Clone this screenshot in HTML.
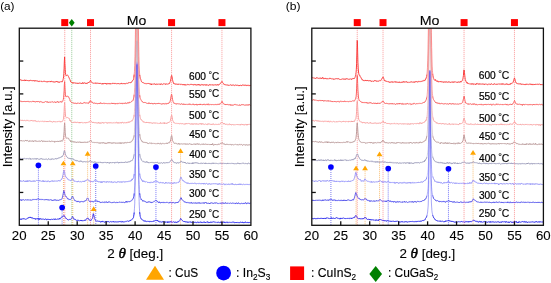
<!DOCTYPE html>
<html><head><meta charset="utf-8"><style>
html,body{margin:0;padding:0;background:#fff;}
svg{display:block;will-change:transform;}
</style></head><body>
<svg width="551" height="283" viewBox="0 0 551 283">
<defs><filter id="bl" x="0" y="0" width="551" height="283" filterUnits="userSpaceOnUse"><feConvolveMatrix order="3" kernelMatrix="0.015 0.06 0.015 0.06 0.7 0.06 0.015 0.06 0.015" edgeMode="duplicate" preserveAlpha="true"/></filter></defs>
<g>
<rect width="551" height="283" fill="#fff"/>
<clipPath id="clipa"><rect x="19.30" y="28.20" width="231.60" height="197.10"/></clipPath>
<g clip-path="url(#clipa)"><g filter="url(#bl)">
<line x1="64.75" y1="28.20" x2="64.75" y2="225.30" stroke="#ff2020" stroke-width="0.90" stroke-dasharray="1 1" stroke-opacity="0.50"/>
<line x1="90.52" y1="28.20" x2="90.52" y2="225.30" stroke="#ff2020" stroke-width="0.90" stroke-dasharray="1 1" stroke-opacity="0.50"/>
<line x1="171.58" y1="28.20" x2="171.58" y2="225.30" stroke="#ff2020" stroke-width="0.90" stroke-dasharray="1 1" stroke-opacity="0.50"/>
<line x1="221.95" y1="28.20" x2="221.95" y2="225.30" stroke="#ff2020" stroke-width="0.90" stroke-dasharray="1 1" stroke-opacity="0.50"/>
<line x1="71.76" y1="28.20" x2="71.76" y2="225.30" stroke="#209020" stroke-width="0.90" stroke-dasharray="1 1" stroke-opacity="0.50"/>
<line x1="38.41" y1="168.30" x2="38.41" y2="225.30" stroke="#2020ff" stroke-width="0.90" stroke-dasharray="1 1" stroke-opacity="0.65"/>
<line x1="62.15" y1="210.60" x2="62.15" y2="225.30" stroke="#2020ff" stroke-width="0.90" stroke-dasharray="1 1" stroke-opacity="0.65"/>
<line x1="95.73" y1="169.00" x2="95.73" y2="225.30" stroke="#2020ff" stroke-width="0.90" stroke-dasharray="1 1" stroke-opacity="0.65"/>
<line x1="155.94" y1="170.10" x2="155.94" y2="225.30" stroke="#2020ff" stroke-width="0.90" stroke-dasharray="1 1" stroke-opacity="0.65"/>
<line x1="63.48" y1="166.00" x2="63.48" y2="225.30" stroke="#ffa020" stroke-width="0.90" stroke-dasharray="1 1" stroke-opacity="0.65"/>
<line x1="72.74" y1="166.00" x2="72.74" y2="225.30" stroke="#ffa020" stroke-width="0.90" stroke-dasharray="1 1" stroke-opacity="0.65"/>
<line x1="87.62" y1="156.30" x2="87.62" y2="225.30" stroke="#ffa020" stroke-width="0.90" stroke-dasharray="1 1" stroke-opacity="0.65"/>
<line x1="93.70" y1="211.70" x2="93.70" y2="225.30" stroke="#ffa020" stroke-width="0.90" stroke-dasharray="1 1" stroke-opacity="0.65"/>
<line x1="180.55" y1="153.60" x2="180.55" y2="225.30" stroke="#ffa020" stroke-width="0.90" stroke-dasharray="1 1" stroke-opacity="0.65"/>
<path d="M19.30 80.17 L19.56 80.29 L19.82 80.16 L20.08 79.68 L20.34 79.92 L20.60 79.76 L20.86 80.10 L21.12 79.81 L21.38 80.29 L21.64 80.33 L21.91 80.79 L22.17 80.55 L22.43 80.53 L22.69 80.23 L22.95 80.07 L23.21 80.61 L23.47 80.42 L23.73 80.48 L23.99 80.45 L24.25 80.58 L24.51 79.94 L24.77 79.75 L25.03 80.34 L25.29 81.00 L25.55 80.06 L25.81 80.12 L26.07 80.41 L26.33 80.30 L26.60 80.34 L26.86 80.34 L27.12 80.71 L27.38 80.59 L27.64 80.60 L27.90 80.24 L28.16 80.65 L28.42 81.07 L28.68 80.91 L28.94 80.61 L29.20 80.28 L29.46 80.66 L29.72 80.78 L29.98 80.64 L30.24 80.04 L30.50 80.29 L30.76 80.28 L31.02 80.35 L31.29 80.69 L31.55 80.46 L31.81 80.61 L32.07 81.10 L32.33 80.68 L32.59 80.76 L32.85 80.99 L33.11 80.72 L33.37 80.41 L33.63 80.82 L33.89 81.12 L34.15 80.50 L34.41 80.72 L34.67 80.75 L34.93 81.26 L35.19 80.63 L35.45 80.82 L35.71 80.55 L35.98 80.62 L36.24 80.92 L36.50 80.92 L36.76 80.99 L37.02 80.86 L37.28 80.61 L37.54 81.23 L37.80 81.58 L38.06 81.28 L38.32 81.11 L38.58 81.54 L38.84 81.45 L39.10 81.37 L39.36 81.53 L39.62 81.10 L39.88 81.00 L40.14 81.24 L40.40 80.98 L40.67 81.24 L40.93 81.38 L41.19 81.53 L41.45 81.57 L41.71 81.07 L41.97 81.28 L42.23 81.48 L42.49 81.74 L42.75 81.81 L43.01 81.49 L43.27 81.42 L43.53 81.14 L43.79 81.25 L44.05 81.20 L44.31 81.05 L44.57 81.28 L44.83 81.72 L45.09 82.00 L45.36 81.75 L45.62 81.57 L45.88 81.64 L46.14 81.79 L46.40 81.77 L46.66 81.73 L46.92 81.56 L47.18 81.49 L47.44 82.16 L47.70 82.04 L47.96 81.49 L48.22 81.78 L48.48 81.45 L48.74 81.63 L49.00 81.49 L49.26 81.66 L49.52 81.50 L49.78 81.53 L50.04 81.75 L50.31 81.85 L50.57 81.24 L50.83 81.88 L51.09 81.17 L51.35 81.13 L51.61 81.39 L51.87 81.75 L52.13 81.70 L52.39 81.57 L52.65 81.96 L52.91 81.82 L53.17 81.75 L53.43 81.97 L53.69 81.63 L53.95 82.31 L54.21 82.28 L54.47 81.92 L54.73 81.84 L55.00 81.85 L55.26 82.01 L55.52 81.98 L55.78 81.64 L56.04 81.48 L56.30 82.01 L56.56 81.50 L56.82 81.50 L57.08 82.04 L57.34 81.50 L57.60 81.88 L57.86 82.13 L58.12 82.58 L58.38 82.41 L58.64 82.06 L58.90 81.61 L59.16 82.13 L59.42 82.25 L59.69 82.36 L59.95 82.39 L60.21 81.98 L60.47 81.75 L60.73 81.47 L60.99 81.78 L61.25 81.95 L61.51 81.57 L61.77 81.63 L62.03 81.77 L62.29 81.84 L62.55 81.03 L62.81 80.57 L63.07 79.65 L63.33 78.38 L63.59 76.88 L63.85 73.84 L64.11 68.24 L64.38 60.50 L64.64 56.98 L64.90 63.68 L65.16 69.27 L65.42 72.70 L65.68 74.39 L65.94 75.63 L66.20 75.71 L66.46 75.24 L66.72 75.49 L66.98 75.38 L67.24 75.17 L67.50 75.18 L67.76 75.34 L68.02 75.62 L68.28 76.20 L68.54 76.63 L68.80 77.28 L69.07 77.85 L69.33 78.45 L69.59 78.94 L69.85 79.58 L70.11 79.82 L70.37 80.91 L70.63 81.81 L70.89 81.76 L71.15 81.74 L71.41 82.25 L71.67 82.35 L71.93 82.80 L72.19 82.33 L72.45 83.10 L72.71 83.32 L72.97 83.15 L73.23 82.44 L73.49 82.71 L73.75 83.31 L74.02 83.12 L74.28 82.80 L74.54 82.98 L74.80 83.01 L75.06 82.69 L75.32 82.91 L75.58 83.26 L75.84 83.36 L76.10 83.42 L76.36 83.26 L76.62 82.94 L76.88 83.02 L77.14 83.59 L77.40 83.40 L77.66 83.39 L77.92 82.90 L78.18 83.35 L78.44 83.24 L78.71 83.58 L78.97 83.15 L79.23 83.10 L79.49 83.05 L79.75 82.94 L80.01 82.99 L80.27 83.13 L80.53 83.14 L80.79 83.24 L81.05 83.71 L81.31 83.48 L81.57 83.41 L81.83 83.05 L82.09 83.64 L82.35 83.11 L82.61 82.59 L82.87 83.04 L83.13 83.24 L83.40 82.96 L83.66 83.49 L83.92 82.83 L84.18 82.67 L84.44 83.01 L84.70 83.03 L84.96 83.07 L85.22 83.31 L85.48 83.17 L85.74 83.55 L86.00 82.87 L86.26 83.22 L86.52 83.73 L86.78 83.36 L87.04 83.40 L87.30 83.53 L87.56 83.21 L87.82 82.98 L88.09 82.24 L88.35 82.45 L88.61 82.92 L88.87 82.65 L89.13 82.16 L89.39 82.13 L89.65 81.77 L89.91 81.39 L90.17 80.76 L90.43 80.61 L90.69 80.40 L90.95 81.41 L91.21 81.76 L91.47 81.92 L91.73 82.45 L91.99 82.61 L92.25 82.84 L92.51 82.77 L92.78 82.89 L93.04 82.94 L93.30 83.00 L93.56 83.27 L93.82 83.07 L94.08 83.05 L94.34 83.28 L94.60 83.01 L94.86 83.21 L95.12 83.36 L95.38 83.43 L95.64 83.36 L95.90 82.63 L96.16 83.21 L96.42 83.44 L96.68 83.22 L96.94 83.58 L97.20 83.43 L97.47 83.18 L97.73 83.24 L97.99 83.40 L98.25 83.28 L98.51 83.27 L98.77 83.60 L99.03 83.94 L99.29 83.46 L99.55 83.29 L99.81 83.87 L100.07 83.52 L100.33 83.43 L100.59 83.43 L100.85 83.55 L101.11 83.61 L101.37 83.71 L101.63 83.96 L101.89 83.90 L102.15 83.95 L102.42 83.30 L102.68 83.66 L102.94 84.27 L103.20 83.64 L103.46 84.00 L103.72 83.52 L103.98 83.46 L104.24 83.41 L104.50 83.09 L104.76 83.41 L105.02 83.32 L105.28 83.86 L105.54 83.42 L105.80 83.12 L106.06 84.05 L106.32 83.76 L106.58 83.77 L106.84 84.34 L107.11 83.77 L107.37 83.32 L107.63 83.51 L107.89 83.63 L108.15 83.59 L108.41 83.80 L108.67 83.40 L108.93 83.93 L109.19 83.73 L109.45 83.66 L109.71 84.16 L109.97 83.37 L110.23 83.46 L110.49 84.04 L110.75 83.94 L111.01 83.95 L111.27 83.72 L111.53 84.00 L111.80 83.99 L112.06 83.62 L112.32 83.42 L112.58 83.42 L112.84 83.62 L113.10 83.53 L113.36 82.94 L113.62 83.26 L113.88 83.60 L114.14 83.88 L114.40 83.77 L114.66 83.31 L114.92 83.44 L115.18 83.78 L115.44 83.35 L115.70 83.52 L115.96 83.43 L116.22 83.68 L116.49 83.74 L116.75 83.50 L117.01 83.82 L117.27 83.74 L117.53 83.54 L117.79 83.79 L118.05 84.03 L118.31 83.63 L118.57 83.48 L118.83 83.88 L119.09 83.58 L119.35 83.80 L119.61 84.12 L119.87 83.81 L120.13 83.79 L120.39 83.65 L120.65 83.78 L120.91 83.38 L121.18 83.18 L121.44 83.48 L121.70 82.99 L121.96 83.79 L122.22 84.11 L122.48 83.83 L122.74 83.53 L123.00 83.47 L123.26 83.63 L123.52 83.52 L123.78 83.90 L124.04 83.51 L124.30 83.75 L124.56 83.55 L124.82 83.19 L125.08 83.70 L125.34 83.82 L125.60 83.63 L125.86 83.48 L126.13 83.48 L126.39 83.41 L126.65 83.20 L126.91 83.45 L127.17 83.50 L127.43 83.40 L127.69 83.23 L127.95 83.07 L128.21 83.02 L128.47 83.10 L128.73 82.65 L128.99 82.53 L129.25 82.85 L129.51 82.65 L129.77 83.01 L130.03 82.76 L130.29 82.62 L130.55 82.82 L130.82 82.78 L131.08 82.38 L131.34 82.09 L131.60 82.26 L131.86 81.56 L132.12 81.12 L132.38 81.02 L132.64 80.46 L132.90 80.13 L133.16 80.04 L133.42 79.65 L133.68 78.47 L133.94 77.04 L134.20 74.54" fill="none" stroke="#ff3c3c" stroke-width="0.98" stroke-linejoin="round" stroke-opacity="1.00"/><path d="M133.94 77.04 L134.20 74.54 L134.46 71.38 L134.72 65.60 L134.98 56.68 L135.24 44.45 L135.51 28.04 L135.77 8.20 L136.03 8.20 L136.29 8.20 L136.55 8.20 L136.81 8.20 L137.07 8.20 L137.33 8.20 L137.59 8.20 L137.85 8.20 L138.11 8.20 L138.37 25.81 L138.63 43.11 L138.89 55.68 L139.15 65.30 L139.41 70.88 L139.67 74.76 L139.93 76.48" fill="none" stroke="#ff3c3c" stroke-width="0.90" stroke-linejoin="round" stroke-opacity="0.60"/><path d="M139.67 74.76 L139.93 76.48 L140.20 78.23 L140.46 78.96 L140.72 79.32 L140.98 80.27 L141.24 80.80 L141.50 81.62 L141.76 81.88 L142.02 81.86 L142.28 82.20 L142.54 82.49 L142.80 82.21 L143.06 82.62 L143.32 82.74 L143.58 83.03 L143.84 83.17 L144.10 83.33 L144.36 83.36 L144.62 83.45 L144.89 83.51 L145.15 83.72 L145.41 83.37 L145.67 83.30 L145.93 83.66 L146.19 83.58 L146.45 83.77 L146.71 83.55 L146.97 83.31 L147.23 83.45 L147.49 83.44 L147.75 83.55 L148.01 83.80 L148.27 83.45 L148.53 83.44 L148.79 83.61 L149.05 83.74 L149.31 84.10 L149.58 83.92 L149.84 83.51 L150.10 84.23 L150.36 84.02 L150.62 84.21 L150.88 84.04 L151.14 83.86 L151.40 84.84 L151.66 83.96 L151.92 84.16 L152.18 84.17 L152.44 83.98 L152.70 84.25 L152.96 84.32 L153.22 84.18 L153.48 84.20 L153.74 84.05 L154.00 83.76 L154.26 83.65 L154.53 84.08 L154.79 84.02 L155.05 84.34 L155.31 84.00 L155.57 84.42 L155.83 83.90 L156.09 84.16 L156.35 83.83 L156.61 83.96 L156.87 84.54 L157.13 84.40 L157.39 84.32 L157.65 84.17 L157.91 84.16 L158.17 83.84 L158.43 84.08 L158.69 84.11 L158.95 84.48 L159.22 84.35 L159.48 84.13 L159.74 84.14 L160.00 84.20 L160.26 84.09 L160.52 84.53 L160.78 84.01 L161.04 84.06 L161.30 83.66 L161.56 83.95 L161.82 84.47 L162.08 84.71 L162.34 84.42 L162.60 84.30 L162.86 84.31 L163.12 84.24 L163.38 84.11 L163.64 83.76 L163.91 83.54 L164.17 83.67 L164.43 83.94 L164.69 84.13 L164.95 83.73 L165.21 83.94 L165.47 84.08 L165.73 84.54 L165.99 84.20 L166.25 83.75 L166.51 84.03 L166.77 84.04 L167.03 84.22 L167.29 84.31 L167.55 84.11 L167.81 83.84 L168.07 83.77 L168.33 83.84 L168.60 83.91 L168.86 84.07 L169.12 83.52 L169.38 83.48 L169.64 83.41 L169.90 82.39 L170.16 81.73 L170.42 81.31 L170.68 80.09 L170.94 78.55 L171.20 76.62 L171.46 75.65 L171.72 75.36 L171.98 76.61 L172.24 78.13 L172.50 79.60 L172.76 80.74 L173.02 81.92 L173.29 82.43 L173.55 83.47 L173.81 82.96 L174.07 83.17 L174.33 83.43 L174.59 83.93 L174.85 84.00 L175.11 84.38 L175.37 84.25 L175.63 83.81 L175.89 83.83 L176.15 84.25 L176.41 84.08 L176.67 84.22 L176.93 83.85 L177.19 84.10 L177.45 84.24 L177.71 84.55 L177.97 84.19 L178.24 83.84 L178.50 84.36 L178.76 84.46 L179.02 84.50 L179.28 84.26 L179.54 84.05 L179.80 84.02 L180.06 84.29 L180.32 84.50 L180.58 84.02 L180.84 84.12 L181.10 84.06 L181.36 84.24 L181.62 84.44 L181.88 84.54 L182.14 84.47 L182.40 84.70 L182.66 84.90 L182.93 84.31 L183.19 84.90 L183.45 84.59 L183.71 84.88 L183.97 84.87 L184.23 85.15 L184.49 84.51 L184.75 84.90 L185.01 84.68 L185.27 84.36 L185.53 85.05 L185.79 85.21 L186.05 85.28 L186.31 84.95 L186.57 84.89 L186.83 84.96 L187.09 84.49 L187.35 84.71 L187.62 84.35 L187.88 84.37 L188.14 84.54 L188.40 84.56 L188.66 84.53 L188.92 84.77 L189.18 85.04 L189.44 84.74 L189.70 84.89 L189.96 84.75 L190.22 84.60 L190.48 84.39 L190.74 84.54 L191.00 84.82 L191.26 84.33 L191.52 84.28 L191.78 84.29 L192.04 84.62 L192.31 84.90 L192.57 84.73 L192.83 84.43 L193.09 85.09 L193.35 84.92 L193.61 84.85 L193.87 84.64 L194.13 84.48 L194.39 84.97 L194.65 84.65 L194.91 84.68 L195.17 85.13 L195.43 84.55 L195.69 84.84 L195.95 84.84 L196.21 84.90 L196.47 85.25 L196.73 84.67 L197.00 84.84 L197.26 84.92 L197.52 85.04 L197.78 84.52 L198.04 84.25 L198.30 84.81 L198.56 85.02 L198.82 84.44 L199.08 85.12 L199.34 84.68 L199.60 85.16 L199.86 84.94 L200.12 85.33 L200.38 85.30 L200.64 85.14 L200.90 84.62 L201.16 84.42 L201.42 84.88 L201.69 84.75 L201.95 85.21 L202.21 85.04 L202.47 84.90 L202.73 84.52 L202.99 85.07 L203.25 85.04 L203.51 85.15 L203.77 85.10 L204.03 84.64 L204.29 84.79 L204.55 85.12 L204.81 84.76 L205.07 85.09 L205.33 85.15 L205.59 84.97 L205.85 84.68 L206.11 85.33 L206.37 84.66 L206.64 84.86 L206.90 84.98 L207.16 84.84 L207.42 84.96 L207.68 85.06 L207.94 85.00 L208.20 85.03 L208.46 85.01 L208.72 85.53 L208.98 85.43 L209.24 84.85 L209.50 84.48 L209.76 84.76 L210.02 85.09 L210.28 84.92 L210.54 84.92 L210.80 84.80 L211.06 84.67 L211.33 85.08 L211.59 84.86 L211.85 84.79 L212.11 84.77 L212.37 84.97 L212.63 84.65 L212.89 85.21 L213.15 85.04 L213.41 85.21 L213.67 84.89 L213.93 84.83 L214.19 85.08 L214.45 84.82 L214.71 84.83 L214.97 85.12 L215.23 84.71 L215.49 84.94 L215.75 84.70 L216.02 85.00 L216.28 84.96 L216.54 85.00 L216.80 85.24 L217.06 84.61 L217.32 84.76 L217.58 84.51 L217.84 84.85 L218.10 84.76 L218.36 85.31 L218.62 85.06 L218.88 84.45 L219.14 84.44 L219.40 84.05 L219.66 84.22 L219.92 83.99 L220.18 83.64 L220.44 83.27 L220.71 83.34 L220.97 82.85 L221.23 82.20 L221.49 82.12 L221.75 81.72 L222.01 81.39 L222.27 82.04 L222.53 82.41 L222.79 82.65 L223.05 82.84 L223.31 83.27 L223.57 83.90 L223.83 84.39 L224.09 84.38 L224.35 84.64 L224.61 84.37 L224.87 84.41 L225.13 84.99 L225.40 84.85 L225.66 84.87 L225.92 85.01 L226.18 84.84 L226.44 84.84 L226.70 85.13 L226.96 85.25 L227.22 85.17 L227.48 84.87 L227.74 84.98 L228.00 85.12 L228.26 85.54 L228.52 85.11 L228.78 84.99 L229.04 85.05 L229.30 85.42 L229.56 85.09 L229.82 85.01 L230.08 84.72 L230.35 84.76 L230.61 84.93 L230.87 85.09 L231.13 85.02 L231.39 85.07 L231.65 85.47 L231.91 84.96 L232.17 85.19 L232.43 85.07 L232.69 85.10 L232.95 85.17 L233.21 85.21 L233.47 85.01 L233.73 84.82 L233.99 85.26 L234.25 85.25 L234.51 85.01 L234.77 85.56 L235.04 85.32 L235.30 85.09 L235.56 84.86 L235.82 85.21 L236.08 85.27 L236.34 85.09 L236.60 85.32 L236.86 85.70 L237.12 85.31 L237.38 85.06 L237.64 85.21 L237.90 85.53 L238.16 85.70 L238.42 85.48 L238.68 85.37 L238.94 85.13 L239.20 85.60 L239.46 85.03 L239.73 85.62 L239.99 85.53 L240.25 85.42 L240.51 84.98 L240.77 85.23 L241.03 85.56 L241.29 85.70 L241.55 85.30 L241.81 85.75 L242.07 85.31 L242.33 84.90 L242.59 84.89 L242.85 85.02 L243.11 85.23 L243.37 85.10 L243.63 85.18 L243.89 85.21 L244.15 85.37 L244.42 84.87 L244.68 85.09 L244.94 85.66 L245.20 85.40 L245.46 85.22 L245.72 84.84 L245.98 85.19 L246.24 85.61 L246.50 85.71 L246.76 85.21 L247.02 84.95 L247.28 85.46 L247.54 85.54 L247.80 85.18 L248.06 85.29 L248.32 85.53 L248.58 85.33 L248.84 85.13 L249.11 85.40 L249.37 85.97 L249.63 85.61 L249.89 85.42 L250.15 85.46 L250.41 84.98 L250.67 85.63" fill="none" stroke="#ff3c3c" stroke-width="0.98" stroke-linejoin="round" stroke-opacity="1.00"/>
<path d="M19.30 101.04 L19.56 101.07 L19.82 101.75 L20.08 101.25 L20.34 100.86 L20.60 101.20 L20.86 101.27 L21.12 101.44 L21.38 101.22 L21.64 101.64 L21.91 101.55 L22.17 102.03 L22.43 101.67 L22.69 101.48 L22.95 101.74 L23.21 101.68 L23.47 101.23 L23.73 101.52 L23.99 101.22 L24.25 101.64 L24.51 101.29 L24.77 101.44 L25.03 101.19 L25.29 101.41 L25.55 101.76 L25.81 101.81 L26.07 101.36 L26.33 101.05 L26.60 101.50 L26.86 101.27 L27.12 101.18 L27.38 101.55 L27.64 101.16 L27.90 101.58 L28.16 101.79 L28.42 101.58 L28.68 101.27 L28.94 101.37 L29.20 101.86 L29.46 101.66 L29.72 101.89 L29.98 101.65 L30.24 101.60 L30.50 101.61 L30.76 101.60 L31.02 101.65 L31.29 101.81 L31.55 101.96 L31.81 101.65 L32.07 101.36 L32.33 101.35 L32.59 101.28 L32.85 100.97 L33.11 101.42 L33.37 101.36 L33.63 102.03 L33.89 101.61 L34.15 101.26 L34.41 101.64 L34.67 101.66 L34.93 101.90 L35.19 101.79 L35.45 102.21 L35.71 101.67 L35.98 101.76 L36.24 101.61 L36.50 101.56 L36.76 101.24 L37.02 101.75 L37.28 101.31 L37.54 101.72 L37.80 101.87 L38.06 101.90 L38.32 101.40 L38.58 101.88 L38.84 101.63 L39.10 101.85 L39.36 101.72 L39.62 102.30 L39.88 101.81 L40.14 101.77 L40.40 101.89 L40.67 101.47 L40.93 101.61 L41.19 101.73 L41.45 101.89 L41.71 101.79 L41.97 102.32 L42.23 102.53 L42.49 102.41 L42.75 102.05 L43.01 102.12 L43.27 102.52 L43.53 102.56 L43.79 102.29 L44.05 101.89 L44.31 102.22 L44.57 102.22 L44.83 102.04 L45.09 101.94 L45.36 101.59 L45.62 101.45 L45.88 101.47 L46.14 101.89 L46.40 101.99 L46.66 101.78 L46.92 101.85 L47.18 102.31 L47.44 101.76 L47.70 101.80 L47.96 101.61 L48.22 102.40 L48.48 102.01 L48.74 102.37 L49.00 102.31 L49.26 101.93 L49.52 102.15 L49.78 102.11 L50.04 102.17 L50.31 102.12 L50.57 102.22 L50.83 102.24 L51.09 101.89 L51.35 102.19 L51.61 101.88 L51.87 101.65 L52.13 101.82 L52.39 101.74 L52.65 101.78 L52.91 101.68 L53.17 102.17 L53.43 102.32 L53.69 101.97 L53.95 102.38 L54.21 102.14 L54.47 101.89 L54.73 101.75 L55.00 102.08 L55.26 102.05 L55.52 102.14 L55.78 102.87 L56.04 102.56 L56.30 102.20 L56.56 101.83 L56.82 101.90 L57.08 101.84 L57.34 101.85 L57.60 101.39 L57.86 101.91 L58.12 101.73 L58.38 102.55 L58.64 102.15 L58.90 102.33 L59.16 102.23 L59.42 101.90 L59.69 102.05 L59.95 101.92 L60.21 101.89 L60.47 101.97 L60.73 101.47 L60.99 102.19 L61.25 102.17 L61.51 101.94 L61.77 102.22 L62.03 101.61 L62.29 100.91 L62.55 101.26 L62.81 100.78 L63.07 100.36 L63.33 99.31 L63.59 97.75 L63.85 94.93 L64.11 90.71 L64.38 84.49 L64.64 81.59 L64.90 87.07 L65.16 91.95 L65.42 94.72 L65.68 96.13 L65.94 96.87 L66.20 96.91 L66.46 96.50 L66.72 96.28 L66.98 95.89 L67.24 96.11 L67.50 96.26 L67.76 96.49 L68.02 96.91 L68.28 96.86 L68.54 96.73 L68.80 97.43 L69.07 98.22 L69.33 98.37 L69.59 99.00 L69.85 99.60 L70.11 100.96 L70.37 101.44 L70.63 101.38 L70.89 101.64 L71.15 102.06 L71.41 102.37 L71.67 102.56 L71.93 102.34 L72.19 102.38 L72.45 103.05 L72.71 102.92 L72.97 103.18 L73.23 103.00 L73.49 103.03 L73.75 103.05 L74.02 102.92 L74.28 103.28 L74.54 103.29 L74.80 103.07 L75.06 103.06 L75.32 103.44 L75.58 102.89 L75.84 103.19 L76.10 103.37 L76.36 103.55 L76.62 103.57 L76.88 102.99 L77.14 103.24 L77.40 103.02 L77.66 103.26 L77.92 103.16 L78.18 103.33 L78.44 102.97 L78.71 103.09 L78.97 103.22 L79.23 103.27 L79.49 103.38 L79.75 103.66 L80.01 103.02 L80.27 103.09 L80.53 102.66 L80.79 103.13 L81.05 103.53 L81.31 103.29 L81.57 103.48 L81.83 103.76 L82.09 103.42 L82.35 103.45 L82.61 103.47 L82.87 103.03 L83.13 102.78 L83.40 102.92 L83.66 102.84 L83.92 103.20 L84.18 102.56 L84.44 102.42 L84.70 102.42 L84.96 102.96 L85.22 103.00 L85.48 103.02 L85.74 102.98 L86.00 102.93 L86.26 102.83 L86.52 103.05 L86.78 102.99 L87.04 103.09 L87.30 103.01 L87.56 103.00 L87.82 102.95 L88.09 103.43 L88.35 103.52 L88.61 103.22 L88.87 102.24 L89.13 102.45 L89.39 102.53 L89.65 102.05 L89.91 101.07 L90.17 100.79 L90.43 101.34 L90.69 100.91 L90.95 100.77 L91.21 101.41 L91.47 102.18 L91.73 102.36 L91.99 102.23 L92.25 102.02 L92.51 102.66 L92.78 102.42 L93.04 103.09 L93.30 103.38 L93.56 103.29 L93.82 103.18 L94.08 103.14 L94.34 103.12 L94.60 102.99 L94.86 102.91 L95.12 102.90 L95.38 103.57 L95.64 103.84 L95.90 103.47 L96.16 103.50 L96.42 103.29 L96.68 103.35 L96.94 103.70 L97.20 103.71 L97.47 103.73 L97.73 103.66 L97.99 103.67 L98.25 103.28 L98.51 103.54 L98.77 102.99 L99.03 103.33 L99.29 103.47 L99.55 103.54 L99.81 102.94 L100.07 103.52 L100.33 103.12 L100.59 102.68 L100.85 103.17 L101.11 103.33 L101.37 102.97 L101.63 103.38 L101.89 103.38 L102.15 103.42 L102.42 103.10 L102.68 103.56 L102.94 103.51 L103.20 103.42 L103.46 103.15 L103.72 103.18 L103.98 103.31 L104.24 102.95 L104.50 103.11 L104.76 103.71 L105.02 103.52 L105.28 103.50 L105.54 103.40 L105.80 103.69 L106.06 103.83 L106.32 103.67 L106.58 103.45 L106.84 103.68 L107.11 103.81 L107.37 103.56 L107.63 103.66 L107.89 103.71 L108.15 103.80 L108.41 103.64 L108.67 103.40 L108.93 103.51 L109.19 103.42 L109.45 103.48 L109.71 103.89 L109.97 103.85 L110.23 103.62 L110.49 103.65 L110.75 103.70 L111.01 103.68 L111.27 103.46 L111.53 103.38 L111.80 102.90 L112.06 103.33 L112.32 103.97 L112.58 103.45 L112.84 103.88 L113.10 103.40 L113.36 103.35 L113.62 103.75 L113.88 103.30 L114.14 103.29 L114.40 103.73 L114.66 103.50 L114.92 103.69 L115.18 104.20 L115.44 103.42 L115.70 103.77 L115.96 104.04 L116.22 103.63 L116.49 103.47 L116.75 103.68 L117.01 103.70 L117.27 103.93 L117.53 103.25 L117.79 103.38 L118.05 103.70 L118.31 103.67 L118.57 103.42 L118.83 103.64 L119.09 103.65 L119.35 103.26 L119.61 102.89 L119.87 103.28 L120.13 103.33 L120.39 103.43 L120.65 103.52 L120.91 103.20 L121.18 103.17 L121.44 103.62 L121.70 103.26 L121.96 103.02 L122.22 102.98 L122.48 103.37 L122.74 103.86 L123.00 103.78 L123.26 103.06 L123.52 103.24 L123.78 103.10 L124.04 103.44 L124.30 103.37 L124.56 103.23 L124.82 103.03 L125.08 103.48 L125.34 102.88 L125.60 102.96 L125.86 102.78 L126.13 103.27 L126.39 103.51 L126.65 103.31 L126.91 103.36 L127.17 103.10 L127.43 102.61 L127.69 102.85 L127.95 103.38 L128.21 102.85 L128.47 103.02 L128.73 102.41 L128.99 102.71 L129.25 102.96 L129.51 102.71 L129.77 102.03 L130.03 102.26 L130.29 101.99 L130.55 102.31 L130.82 102.14 L131.08 101.88 L131.34 101.78 L131.60 101.26 L131.86 101.16 L132.12 101.22 L132.38 100.92 L132.64 100.98 L132.90 100.40 L133.16 100.30 L133.42 98.93 L133.68 98.04 L133.94 96.88 L134.20 94.61" fill="none" stroke="#ff6060" stroke-width="0.98" stroke-linejoin="round" stroke-opacity="1.00"/><path d="M133.94 96.88 L134.20 94.61 L134.46 91.99 L134.72 87.34 L134.98 80.58 L135.24 70.88 L135.51 58.14 L135.77 42.41 L136.03 24.20 L136.29 8.20 L136.55 8.20 L136.81 8.20 L137.07 8.20 L137.33 8.20 L137.59 8.20 L137.85 22.00 L138.11 40.23 L138.37 56.44 L138.63 69.35 L138.89 79.96 L139.15 86.90 L139.41 91.83 L139.67 95.08 L139.93 97.40" fill="none" stroke="#ff6060" stroke-width="0.90" stroke-linejoin="round" stroke-opacity="0.60"/><path d="M139.67 95.08 L139.93 97.40 L140.20 98.26 L140.46 98.87 L140.72 99.37 L140.98 99.94 L141.24 100.58 L141.50 100.83 L141.76 100.98 L142.02 100.97 L142.28 101.34 L142.54 101.98 L142.80 102.16 L143.06 102.22 L143.32 102.60 L143.58 102.67 L143.84 102.18 L144.10 102.67 L144.36 102.46 L144.62 102.82 L144.89 102.56 L145.15 102.61 L145.41 102.33 L145.67 102.58 L145.93 102.97 L146.19 103.04 L146.45 103.31 L146.71 103.15 L146.97 103.34 L147.23 103.38 L147.49 103.38 L147.75 103.50 L148.01 103.20 L148.27 103.64 L148.53 103.63 L148.79 102.78 L149.05 102.61 L149.31 103.23 L149.58 103.46 L149.84 103.21 L150.10 103.98 L150.36 103.49 L150.62 103.67 L150.88 103.86 L151.14 103.43 L151.40 103.12 L151.66 103.32 L151.92 103.23 L152.18 103.63 L152.44 103.19 L152.70 103.70 L152.96 104.20 L153.22 103.74 L153.48 103.53 L153.74 103.71 L154.00 103.65 L154.26 103.39 L154.53 103.19 L154.79 103.97 L155.05 103.50 L155.31 103.64 L155.57 103.80 L155.83 103.92 L156.09 103.87 L156.35 103.50 L156.61 103.74 L156.87 103.85 L157.13 103.41 L157.39 103.78 L157.65 103.24 L157.91 103.60 L158.17 103.37 L158.43 103.34 L158.69 103.79 L158.95 103.37 L159.22 103.72 L159.48 103.97 L159.74 103.50 L160.00 103.67 L160.26 104.07 L160.52 103.72 L160.78 103.79 L161.04 104.00 L161.30 104.02 L161.56 104.22 L161.82 103.76 L162.08 104.32 L162.34 104.14 L162.60 103.83 L162.86 103.45 L163.12 103.91 L163.38 103.83 L163.64 103.65 L163.91 104.00 L164.17 104.11 L164.43 104.13 L164.69 103.59 L164.95 103.47 L165.21 103.33 L165.47 103.63 L165.73 104.07 L165.99 104.14 L166.25 104.17 L166.51 103.45 L166.77 103.61 L167.03 103.42 L167.29 103.50 L167.55 103.60 L167.81 103.62 L168.07 102.96 L168.33 103.52 L168.60 103.15 L168.86 103.22 L169.12 102.47 L169.38 102.62 L169.64 102.41 L169.90 102.44 L170.16 100.99 L170.42 100.27 L170.68 98.81 L170.94 97.03 L171.20 95.80 L171.46 94.27 L171.72 94.44 L171.98 95.93 L172.24 97.72 L172.50 99.31 L172.76 100.21 L173.02 101.55 L173.29 102.26 L173.55 102.48 L173.81 103.27 L174.07 103.22 L174.33 103.05 L174.59 103.45 L174.85 103.70 L175.11 103.31 L175.37 103.70 L175.63 103.95 L175.89 103.77 L176.15 104.03 L176.41 104.21 L176.67 103.62 L176.93 104.03 L177.19 103.81 L177.45 103.66 L177.71 103.97 L177.97 103.85 L178.24 104.02 L178.50 103.89 L178.76 103.69 L179.02 104.01 L179.28 103.96 L179.54 104.03 L179.80 103.90 L180.06 104.12 L180.32 104.10 L180.58 104.41 L180.84 104.09 L181.10 104.24 L181.36 103.97 L181.62 103.58 L181.88 104.17 L182.14 104.15 L182.40 104.23 L182.66 104.49 L182.93 103.98 L183.19 103.94 L183.45 103.90 L183.71 103.99 L183.97 104.85 L184.23 104.44 L184.49 104.39 L184.75 104.13 L185.01 104.25 L185.27 104.21 L185.53 104.66 L185.79 104.28 L186.05 104.55 L186.31 104.27 L186.57 104.26 L186.83 104.12 L187.09 104.42 L187.35 104.29 L187.62 104.54 L187.88 104.42 L188.14 104.22 L188.40 104.04 L188.66 104.41 L188.92 104.02 L189.18 104.39 L189.44 103.78 L189.70 104.32 L189.96 104.43 L190.22 104.38 L190.48 104.54 L190.74 104.06 L191.00 104.18 L191.26 104.48 L191.52 104.72 L191.78 104.52 L192.04 104.51 L192.31 104.45 L192.57 104.65 L192.83 104.25 L193.09 103.77 L193.35 104.53 L193.61 104.61 L193.87 104.16 L194.13 104.46 L194.39 104.86 L194.65 105.12 L194.91 104.62 L195.17 104.86 L195.43 104.32 L195.69 104.62 L195.95 104.80 L196.21 104.34 L196.47 104.11 L196.73 104.92 L197.00 104.93 L197.26 105.22 L197.52 104.64 L197.78 104.38 L198.04 105.00 L198.30 104.62 L198.56 104.08 L198.82 104.37 L199.08 104.66 L199.34 104.69 L199.60 103.96 L199.86 104.45 L200.12 103.96 L200.38 104.96 L200.64 104.31 L200.90 104.28 L201.16 104.50 L201.42 104.41 L201.69 104.82 L201.95 104.47 L202.21 104.64 L202.47 104.70 L202.73 104.71 L202.99 104.30 L203.25 104.96 L203.51 104.47 L203.77 104.29 L204.03 104.41 L204.29 104.59 L204.55 103.88 L204.81 104.27 L205.07 104.79 L205.33 104.71 L205.59 104.69 L205.85 104.86 L206.11 104.78 L206.37 104.28 L206.64 104.16 L206.90 104.48 L207.16 103.90 L207.42 104.39 L207.68 105.06 L207.94 104.65 L208.20 104.86 L208.46 103.85 L208.72 104.16 L208.98 104.40 L209.24 104.58 L209.50 104.40 L209.76 104.82 L210.02 104.63 L210.28 104.50 L210.54 104.57 L210.80 104.77 L211.06 104.42 L211.33 104.56 L211.59 104.49 L211.85 104.88 L212.11 104.73 L212.37 104.31 L212.63 104.52 L212.89 104.35 L213.15 104.68 L213.41 104.60 L213.67 104.74 L213.93 104.73 L214.19 104.44 L214.45 104.61 L214.71 104.64 L214.97 104.67 L215.23 104.67 L215.49 104.56 L215.75 104.15 L216.02 103.98 L216.28 104.42 L216.54 104.90 L216.80 104.89 L217.06 104.49 L217.32 104.60 L217.58 104.53 L217.84 104.12 L218.10 104.19 L218.36 103.89 L218.62 104.28 L218.88 104.84 L219.14 104.41 L219.40 103.89 L219.66 104.10 L219.92 104.27 L220.18 103.69 L220.44 103.78 L220.71 103.48 L220.97 102.97 L221.23 102.53 L221.49 102.55 L221.75 102.58 L222.01 101.24 L222.27 101.83 L222.53 102.59 L222.79 102.51 L223.05 102.97 L223.31 103.57 L223.57 103.98 L223.83 104.12 L224.09 103.83 L224.35 104.17 L224.61 104.49 L224.87 104.70 L225.13 104.21 L225.40 104.84 L225.66 104.52 L225.92 105.06 L226.18 104.40 L226.44 104.11 L226.70 104.48 L226.96 104.85 L227.22 104.56 L227.48 104.70 L227.74 104.23 L228.00 104.22 L228.26 104.44 L228.52 104.65 L228.78 105.10 L229.04 105.01 L229.30 104.84 L229.56 104.84 L229.82 104.52 L230.08 105.08 L230.35 104.75 L230.61 104.65 L230.87 105.50 L231.13 104.87 L231.39 105.05 L231.65 104.95 L231.91 104.71 L232.17 104.68 L232.43 104.93 L232.69 105.36 L232.95 105.28 L233.21 104.84 L233.47 105.21 L233.73 104.92 L233.99 104.70 L234.25 104.62 L234.51 104.99 L234.77 104.40 L235.04 104.47 L235.30 104.79 L235.56 105.02 L235.82 104.48 L236.08 104.72 L236.34 104.75 L236.60 105.06 L236.86 105.16 L237.12 105.25 L237.38 105.11 L237.64 104.92 L237.90 105.05 L238.16 105.22 L238.42 105.34 L238.68 105.22 L238.94 104.93 L239.20 104.92 L239.46 104.70 L239.73 105.50 L239.99 105.18 L240.25 105.27 L240.51 105.26 L240.77 105.28 L241.03 105.09 L241.29 104.86 L241.55 105.15 L241.81 104.36 L242.07 104.71 L242.33 104.68 L242.59 104.71 L242.85 105.04 L243.11 104.75 L243.37 104.83 L243.63 104.67 L243.89 104.89 L244.15 104.84 L244.42 105.13 L244.68 105.38 L244.94 105.09 L245.20 104.77 L245.46 105.27 L245.72 105.16 L245.98 105.24 L246.24 105.22 L246.50 105.22 L246.76 104.62 L247.02 104.93 L247.28 104.86 L247.54 104.94 L247.80 104.91 L248.06 105.39 L248.32 105.06 L248.58 105.08 L248.84 104.51 L249.11 105.03 L249.37 104.60 L249.63 104.96 L249.89 104.94 L250.15 105.33 L250.41 105.29 L250.67 105.42" fill="none" stroke="#ff6060" stroke-width="0.98" stroke-linejoin="round" stroke-opacity="1.00"/>
<path d="M19.30 120.41 L19.56 120.56 L19.82 120.53 L20.08 120.69 L20.34 120.19 L20.60 120.09 L20.86 119.98 L21.12 119.98 L21.38 120.52 L21.64 120.47 L21.91 120.15 L22.17 120.08 L22.43 120.59 L22.69 120.16 L22.95 120.20 L23.21 120.48 L23.47 120.78 L23.73 120.89 L23.99 120.46 L24.25 120.14 L24.51 120.10 L24.77 120.49 L25.03 120.57 L25.29 120.86 L25.55 120.86 L25.81 120.94 L26.07 120.42 L26.33 120.26 L26.60 120.51 L26.86 120.70 L27.12 120.46 L27.38 120.94 L27.64 120.32 L27.90 120.54 L28.16 120.41 L28.42 120.73 L28.68 120.86 L28.94 120.69 L29.20 120.82 L29.46 121.12 L29.72 120.70 L29.98 120.56 L30.24 120.47 L30.50 120.62 L30.76 120.51 L31.02 120.28 L31.29 120.86 L31.55 120.55 L31.81 120.17 L32.07 120.81 L32.33 120.55 L32.59 120.94 L32.85 121.22 L33.11 120.76 L33.37 120.58 L33.63 121.15 L33.89 120.59 L34.15 120.56 L34.41 120.67 L34.67 120.72 L34.93 121.28 L35.19 121.09 L35.45 120.61 L35.71 121.33 L35.98 121.34 L36.24 121.15 L36.50 121.62 L36.76 121.53 L37.02 121.48 L37.28 121.11 L37.54 121.17 L37.80 121.61 L38.06 121.52 L38.32 121.27 L38.58 120.91 L38.84 121.30 L39.10 121.35 L39.36 121.59 L39.62 121.60 L39.88 121.65 L40.14 121.46 L40.40 121.51 L40.67 121.31 L40.93 121.47 L41.19 121.54 L41.45 121.57 L41.71 121.29 L41.97 121.52 L42.23 121.45 L42.49 121.21 L42.75 121.41 L43.01 121.64 L43.27 121.42 L43.53 121.89 L43.79 121.71 L44.05 121.85 L44.31 121.79 L44.57 121.14 L44.83 120.92 L45.09 121.46 L45.36 121.40 L45.62 121.35 L45.88 121.62 L46.14 121.65 L46.40 121.65 L46.66 121.33 L46.92 121.85 L47.18 121.07 L47.44 121.67 L47.70 121.46 L47.96 121.75 L48.22 121.64 L48.48 121.67 L48.74 121.98 L49.00 121.53 L49.26 121.02 L49.52 121.24 L49.78 120.86 L50.04 121.19 L50.31 121.26 L50.57 121.62 L50.83 121.44 L51.09 121.64 L51.35 121.22 L51.61 121.57 L51.87 121.54 L52.13 121.85 L52.39 122.29 L52.65 122.02 L52.91 121.98 L53.17 121.51 L53.43 121.43 L53.69 122.06 L53.95 121.33 L54.21 121.49 L54.47 121.73 L54.73 121.93 L55.00 121.60 L55.26 121.65 L55.52 121.81 L55.78 122.06 L56.04 121.81 L56.30 121.65 L56.56 122.00 L56.82 122.04 L57.08 121.65 L57.34 121.76 L57.60 121.68 L57.86 121.70 L58.12 121.25 L58.38 121.61 L58.64 121.63 L58.90 121.32 L59.16 121.54 L59.42 121.38 L59.69 121.39 L59.95 121.48 L60.21 122.14 L60.47 122.07 L60.73 121.46 L60.99 121.87 L61.25 121.56 L61.51 121.87 L61.77 121.76 L62.03 121.81 L62.29 121.65 L62.55 121.06 L62.81 120.58 L63.07 120.18 L63.33 119.33 L63.59 118.06 L63.85 115.97 L64.11 111.37 L64.38 105.61 L64.64 102.67 L64.90 107.52 L65.16 111.97 L65.42 114.96 L65.68 116.69 L65.94 117.29 L66.20 117.41 L66.46 117.60 L66.72 117.85 L66.98 117.79 L67.24 117.32 L67.50 117.61 L67.76 117.47 L68.02 117.50 L68.28 118.18 L68.54 118.39 L68.80 118.65 L69.07 118.98 L69.33 118.59 L69.59 119.83 L69.85 120.64 L70.11 120.08 L70.37 120.14 L70.63 120.93 L70.89 121.73 L71.15 121.94 L71.41 122.17 L71.67 121.95 L71.93 121.90 L72.19 122.29 L72.45 122.00 L72.71 122.60 L72.97 122.66 L73.23 122.47 L73.49 122.25 L73.75 122.82 L74.02 122.56 L74.28 122.03 L74.54 122.11 L74.80 121.85 L75.06 122.51 L75.32 122.20 L75.58 122.39 L75.84 122.58 L76.10 122.86 L76.36 122.23 L76.62 122.59 L76.88 122.42 L77.14 122.45 L77.40 121.91 L77.66 122.37 L77.92 122.54 L78.18 122.63 L78.44 122.74 L78.71 122.40 L78.97 122.07 L79.23 122.58 L79.49 122.21 L79.75 123.15 L80.01 122.65 L80.27 122.05 L80.53 122.64 L80.79 122.56 L81.05 122.38 L81.31 122.39 L81.57 122.45 L81.83 122.16 L82.09 122.74 L82.35 122.96 L82.61 122.72 L82.87 122.44 L83.13 122.63 L83.40 122.90 L83.66 122.81 L83.92 122.60 L84.18 122.70 L84.44 122.31 L84.70 122.74 L84.96 123.04 L85.22 122.94 L85.48 122.95 L85.74 122.84 L86.00 122.31 L86.26 122.87 L86.52 122.98 L86.78 122.41 L87.04 122.42 L87.30 122.70 L87.56 122.68 L87.82 122.23 L88.09 122.06 L88.35 121.92 L88.61 122.22 L88.87 122.37 L89.13 122.28 L89.39 121.80 L89.65 121.58 L89.91 121.04 L90.17 121.06 L90.43 120.66 L90.69 120.57 L90.95 121.23 L91.21 121.39 L91.47 121.58 L91.73 121.62 L91.99 122.00 L92.25 122.62 L92.51 122.17 L92.78 122.69 L93.04 122.28 L93.30 122.26 L93.56 122.79 L93.82 122.43 L94.08 122.51 L94.34 122.52 L94.60 123.00 L94.86 122.94 L95.12 122.66 L95.38 122.61 L95.64 122.82 L95.90 122.59 L96.16 122.90 L96.42 123.11 L96.68 123.08 L96.94 122.60 L97.20 123.12 L97.47 122.91 L97.73 123.25 L97.99 123.09 L98.25 122.87 L98.51 122.35 L98.77 123.18 L99.03 122.74 L99.29 122.93 L99.55 123.14 L99.81 123.33 L100.07 122.74 L100.33 123.29 L100.59 122.83 L100.85 122.79 L101.11 123.39 L101.37 122.99 L101.63 122.90 L101.89 122.52 L102.15 122.78 L102.42 122.22 L102.68 122.74 L102.94 123.02 L103.20 122.95 L103.46 122.64 L103.72 123.31 L103.98 122.97 L104.24 122.77 L104.50 122.84 L104.76 122.62 L105.02 122.59 L105.28 122.42 L105.54 122.55 L105.80 122.26 L106.06 122.80 L106.32 122.76 L106.58 122.78 L106.84 122.95 L107.11 122.79 L107.37 123.37 L107.63 122.72 L107.89 122.92 L108.15 123.09 L108.41 122.89 L108.67 122.64 L108.93 122.53 L109.19 123.11 L109.45 122.91 L109.71 123.04 L109.97 122.45 L110.23 122.61 L110.49 122.95 L110.75 122.90 L111.01 122.91 L111.27 122.68 L111.53 123.10 L111.80 122.93 L112.06 123.11 L112.32 123.11 L112.58 122.81 L112.84 122.87 L113.10 122.93 L113.36 122.69 L113.62 122.83 L113.88 122.70 L114.14 122.46 L114.40 122.79 L114.66 122.93 L114.92 123.12 L115.18 123.10 L115.44 122.74 L115.70 122.64 L115.96 123.11 L116.22 122.77 L116.49 122.37 L116.75 122.26 L117.01 122.49 L117.27 123.23 L117.53 122.61 L117.79 123.15 L118.05 122.76 L118.31 122.75 L118.57 122.58 L118.83 123.24 L119.09 123.33 L119.35 122.79 L119.61 122.95 L119.87 122.46 L120.13 122.59 L120.39 122.82 L120.65 122.71 L120.91 122.91 L121.18 122.23 L121.44 123.24 L121.70 122.84 L121.96 122.31 L122.22 122.40 L122.48 122.23 L122.74 122.32 L123.00 122.87 L123.26 122.76 L123.52 123.04 L123.78 123.11 L124.04 123.34 L124.30 122.66 L124.56 122.38 L124.82 122.63 L125.08 122.99 L125.34 123.08 L125.60 122.71 L125.86 122.74 L126.13 123.08 L126.39 123.04 L126.65 122.25 L126.91 122.62 L127.17 122.75 L127.43 122.62 L127.69 122.41 L127.95 121.89 L128.21 122.25 L128.47 122.49 L128.73 122.47 L128.99 121.67 L129.25 122.20 L129.51 122.21 L129.77 122.24 L130.03 121.67 L130.29 121.71 L130.55 121.38 L130.82 121.36 L131.08 121.29 L131.34 121.25 L131.60 120.69 L131.86 120.94 L132.12 121.14 L132.38 120.44 L132.64 120.04 L132.90 119.54 L133.16 118.93 L133.42 118.30 L133.68 117.42 L133.94 116.75 L134.20 114.75" fill="none" stroke="#ffa6a6" stroke-width="0.98" stroke-linejoin="round" stroke-opacity="1.00"/><path d="M133.94 116.75 L134.20 114.75 L134.46 111.58 L134.72 107.27 L134.98 101.11 L135.24 91.96 L135.51 80.57 L135.77 66.20 L136.03 49.09 L136.29 32.47 L136.55 18.53 L136.81 10.12 L137.07 10.10 L137.33 17.15 L137.59 31.00 L137.85 47.71 L138.11 64.77 L138.37 79.29 L138.63 91.41 L138.89 100.86 L139.15 106.76 L139.41 111.31 L139.67 114.66 L139.93 116.18" fill="none" stroke="#ffa6a6" stroke-width="0.90" stroke-linejoin="round" stroke-opacity="0.60"/><path d="M139.67 114.66 L139.93 116.18 L140.20 117.60 L140.46 118.64 L140.72 119.19 L140.98 119.79 L141.24 119.97 L141.50 119.89 L141.76 120.07 L142.02 120.28 L142.28 121.05 L142.54 121.20 L142.80 121.25 L143.06 121.12 L143.32 122.31 L143.58 122.09 L143.84 121.64 L144.10 122.11 L144.36 122.12 L144.62 122.40 L144.89 122.77 L145.15 122.88 L145.41 122.58 L145.67 122.46 L145.93 122.38 L146.19 122.10 L146.45 122.10 L146.71 122.96 L146.97 122.60 L147.23 122.34 L147.49 122.40 L147.75 122.00 L148.01 122.66 L148.27 122.53 L148.53 122.71 L148.79 122.58 L149.05 122.11 L149.31 123.15 L149.58 122.91 L149.84 122.61 L150.10 122.53 L150.36 122.71 L150.62 122.77 L150.88 122.58 L151.14 122.58 L151.40 122.93 L151.66 123.31 L151.92 122.76 L152.18 122.94 L152.44 123.26 L152.70 123.44 L152.96 122.91 L153.22 122.72 L153.48 122.74 L153.74 123.08 L154.00 123.41 L154.26 123.18 L154.53 122.85 L154.79 122.80 L155.05 123.18 L155.31 123.00 L155.57 122.99 L155.83 123.15 L156.09 123.07 L156.35 123.19 L156.61 122.87 L156.87 123.09 L157.13 123.36 L157.39 123.23 L157.65 123.37 L157.91 123.47 L158.17 123.29 L158.43 123.57 L158.69 123.53 L158.95 123.54 L159.22 123.30 L159.48 123.31 L159.74 123.61 L160.00 123.23 L160.26 123.51 L160.52 122.51 L160.78 122.64 L161.04 122.91 L161.30 123.34 L161.56 123.22 L161.82 122.94 L162.08 123.39 L162.34 123.13 L162.60 123.04 L162.86 122.99 L163.12 122.97 L163.38 123.02 L163.64 123.28 L163.91 123.41 L164.17 122.48 L164.43 123.69 L164.69 123.11 L164.95 123.21 L165.21 122.83 L165.47 123.28 L165.73 123.11 L165.99 123.41 L166.25 123.11 L166.51 123.48 L166.77 122.93 L167.03 123.14 L167.29 123.36 L167.55 123.08 L167.81 122.48 L168.07 122.26 L168.33 122.69 L168.60 122.27 L168.86 122.63 L169.12 122.39 L169.38 122.17 L169.64 121.87 L169.90 121.59 L170.16 121.29 L170.42 120.62 L170.68 118.91 L170.94 118.05 L171.20 116.20 L171.46 115.57 L171.72 115.18 L171.98 116.21 L172.24 117.81 L172.50 119.50 L172.76 120.56 L173.02 121.06 L173.29 121.51 L173.55 121.83 L173.81 122.74 L174.07 122.77 L174.33 122.76 L174.59 122.93 L174.85 123.09 L175.11 123.07 L175.37 123.29 L175.63 123.52 L175.89 123.40 L176.15 123.36 L176.41 123.24 L176.67 123.55 L176.93 123.46 L177.19 123.59 L177.45 123.36 L177.71 123.70 L177.97 123.38 L178.24 123.67 L178.50 123.37 L178.76 123.43 L179.02 124.09 L179.28 123.90 L179.54 123.73 L179.80 123.88 L180.06 123.98 L180.32 123.77 L180.58 123.51 L180.84 123.19 L181.10 123.29 L181.36 124.02 L181.62 123.82 L181.88 123.79 L182.14 123.79 L182.40 123.49 L182.66 123.68 L182.93 123.43 L183.19 123.88 L183.45 124.15 L183.71 123.91 L183.97 124.19 L184.23 124.40 L184.49 123.79 L184.75 123.82 L185.01 123.54 L185.27 123.68 L185.53 124.17 L185.79 124.11 L186.05 123.46 L186.31 123.93 L186.57 123.89 L186.83 123.37 L187.09 123.91 L187.35 123.80 L187.62 123.53 L187.88 123.63 L188.14 123.48 L188.40 123.46 L188.66 123.79 L188.92 123.48 L189.18 123.51 L189.44 123.58 L189.70 123.93 L189.96 124.07 L190.22 124.22 L190.48 124.24 L190.74 123.87 L191.00 123.79 L191.26 123.51 L191.52 124.17 L191.78 124.19 L192.04 124.29 L192.31 123.76 L192.57 123.87 L192.83 123.79 L193.09 124.54 L193.35 123.86 L193.61 123.82 L193.87 124.00 L194.13 124.02 L194.39 123.80 L194.65 123.97 L194.91 123.82 L195.17 123.57 L195.43 124.11 L195.69 124.13 L195.95 123.91 L196.21 124.33 L196.47 123.64 L196.73 123.70 L197.00 124.22 L197.26 124.16 L197.52 124.05 L197.78 123.89 L198.04 124.27 L198.30 124.19 L198.56 124.10 L198.82 124.15 L199.08 124.34 L199.34 123.80 L199.60 123.74 L199.86 123.51 L200.12 123.88 L200.38 123.74 L200.64 124.04 L200.90 123.48 L201.16 124.41 L201.42 124.01 L201.69 124.25 L201.95 123.49 L202.21 124.27 L202.47 124.03 L202.73 123.74 L202.99 124.20 L203.25 124.26 L203.51 124.15 L203.77 124.01 L204.03 124.16 L204.29 124.41 L204.55 124.43 L204.81 124.28 L205.07 124.30 L205.33 123.91 L205.59 123.93 L205.85 124.03 L206.11 124.13 L206.37 124.37 L206.64 124.48 L206.90 124.38 L207.16 124.29 L207.42 123.88 L207.68 124.62 L207.94 124.37 L208.20 123.71 L208.46 124.08 L208.72 124.05 L208.98 124.09 L209.24 123.79 L209.50 124.17 L209.76 124.16 L210.02 124.27 L210.28 124.36 L210.54 124.06 L210.80 124.29 L211.06 124.18 L211.33 124.66 L211.59 124.93 L211.85 124.21 L212.11 124.37 L212.37 124.36 L212.63 123.86 L212.89 124.28 L213.15 124.30 L213.41 123.77 L213.67 124.34 L213.93 124.52 L214.19 124.71 L214.45 124.52 L214.71 124.44 L214.97 124.11 L215.23 124.14 L215.49 124.29 L215.75 124.43 L216.02 124.14 L216.28 124.17 L216.54 124.47 L216.80 124.73 L217.06 125.03 L217.32 124.76 L217.58 124.24 L217.84 123.96 L218.10 124.28 L218.36 124.25 L218.62 124.13 L218.88 124.17 L219.14 124.45 L219.40 124.00 L219.66 124.20 L219.92 124.14 L220.18 123.96 L220.44 123.99 L220.71 123.31 L220.97 122.65 L221.23 122.35 L221.49 122.49 L221.75 122.57 L222.01 122.49 L222.27 122.34 L222.53 122.96 L222.79 123.08 L223.05 123.39 L223.31 123.46 L223.57 123.61 L223.83 124.20 L224.09 123.26 L224.35 123.68 L224.61 123.76 L224.87 123.98 L225.13 123.96 L225.40 124.41 L225.66 124.42 L225.92 123.92 L226.18 123.98 L226.44 124.34 L226.70 124.24 L226.96 124.24 L227.22 124.12 L227.48 124.35 L227.74 124.80 L228.00 124.59 L228.26 124.68 L228.52 124.64 L228.78 124.10 L229.04 124.06 L229.30 123.95 L229.56 123.82 L229.82 124.76 L230.08 124.65 L230.35 124.53 L230.61 124.12 L230.87 124.50 L231.13 124.50 L231.39 125.08 L231.65 125.03 L231.91 124.79 L232.17 124.54 L232.43 124.04 L232.69 124.53 L232.95 124.51 L233.21 124.52 L233.47 124.67 L233.73 125.09 L233.99 124.86 L234.25 124.85 L234.51 124.75 L234.77 124.50 L235.04 124.44 L235.30 124.48 L235.56 124.74 L235.82 124.95 L236.08 124.78 L236.34 124.42 L236.60 124.59 L236.86 125.03 L237.12 124.76 L237.38 124.64 L237.64 124.50 L237.90 124.33 L238.16 124.92 L238.42 124.71 L238.68 124.61 L238.94 124.59 L239.20 124.57 L239.46 124.66 L239.73 124.82 L239.99 125.00 L240.25 125.19 L240.51 124.30 L240.77 124.73 L241.03 124.44 L241.29 124.23 L241.55 124.68 L241.81 124.65 L242.07 124.72 L242.33 124.68 L242.59 124.05 L242.85 124.78 L243.11 124.47 L243.37 124.68 L243.63 124.52 L243.89 124.68 L244.15 125.21 L244.42 124.66 L244.68 124.66 L244.94 124.43 L245.20 124.27 L245.46 124.66 L245.72 124.59 L245.98 124.56 L246.24 124.95 L246.50 125.18 L246.76 124.19 L247.02 124.72 L247.28 124.84 L247.54 124.22 L247.80 124.85 L248.06 124.61 L248.32 124.48 L248.58 124.48 L248.84 124.54 L249.11 124.82 L249.37 124.52 L249.63 124.21 L249.89 124.37 L250.15 124.50 L250.41 124.62 L250.67 124.65" fill="none" stroke="#ffa6a6" stroke-width="0.98" stroke-linejoin="round" stroke-opacity="1.00"/>
<path d="M19.30 140.98 L19.56 140.75 L19.82 140.64 L20.08 140.28 L20.34 140.61 L20.60 140.80 L20.86 140.65 L21.12 140.63 L21.38 140.31 L21.64 140.99 L21.91 140.92 L22.17 140.72 L22.43 140.92 L22.69 140.92 L22.95 140.85 L23.21 140.76 L23.47 140.81 L23.73 140.93 L23.99 141.07 L24.25 141.13 L24.51 141.03 L24.77 141.14 L25.03 140.89 L25.29 140.45 L25.55 140.34 L25.81 140.94 L26.07 140.45 L26.33 140.54 L26.60 140.78 L26.86 141.11 L27.12 140.41 L27.38 140.45 L27.64 140.56 L27.90 140.61 L28.16 140.83 L28.42 141.11 L28.68 141.15 L28.94 141.75 L29.20 141.61 L29.46 140.79 L29.72 140.51 L29.98 140.76 L30.24 140.83 L30.50 141.22 L30.76 141.23 L31.02 141.28 L31.29 141.08 L31.55 141.15 L31.81 141.16 L32.07 141.01 L32.33 141.18 L32.59 140.71 L32.85 141.20 L33.11 141.25 L33.37 141.88 L33.63 141.29 L33.89 140.72 L34.15 140.80 L34.41 140.94 L34.67 140.84 L34.93 140.69 L35.19 140.87 L35.45 140.66 L35.71 141.28 L35.98 140.76 L36.24 141.17 L36.50 141.41 L36.76 141.33 L37.02 141.57 L37.28 141.38 L37.54 141.46 L37.80 141.02 L38.06 140.80 L38.32 140.92 L38.58 141.14 L38.84 141.44 L39.10 140.94 L39.36 140.95 L39.62 140.92 L39.88 141.33 L40.14 141.10 L40.40 141.48 L40.67 141.21 L40.93 141.03 L41.19 140.99 L41.45 140.72 L41.71 140.39 L41.97 140.85 L42.23 140.94 L42.49 141.73 L42.75 141.52 L43.01 141.59 L43.27 141.41 L43.53 141.27 L43.79 140.90 L44.05 140.83 L44.31 141.53 L44.57 141.24 L44.83 141.16 L45.09 141.46 L45.36 141.29 L45.62 141.24 L45.88 141.83 L46.14 141.57 L46.40 141.29 L46.66 141.21 L46.92 141.10 L47.18 141.36 L47.44 141.49 L47.70 141.23 L47.96 141.24 L48.22 140.89 L48.48 141.13 L48.74 141.46 L49.00 141.13 L49.26 141.25 L49.52 141.13 L49.78 141.16 L50.04 141.38 L50.31 141.11 L50.57 141.58 L50.83 141.77 L51.09 141.80 L51.35 141.26 L51.61 140.84 L51.87 141.06 L52.13 141.32 L52.39 141.35 L52.65 141.32 L52.91 141.37 L53.17 141.29 L53.43 141.53 L53.69 141.05 L53.95 141.38 L54.21 141.52 L54.47 141.28 L54.73 142.33 L55.00 141.75 L55.26 141.57 L55.52 141.13 L55.78 141.38 L56.04 141.45 L56.30 141.71 L56.56 141.36 L56.82 141.68 L57.08 141.13 L57.34 141.32 L57.60 140.90 L57.86 141.24 L58.12 141.54 L58.38 141.03 L58.64 141.45 L58.90 141.52 L59.16 140.99 L59.42 140.99 L59.69 141.10 L59.95 141.40 L60.21 141.71 L60.47 141.25 L60.73 141.03 L60.99 141.09 L61.25 140.47 L61.51 141.09 L61.77 141.07 L62.03 140.95 L62.29 141.25 L62.55 140.76 L62.81 140.24 L63.07 140.11 L63.33 138.96 L63.59 137.55 L63.85 135.11 L64.11 131.25 L64.38 125.63 L64.64 123.21 L64.90 127.50 L65.16 132.70 L65.42 135.17 L65.68 136.61 L65.94 137.72 L66.20 137.83 L66.46 138.11 L66.72 138.31 L66.98 138.27 L67.24 137.88 L67.50 138.15 L67.76 137.98 L68.02 137.89 L68.28 138.00 L68.54 138.52 L68.80 138.64 L69.07 139.43 L69.33 139.78 L69.59 140.06 L69.85 140.51 L70.11 140.80 L70.37 140.63 L70.63 141.58 L70.89 140.97 L71.15 141.32 L71.41 140.99 L71.67 141.37 L71.93 141.49 L72.19 141.33 L72.45 141.80 L72.71 141.86 L72.97 141.87 L73.23 141.61 L73.49 142.18 L73.75 141.94 L74.02 142.12 L74.28 141.61 L74.54 142.22 L74.80 141.95 L75.06 142.22 L75.32 141.95 L75.58 141.97 L75.84 142.12 L76.10 142.04 L76.36 142.58 L76.62 142.15 L76.88 142.01 L77.14 142.32 L77.40 142.19 L77.66 141.87 L77.92 141.95 L78.18 142.25 L78.44 142.17 L78.71 142.42 L78.97 141.91 L79.23 142.15 L79.49 141.95 L79.75 142.00 L80.01 141.95 L80.27 141.89 L80.53 142.70 L80.79 142.38 L81.05 142.45 L81.31 142.37 L81.57 142.76 L81.83 142.24 L82.09 141.90 L82.35 142.29 L82.61 142.01 L82.87 142.55 L83.13 142.10 L83.40 142.14 L83.66 142.40 L83.92 142.02 L84.18 142.12 L84.44 142.31 L84.70 141.91 L84.96 142.15 L85.22 141.88 L85.48 142.12 L85.74 142.65 L86.00 142.75 L86.26 142.37 L86.52 142.25 L86.78 142.07 L87.04 142.40 L87.30 142.46 L87.56 141.93 L87.82 141.86 L88.09 141.72 L88.35 142.00 L88.61 142.05 L88.87 141.95 L89.13 141.92 L89.39 141.75 L89.65 141.33 L89.91 141.08 L90.17 140.48 L90.43 140.52 L90.69 140.72 L90.95 140.25 L91.21 141.37 L91.47 141.49 L91.73 141.91 L91.99 141.97 L92.25 142.47 L92.51 142.29 L92.78 142.39 L93.04 142.23 L93.30 142.35 L93.56 142.53 L93.82 142.24 L94.08 142.38 L94.34 142.34 L94.60 142.51 L94.86 142.81 L95.12 142.70 L95.38 142.97 L95.64 142.56 L95.90 142.53 L96.16 142.58 L96.42 142.41 L96.68 142.70 L96.94 142.51 L97.20 142.45 L97.47 142.70 L97.73 142.52 L97.99 142.67 L98.25 142.70 L98.51 143.02 L98.77 143.22 L99.03 143.04 L99.29 142.69 L99.55 142.98 L99.81 143.49 L100.07 142.93 L100.33 142.80 L100.59 143.16 L100.85 142.92 L101.11 142.78 L101.37 143.13 L101.63 142.72 L101.89 143.08 L102.15 142.73 L102.42 142.98 L102.68 142.91 L102.94 142.69 L103.20 143.07 L103.46 142.60 L103.72 142.98 L103.98 142.91 L104.24 143.21 L104.50 142.73 L104.76 143.14 L105.02 143.55 L105.28 143.00 L105.54 143.00 L105.80 143.25 L106.06 144.03 L106.32 143.39 L106.58 142.95 L106.84 143.06 L107.11 142.99 L107.37 142.89 L107.63 142.64 L107.89 143.30 L108.15 142.70 L108.41 142.87 L108.67 142.49 L108.93 142.28 L109.19 142.95 L109.45 142.63 L109.71 143.10 L109.97 143.06 L110.23 142.78 L110.49 143.14 L110.75 142.70 L111.01 143.13 L111.27 143.36 L111.53 142.79 L111.80 143.00 L112.06 143.43 L112.32 143.23 L112.58 142.76 L112.84 143.22 L113.10 143.10 L113.36 143.12 L113.62 142.71 L113.88 143.02 L114.14 143.10 L114.40 142.74 L114.66 143.07 L114.92 142.95 L115.18 143.20 L115.44 143.28 L115.70 142.87 L115.96 142.62 L116.22 143.24 L116.49 143.24 L116.75 142.91 L117.01 143.26 L117.27 143.23 L117.53 143.18 L117.79 142.92 L118.05 142.82 L118.31 143.27 L118.57 143.05 L118.83 142.93 L119.09 143.13 L119.35 142.74 L119.61 142.88 L119.87 142.94 L120.13 143.67 L120.39 142.75 L120.65 142.90 L120.91 142.76 L121.18 142.47 L121.44 143.35 L121.70 143.49 L121.96 142.99 L122.22 142.87 L122.48 142.85 L122.74 142.86 L123.00 142.80 L123.26 142.94 L123.52 143.19 L123.78 143.07 L124.04 143.17 L124.30 142.59 L124.56 143.19 L124.82 142.76 L125.08 142.54 L125.34 142.48 L125.60 142.82 L125.86 142.74 L126.13 142.41 L126.39 142.58 L126.65 143.18 L126.91 142.86 L127.17 142.59 L127.43 142.37 L127.69 142.58 L127.95 142.24 L128.21 142.35 L128.47 142.07 L128.73 142.47 L128.99 142.11 L129.25 142.57 L129.51 142.51 L129.77 142.25 L130.03 142.40 L130.29 142.41 L130.55 141.79 L130.82 142.13 L131.08 141.89 L131.34 141.77 L131.60 141.26 L131.86 141.00 L132.12 141.05 L132.38 140.48 L132.64 140.13 L132.90 139.95 L133.16 139.01 L133.42 138.17 L133.68 137.92 L133.94 136.84 L134.20 135.24" fill="none" stroke="#bf9e9e" stroke-width="0.98" stroke-linejoin="round" stroke-opacity="1.00"/><path d="M133.94 136.84 L134.20 135.24 L134.46 132.13 L134.72 127.17 L134.98 120.79 L135.24 111.35 L135.51 98.78 L135.77 83.13 L136.03 65.50 L136.29 47.87 L136.55 32.56 L136.81 23.87 L137.07 23.03 L137.33 31.09 L137.59 45.84 L137.85 63.07 L138.11 80.54 L138.37 96.57 L138.63 109.97 L138.89 120.04 L139.15 126.93 L139.41 131.75 L139.67 134.00 L139.93 136.26" fill="none" stroke="#bf9e9e" stroke-width="0.90" stroke-linejoin="round" stroke-opacity="0.50"/><path d="M139.67 134.00 L139.93 136.26 L140.20 137.89 L140.46 138.61 L140.72 139.42 L140.98 139.62 L141.24 140.14 L141.50 140.86 L141.76 140.71 L142.02 141.63 L142.28 141.51 L142.54 141.50 L142.80 142.19 L143.06 141.90 L143.32 142.20 L143.58 142.41 L143.84 142.11 L144.10 142.17 L144.36 142.29 L144.62 142.35 L144.89 142.28 L145.15 142.73 L145.41 142.73 L145.67 142.43 L145.93 142.56 L146.19 142.98 L146.45 142.60 L146.71 142.70 L146.97 143.23 L147.23 143.29 L147.49 143.09 L147.75 143.16 L148.01 143.18 L148.27 143.73 L148.53 143.57 L148.79 143.39 L149.05 143.01 L149.31 143.00 L149.58 143.13 L149.84 142.99 L150.10 143.16 L150.36 143.22 L150.62 143.17 L150.88 143.13 L151.14 142.92 L151.40 142.90 L151.66 143.70 L151.92 143.82 L152.18 143.60 L152.44 143.57 L152.70 143.46 L152.96 143.17 L153.22 143.36 L153.48 142.96 L153.74 143.25 L154.00 143.08 L154.26 143.25 L154.53 143.64 L154.79 143.43 L155.05 143.38 L155.31 143.58 L155.57 143.58 L155.83 143.89 L156.09 143.71 L156.35 143.84 L156.61 143.52 L156.87 143.34 L157.13 143.67 L157.39 143.83 L157.65 143.29 L157.91 143.09 L158.17 143.24 L158.43 143.73 L158.69 143.39 L158.95 143.61 L159.22 144.07 L159.48 143.83 L159.74 143.66 L160.00 143.66 L160.26 143.81 L160.52 143.19 L160.78 143.22 L161.04 143.43 L161.30 144.05 L161.56 144.23 L161.82 143.74 L162.08 143.74 L162.34 143.31 L162.60 143.34 L162.86 143.54 L163.12 143.42 L163.38 143.64 L163.64 143.52 L163.91 143.63 L164.17 143.84 L164.43 143.58 L164.69 143.67 L164.95 143.66 L165.21 143.48 L165.47 143.55 L165.73 143.42 L165.99 143.29 L166.25 143.28 L166.51 143.23 L166.77 142.98 L167.03 143.64 L167.29 142.91 L167.55 143.37 L167.81 143.13 L168.07 142.82 L168.33 143.02 L168.60 142.72 L168.86 142.72 L169.12 143.11 L169.38 142.91 L169.64 142.49 L169.90 142.20 L170.16 141.07 L170.42 141.07 L170.68 139.85 L170.94 138.16 L171.20 136.68 L171.46 135.77 L171.72 135.48 L171.98 136.83 L172.24 139.06 L172.50 140.41 L172.76 141.20 L173.02 141.63 L173.29 141.69 L173.55 142.13 L173.81 142.68 L174.07 143.01 L174.33 143.55 L174.59 143.30 L174.85 143.34 L175.11 143.26 L175.37 143.03 L175.63 143.46 L175.89 143.26 L176.15 143.37 L176.41 143.25 L176.67 143.61 L176.93 143.48 L177.19 143.75 L177.45 144.24 L177.71 143.91 L177.97 143.87 L178.24 143.63 L178.50 143.35 L178.76 144.18 L179.02 143.38 L179.28 144.27 L179.54 144.27 L179.80 143.96 L180.06 144.04 L180.32 143.92 L180.58 144.02 L180.84 144.09 L181.10 143.97 L181.36 143.85 L181.62 143.88 L181.88 143.92 L182.14 143.92 L182.40 143.98 L182.66 144.12 L182.93 144.02 L183.19 143.99 L183.45 143.89 L183.71 143.95 L183.97 143.99 L184.23 144.00 L184.49 144.08 L184.75 143.90 L185.01 143.60 L185.27 144.13 L185.53 144.21 L185.79 144.28 L186.05 144.29 L186.31 143.80 L186.57 144.18 L186.83 144.33 L187.09 144.31 L187.35 143.86 L187.62 143.98 L187.88 144.22 L188.14 144.34 L188.40 144.01 L188.66 144.13 L188.92 144.30 L189.18 143.74 L189.44 143.70 L189.70 143.79 L189.96 143.72 L190.22 143.88 L190.48 144.20 L190.74 144.04 L191.00 143.88 L191.26 143.93 L191.52 144.48 L191.78 144.69 L192.04 144.06 L192.31 144.44 L192.57 144.55 L192.83 144.18 L193.09 144.15 L193.35 144.28 L193.61 143.90 L193.87 144.00 L194.13 144.14 L194.39 143.89 L194.65 144.00 L194.91 144.40 L195.17 143.75 L195.43 144.45 L195.69 144.70 L195.95 144.32 L196.21 144.27 L196.47 144.24 L196.73 143.75 L197.00 144.12 L197.26 144.05 L197.52 144.13 L197.78 143.60 L198.04 144.28 L198.30 144.18 L198.56 144.29 L198.82 144.15 L199.08 144.48 L199.34 144.10 L199.60 143.97 L199.86 143.80 L200.12 144.11 L200.38 144.41 L200.64 144.69 L200.90 144.56 L201.16 144.42 L201.42 144.33 L201.69 144.12 L201.95 143.99 L202.21 144.34 L202.47 144.30 L202.73 144.13 L202.99 144.22 L203.25 144.49 L203.51 143.75 L203.77 144.27 L204.03 144.27 L204.29 144.27 L204.55 143.98 L204.81 144.45 L205.07 144.53 L205.33 144.33 L205.59 143.92 L205.85 144.11 L206.11 144.30 L206.37 144.16 L206.64 144.45 L206.90 144.00 L207.16 144.77 L207.42 144.21 L207.68 144.07 L207.94 144.51 L208.20 144.41 L208.46 144.40 L208.72 144.23 L208.98 144.55 L209.24 144.45 L209.50 144.62 L209.76 144.72 L210.02 144.27 L210.28 144.78 L210.54 144.56 L210.80 144.20 L211.06 144.79 L211.33 144.25 L211.59 144.97 L211.85 144.32 L212.11 144.87 L212.37 144.17 L212.63 143.57 L212.89 144.35 L213.15 144.34 L213.41 144.77 L213.67 145.36 L213.93 144.79 L214.19 144.49 L214.45 144.36 L214.71 144.76 L214.97 144.44 L215.23 144.18 L215.49 144.52 L215.75 145.01 L216.02 144.46 L216.28 144.56 L216.54 144.59 L216.80 144.48 L217.06 144.48 L217.32 144.63 L217.58 144.72 L217.84 144.20 L218.10 143.94 L218.36 144.41 L218.62 143.98 L218.88 144.22 L219.14 144.20 L219.40 144.45 L219.66 144.16 L219.92 144.08 L220.18 143.60 L220.44 143.74 L220.71 143.22 L220.97 143.45 L221.23 143.40 L221.49 143.43 L221.75 142.95 L222.01 142.66 L222.27 142.51 L222.53 142.81 L222.79 143.42 L223.05 143.81 L223.31 144.05 L223.57 143.93 L223.83 143.82 L224.09 143.60 L224.35 144.27 L224.61 144.25 L224.87 144.18 L225.13 144.41 L225.40 144.97 L225.66 144.51 L225.92 144.37 L226.18 144.21 L226.44 144.46 L226.70 144.10 L226.96 144.08 L227.22 144.47 L227.48 144.32 L227.74 144.50 L228.00 144.67 L228.26 144.56 L228.52 144.96 L228.78 144.54 L229.04 144.32 L229.30 144.52 L229.56 144.47 L229.82 144.66 L230.08 144.78 L230.35 144.59 L230.61 144.26 L230.87 144.17 L231.13 144.88 L231.39 144.62 L231.65 145.23 L231.91 144.97 L232.17 144.67 L232.43 144.51 L232.69 144.30 L232.95 144.57 L233.21 144.86 L233.47 144.93 L233.73 144.95 L233.99 144.81 L234.25 144.50 L234.51 144.71 L234.77 144.47 L235.04 144.55 L235.30 144.46 L235.56 144.36 L235.82 144.38 L236.08 144.42 L236.34 144.66 L236.60 144.85 L236.86 144.86 L237.12 144.51 L237.38 144.53 L237.64 145.06 L237.90 145.01 L238.16 144.97 L238.42 144.90 L238.68 145.01 L238.94 144.67 L239.20 144.43 L239.46 144.88 L239.73 144.58 L239.99 144.74 L240.25 145.14 L240.51 144.80 L240.77 144.51 L241.03 144.70 L241.29 144.34 L241.55 144.42 L241.81 144.53 L242.07 144.83 L242.33 145.24 L242.59 145.26 L242.85 145.40 L243.11 144.94 L243.37 144.52 L243.63 144.50 L243.89 144.65 L244.15 144.67 L244.42 144.66 L244.68 144.98 L244.94 144.96 L245.20 145.14 L245.46 145.29 L245.72 144.74 L245.98 144.61 L246.24 144.97 L246.50 145.12 L246.76 144.69 L247.02 144.67 L247.28 145.10 L247.54 145.13 L247.80 145.29 L248.06 144.75 L248.32 144.95 L248.58 144.89 L248.84 144.68 L249.11 144.62 L249.37 144.76 L249.63 144.62 L249.89 144.92 L250.15 145.26 L250.41 144.87 L250.67 144.85" fill="none" stroke="#bf9e9e" stroke-width="0.98" stroke-linejoin="round" stroke-opacity="1.00"/>
<path d="M19.30 158.94 L19.56 158.46 L19.82 158.44 L20.08 158.27 L20.34 158.21 L20.60 158.76 L20.86 158.59 L21.12 158.48 L21.38 158.78 L21.64 159.08 L21.91 158.97 L22.17 158.93 L22.43 158.48 L22.69 158.86 L22.95 158.88 L23.21 158.41 L23.47 158.35 L23.73 158.67 L23.99 158.36 L24.25 158.28 L24.51 158.27 L24.77 158.68 L25.03 158.46 L25.29 158.55 L25.55 158.77 L25.81 159.00 L26.07 159.06 L26.33 159.00 L26.60 158.94 L26.86 158.31 L27.12 158.59 L27.38 158.95 L27.64 159.01 L27.90 158.71 L28.16 158.91 L28.42 158.79 L28.68 158.81 L28.94 158.72 L29.20 158.53 L29.46 158.30 L29.72 158.30 L29.98 158.55 L30.24 159.48 L30.50 158.57 L30.76 158.89 L31.02 159.14 L31.29 159.18 L31.55 159.02 L31.81 159.01 L32.07 159.03 L32.33 158.85 L32.59 158.80 L32.85 158.89 L33.11 158.93 L33.37 158.99 L33.63 158.76 L33.89 159.21 L34.15 159.18 L34.41 158.94 L34.67 158.59 L34.93 158.54 L35.19 158.75 L35.45 158.86 L35.71 158.73 L35.98 159.13 L36.24 158.70 L36.50 159.26 L36.76 158.66 L37.02 159.08 L37.28 158.78 L37.54 158.54 L37.80 158.83 L38.06 158.93 L38.32 158.99 L38.58 159.19 L38.84 159.02 L39.10 158.77 L39.36 159.01 L39.62 159.35 L39.88 159.36 L40.14 158.77 L40.40 158.75 L40.67 158.83 L40.93 158.88 L41.19 158.44 L41.45 158.66 L41.71 158.66 L41.97 158.61 L42.23 159.38 L42.49 159.24 L42.75 159.21 L43.01 159.33 L43.27 159.13 L43.53 159.30 L43.79 159.37 L44.05 159.33 L44.31 159.26 L44.57 159.41 L44.83 159.30 L45.09 159.13 L45.36 159.22 L45.62 159.30 L45.88 159.06 L46.14 159.17 L46.40 159.02 L46.66 159.13 L46.92 159.30 L47.18 159.54 L47.44 159.82 L47.70 159.65 L47.96 159.12 L48.22 159.11 L48.48 158.60 L48.74 158.85 L49.00 158.86 L49.26 159.13 L49.52 159.26 L49.78 159.49 L50.04 159.36 L50.31 158.91 L50.57 159.03 L50.83 159.70 L51.09 159.51 L51.35 159.47 L51.61 159.36 L51.87 158.65 L52.13 158.96 L52.39 159.10 L52.65 158.86 L52.91 158.93 L53.17 159.27 L53.43 159.17 L53.69 159.13 L53.95 159.00 L54.21 159.06 L54.47 159.13 L54.73 159.05 L55.00 158.72 L55.26 158.66 L55.52 158.40 L55.78 158.93 L56.04 158.80 L56.30 159.05 L56.56 159.05 L56.82 158.45 L57.08 158.49 L57.34 158.62 L57.60 157.97 L57.86 158.27 L58.12 158.24 L58.38 158.02 L58.64 158.19 L58.90 157.71 L59.16 157.84 L59.42 158.07 L59.69 157.61 L59.95 157.79 L60.21 157.31 L60.47 157.19 L60.73 157.34 L60.99 157.13 L61.25 157.05 L61.51 156.98 L61.77 156.92 L62.03 156.11 L62.29 156.41 L62.55 155.82 L62.81 155.56 L63.07 155.03 L63.33 154.96 L63.59 154.10 L63.85 152.48 L64.11 151.34 L64.38 150.55 L64.64 150.90 L64.90 152.15 L65.16 153.48 L65.42 154.29 L65.68 155.00 L65.94 155.52 L66.20 155.86 L66.46 156.60 L66.72 156.71 L66.98 156.96 L67.24 157.27 L67.50 157.22 L67.76 157.87 L68.02 157.81 L68.28 158.22 L68.54 158.11 L68.80 158.47 L69.07 158.47 L69.33 158.36 L69.59 158.43 L69.85 158.28 L70.11 158.89 L70.37 158.64 L70.63 158.47 L70.89 159.16 L71.15 158.98 L71.41 159.14 L71.67 159.02 L71.93 158.56 L72.19 158.74 L72.45 159.11 L72.71 158.91 L72.97 158.62 L73.23 159.41 L73.49 159.49 L73.75 159.75 L74.02 159.71 L74.28 160.05 L74.54 159.90 L74.80 159.78 L75.06 160.42 L75.32 160.52 L75.58 160.91 L75.84 160.41 L76.10 160.64 L76.36 160.44 L76.62 161.15 L76.88 160.77 L77.14 160.97 L77.40 160.63 L77.66 160.77 L77.92 160.82 L78.18 161.01 L78.44 161.06 L78.71 161.39 L78.97 161.32 L79.23 161.55 L79.49 161.20 L79.75 161.34 L80.01 160.88 L80.27 161.38 L80.53 161.29 L80.79 160.76 L81.05 161.23 L81.31 161.19 L81.57 161.74 L81.83 161.45 L82.09 161.58 L82.35 161.64 L82.61 161.84 L82.87 162.21 L83.13 161.90 L83.40 161.60 L83.66 161.80 L83.92 161.72 L84.18 161.68 L84.44 161.72 L84.70 161.44 L84.96 161.87 L85.22 161.92 L85.48 161.88 L85.74 161.80 L86.00 161.75 L86.26 161.93 L86.52 161.69 L86.78 161.67 L87.04 161.90 L87.30 161.63 L87.56 161.87 L87.82 161.77 L88.09 161.77 L88.35 161.81 L88.61 161.89 L88.87 161.77 L89.13 161.35 L89.39 161.27 L89.65 161.30 L89.91 161.05 L90.17 160.47 L90.43 160.45 L90.69 160.84 L90.95 161.32 L91.21 161.67 L91.47 162.24 L91.73 161.68 L91.99 161.55 L92.25 161.69 L92.51 161.88 L92.78 162.03 L93.04 162.44 L93.30 162.19 L93.56 162.45 L93.82 162.37 L94.08 162.14 L94.34 161.74 L94.60 162.15 L94.86 162.19 L95.12 161.75 L95.38 162.40 L95.64 162.14 L95.90 162.30 L96.16 162.62 L96.42 162.57 L96.68 162.34 L96.94 162.31 L97.20 162.52 L97.47 162.51 L97.73 162.35 L97.99 162.60 L98.25 162.77 L98.51 162.50 L98.77 162.19 L99.03 162.38 L99.29 162.04 L99.55 162.27 L99.81 162.49 L100.07 162.37 L100.33 162.14 L100.59 162.80 L100.85 162.52 L101.11 162.70 L101.37 162.67 L101.63 162.46 L101.89 162.94 L102.15 162.63 L102.42 162.79 L102.68 162.75 L102.94 162.86 L103.20 162.30 L103.46 162.55 L103.72 162.70 L103.98 162.58 L104.24 161.99 L104.50 162.26 L104.76 162.46 L105.02 162.72 L105.28 162.45 L105.54 162.25 L105.80 162.70 L106.06 162.77 L106.32 162.67 L106.58 162.96 L106.84 162.90 L107.11 162.87 L107.37 162.22 L107.63 162.90 L107.89 162.61 L108.15 162.63 L108.41 162.92 L108.67 162.75 L108.93 162.84 L109.19 162.88 L109.45 163.37 L109.71 163.02 L109.97 162.12 L110.23 162.42 L110.49 162.56 L110.75 162.67 L111.01 162.56 L111.27 162.87 L111.53 162.85 L111.80 162.87 L112.06 162.59 L112.32 162.21 L112.58 162.76 L112.84 162.68 L113.10 162.58 L113.36 162.56 L113.62 163.01 L113.88 162.34 L114.14 162.79 L114.40 162.77 L114.66 163.25 L114.92 162.35 L115.18 162.67 L115.44 162.64 L115.70 162.34 L115.96 162.35 L116.22 162.32 L116.49 162.46 L116.75 162.65 L117.01 162.61 L117.27 162.05 L117.53 162.22 L117.79 162.32 L118.05 162.51 L118.31 163.00 L118.57 163.20 L118.83 162.53 L119.09 162.07 L119.35 162.88 L119.61 162.65 L119.87 162.95 L120.13 162.37 L120.39 162.56 L120.65 162.35 L120.91 162.35 L121.18 162.14 L121.44 162.43 L121.70 163.02 L121.96 162.53 L122.22 162.42 L122.48 162.01 L122.74 162.64 L123.00 162.66 L123.26 162.62 L123.52 162.44 L123.78 162.50 L124.04 162.87 L124.30 162.15 L124.56 162.23 L124.82 162.58 L125.08 162.20 L125.34 161.90 L125.60 161.90 L125.86 161.82 L126.13 162.04 L126.39 162.49 L126.65 162.19 L126.91 161.85 L127.17 161.94 L127.43 162.28 L127.69 162.42 L127.95 161.89 L128.21 161.82 L128.47 161.92 L128.73 161.88 L128.99 161.97 L129.25 161.88 L129.51 161.90 L129.77 161.80 L130.03 162.00 L130.29 161.16 L130.55 161.11 L130.82 160.97 L131.08 160.95 L131.34 160.63 L131.60 161.09 L131.86 160.82 L132.12 160.43 L132.38 159.94 L132.64 159.74 L132.90 159.20 L133.16 158.89 L133.42 157.83 L133.68 156.88 L133.94 155.61 L134.20 154.34" fill="none" stroke="#9e9ebe" stroke-width="0.98" stroke-linejoin="round" stroke-opacity="1.00"/><path d="M133.94 155.61 L134.20 154.34 L134.46 151.42 L134.72 146.76 L134.98 140.19 L135.24 130.68 L135.51 117.42 L135.77 101.78 L136.03 83.81 L136.29 65.35 L136.55 50.05 L136.81 41.44 L137.07 40.68 L137.33 48.67 L137.59 63.39 L137.85 81.34 L138.11 99.88 L138.37 115.75 L138.63 129.31 L138.89 138.78 L139.15 146.08 L139.41 151.13 L139.67 153.90 L139.93 155.83" fill="none" stroke="#9e9ebe" stroke-width="0.90" stroke-linejoin="round" stroke-opacity="0.45"/><path d="M139.67 153.90 L139.93 155.83 L140.20 157.34 L140.46 157.89 L140.72 158.21 L140.98 158.83 L141.24 159.47 L141.50 160.19 L141.76 160.28 L142.02 160.50 L142.28 160.77 L142.54 161.15 L142.80 161.57 L143.06 161.36 L143.32 161.55 L143.58 161.23 L143.84 161.44 L144.10 161.90 L144.36 162.21 L144.62 161.90 L144.89 161.75 L145.15 161.79 L145.41 162.16 L145.67 162.05 L145.93 162.44 L146.19 162.02 L146.45 162.10 L146.71 161.45 L146.97 161.76 L147.23 162.22 L147.49 162.02 L147.75 162.51 L148.01 162.74 L148.27 162.21 L148.53 162.48 L148.79 162.99 L149.05 163.05 L149.31 162.79 L149.58 162.76 L149.84 162.86 L150.10 162.56 L150.36 162.56 L150.62 162.55 L150.88 162.26 L151.14 162.60 L151.40 162.37 L151.66 162.84 L151.92 162.39 L152.18 162.26 L152.44 162.48 L152.70 162.66 L152.96 163.07 L153.22 162.83 L153.48 162.93 L153.74 162.36 L154.00 162.30 L154.26 162.49 L154.53 162.74 L154.79 162.68 L155.05 162.64 L155.31 162.51 L155.57 162.39 L155.83 162.76 L156.09 163.03 L156.35 162.54 L156.61 162.89 L156.87 162.64 L157.13 162.19 L157.39 162.18 L157.65 162.31 L157.91 162.75 L158.17 163.03 L158.43 163.37 L158.69 162.95 L158.95 162.83 L159.22 162.93 L159.48 162.90 L159.74 163.16 L160.00 163.33 L160.26 163.08 L160.52 163.16 L160.78 162.86 L161.04 162.77 L161.30 163.04 L161.56 162.66 L161.82 163.05 L162.08 162.93 L162.34 163.00 L162.60 163.48 L162.86 163.32 L163.12 162.96 L163.38 162.81 L163.64 162.51 L163.91 163.01 L164.17 162.66 L164.43 163.09 L164.69 163.20 L164.95 162.98 L165.21 162.77 L165.47 162.89 L165.73 162.79 L165.99 162.56 L166.25 162.54 L166.51 162.70 L166.77 162.53 L167.03 162.47 L167.29 163.07 L167.55 162.62 L167.81 162.80 L168.07 162.77 L168.33 162.53 L168.60 162.66 L168.86 162.59 L169.12 162.58 L169.38 162.40 L169.64 162.06 L169.90 161.97 L170.16 161.38 L170.42 161.19 L170.68 160.54 L170.94 160.30 L171.20 160.13 L171.46 160.04 L171.72 159.50 L171.98 159.75 L172.24 160.15 L172.50 160.84 L172.76 161.18 L173.02 161.40 L173.29 161.93 L173.55 161.74 L173.81 162.42 L174.07 162.58 L174.33 162.76 L174.59 162.48 L174.85 162.55 L175.11 162.91 L175.37 162.66 L175.63 162.97 L175.89 162.88 L176.15 162.81 L176.41 163.11 L176.67 163.54 L176.93 163.08 L177.19 162.58 L177.45 162.97 L177.71 162.61 L177.97 162.85 L178.24 162.64 L178.50 163.26 L178.76 163.07 L179.02 163.02 L179.28 162.64 L179.54 162.69 L179.80 162.86 L180.06 162.60 L180.32 161.79 L180.58 161.90 L180.84 161.48 L181.10 160.88 L181.36 161.15 L181.62 161.75 L181.88 162.09 L182.14 161.82 L182.40 162.12 L182.66 162.48 L182.93 162.58 L183.19 162.35 L183.45 162.09 L183.71 162.15 L183.97 162.60 L184.23 162.33 L184.49 162.76 L184.75 162.09 L185.01 162.41 L185.27 162.80 L185.53 162.58 L185.79 163.14 L186.05 163.25 L186.31 163.60 L186.57 163.23 L186.83 163.29 L187.09 163.14 L187.35 162.91 L187.62 163.07 L187.88 162.95 L188.14 163.06 L188.40 163.41 L188.66 163.16 L188.92 162.84 L189.18 163.65 L189.44 163.14 L189.70 163.51 L189.96 163.63 L190.22 163.53 L190.48 163.28 L190.74 162.93 L191.00 163.28 L191.26 163.41 L191.52 163.24 L191.78 163.05 L192.04 163.65 L192.31 163.18 L192.57 163.77 L192.83 162.56 L193.09 163.22 L193.35 163.12 L193.61 163.41 L193.87 163.31 L194.13 162.77 L194.39 163.03 L194.65 162.97 L194.91 162.73 L195.17 163.00 L195.43 163.12 L195.69 162.52 L195.95 163.05 L196.21 162.79 L196.47 163.00 L196.73 162.79 L197.00 163.24 L197.26 163.00 L197.52 162.99 L197.78 162.89 L198.04 163.39 L198.30 163.39 L198.56 163.22 L198.82 163.47 L199.08 163.81 L199.34 163.49 L199.60 163.19 L199.86 163.52 L200.12 163.45 L200.38 163.59 L200.64 163.37 L200.90 162.92 L201.16 163.18 L201.42 162.86 L201.69 163.48 L201.95 163.27 L202.21 163.34 L202.47 163.38 L202.73 163.63 L202.99 163.27 L203.25 162.98 L203.51 162.89 L203.77 163.16 L204.03 163.01 L204.29 163.23 L204.55 163.59 L204.81 163.20 L205.07 163.53 L205.33 162.82 L205.59 163.60 L205.85 163.76 L206.11 163.29 L206.37 163.57 L206.64 163.16 L206.90 163.10 L207.16 163.41 L207.42 163.16 L207.68 163.54 L207.94 163.47 L208.20 163.40 L208.46 163.49 L208.72 163.35 L208.98 163.45 L209.24 163.73 L209.50 163.02 L209.76 163.27 L210.02 163.35 L210.28 163.34 L210.54 163.03 L210.80 163.58 L211.06 163.45 L211.33 163.65 L211.59 163.54 L211.85 162.99 L212.11 163.10 L212.37 163.28 L212.63 163.41 L212.89 163.49 L213.15 162.77 L213.41 163.54 L213.67 163.49 L213.93 163.78 L214.19 163.47 L214.45 163.12 L214.71 163.32 L214.97 163.20 L215.23 163.41 L215.49 163.35 L215.75 163.30 L216.02 163.40 L216.28 163.38 L216.54 163.45 L216.80 163.18 L217.06 163.25 L217.32 163.64 L217.58 163.42 L217.84 163.82 L218.10 163.83 L218.36 163.83 L218.62 163.59 L218.88 163.35 L219.14 163.54 L219.40 163.31 L219.66 163.35 L219.92 163.04 L220.18 163.30 L220.44 163.08 L220.71 162.96 L220.97 163.70 L221.23 163.63 L221.49 163.23 L221.75 163.51 L222.01 163.66 L222.27 163.55 L222.53 163.27 L222.79 163.78 L223.05 163.13 L223.31 162.97 L223.57 163.24 L223.83 163.53 L224.09 163.36 L224.35 163.42 L224.61 163.61 L224.87 163.64 L225.13 163.95 L225.40 163.53 L225.66 163.45 L225.92 163.46 L226.18 163.50 L226.44 163.53 L226.70 163.65 L226.96 163.41 L227.22 163.39 L227.48 163.95 L227.74 163.24 L228.00 163.34 L228.26 163.48 L228.52 163.47 L228.78 163.46 L229.04 163.66 L229.30 163.16 L229.56 163.46 L229.82 163.24 L230.08 163.25 L230.35 163.55 L230.61 163.48 L230.87 163.67 L231.13 163.49 L231.39 163.53 L231.65 163.24 L231.91 163.28 L232.17 163.33 L232.43 163.42 L232.69 163.20 L232.95 163.53 L233.21 162.99 L233.47 163.29 L233.73 163.82 L233.99 163.85 L234.25 163.56 L234.51 163.78 L234.77 163.70 L235.04 163.49 L235.30 163.66 L235.56 163.64 L235.82 163.52 L236.08 163.52 L236.34 163.75 L236.60 163.57 L236.86 163.67 L237.12 163.47 L237.38 163.78 L237.64 163.34 L237.90 162.80 L238.16 163.20 L238.42 163.44 L238.68 163.73 L238.94 163.30 L239.20 163.90 L239.46 163.50 L239.73 163.86 L239.99 163.69 L240.25 163.29 L240.51 163.67 L240.77 163.60 L241.03 163.55 L241.29 163.21 L241.55 163.40 L241.81 163.63 L242.07 163.43 L242.33 163.19 L242.59 163.23 L242.85 163.06 L243.11 163.47 L243.37 163.34 L243.63 163.17 L243.89 163.31 L244.15 163.54 L244.42 163.81 L244.68 163.70 L244.94 163.30 L245.20 163.50 L245.46 163.51 L245.72 163.26 L245.98 163.29 L246.24 163.69 L246.50 163.79 L246.76 163.46 L247.02 163.72 L247.28 163.87 L247.54 163.94 L247.80 163.40 L248.06 163.06 L248.32 163.09 L248.58 163.00 L248.84 163.11 L249.11 163.67 L249.37 163.74 L249.63 163.57 L249.89 163.76 L250.15 163.31 L250.41 163.60 L250.67 163.73" fill="none" stroke="#9e9ebe" stroke-width="0.98" stroke-linejoin="round" stroke-opacity="1.00"/>
<path d="M19.30 181.16 L19.56 180.87 L19.82 181.12 L20.08 180.41 L20.34 180.65 L20.60 181.31 L20.86 181.02 L21.12 181.15 L21.38 180.80 L21.64 181.30 L21.91 181.33 L22.17 181.42 L22.43 181.05 L22.69 181.16 L22.95 180.84 L23.21 181.08 L23.47 180.53 L23.73 181.02 L23.99 181.20 L24.25 181.00 L24.51 181.39 L24.77 181.13 L25.03 181.54 L25.29 181.08 L25.55 180.87 L25.81 180.97 L26.07 181.92 L26.33 180.91 L26.60 180.93 L26.86 180.94 L27.12 181.23 L27.38 180.73 L27.64 181.50 L27.90 180.72 L28.16 181.40 L28.42 181.12 L28.68 180.85 L28.94 181.22 L29.20 180.70 L29.46 180.97 L29.72 180.72 L29.98 180.64 L30.24 180.62 L30.50 180.93 L30.76 181.51 L31.02 181.13 L31.29 181.49 L31.55 181.06 L31.81 181.29 L32.07 181.36 L32.33 181.14 L32.59 181.32 L32.85 181.27 L33.11 181.26 L33.37 180.71 L33.63 181.05 L33.89 181.56 L34.15 180.74 L34.41 180.96 L34.67 181.04 L34.93 181.11 L35.19 181.18 L35.45 181.26 L35.71 180.95 L35.98 180.96 L36.24 180.71 L36.50 180.45 L36.76 180.52 L37.02 180.70 L37.28 180.66 L37.54 180.50 L37.80 180.34 L38.06 180.61 L38.32 180.43 L38.58 180.47 L38.84 181.12 L39.10 180.73 L39.36 180.84 L39.62 181.05 L39.88 180.43 L40.14 180.69 L40.40 180.96 L40.67 181.21 L40.93 180.97 L41.19 181.09 L41.45 181.22 L41.71 181.33 L41.97 181.10 L42.23 181.35 L42.49 181.42 L42.75 181.00 L43.01 180.31 L43.27 181.04 L43.53 181.52 L43.79 181.25 L44.05 181.75 L44.31 180.99 L44.57 181.19 L44.83 181.39 L45.09 181.01 L45.36 181.13 L45.62 181.21 L45.88 181.43 L46.14 181.64 L46.40 181.38 L46.66 180.94 L46.92 181.56 L47.18 181.46 L47.44 181.60 L47.70 180.93 L47.96 181.14 L48.22 180.82 L48.48 180.96 L48.74 181.35 L49.00 181.40 L49.26 181.63 L49.52 181.10 L49.78 181.59 L50.04 181.35 L50.31 181.46 L50.57 181.47 L50.83 181.40 L51.09 181.35 L51.35 180.78 L51.61 181.14 L51.87 181.15 L52.13 181.05 L52.39 180.85 L52.65 180.73 L52.91 181.55 L53.17 181.20 L53.43 180.98 L53.69 181.26 L53.95 180.95 L54.21 180.81 L54.47 181.11 L54.73 181.08 L55.00 181.14 L55.26 181.23 L55.52 180.96 L55.78 180.92 L56.04 181.10 L56.30 181.01 L56.56 181.02 L56.82 181.23 L57.08 181.14 L57.34 181.36 L57.60 180.85 L57.86 180.93 L58.12 180.85 L58.38 180.51 L58.64 180.92 L58.90 180.87 L59.16 180.55 L59.42 180.93 L59.69 180.89 L59.95 181.22 L60.21 180.56 L60.47 180.27 L60.73 180.11 L60.99 179.81 L61.25 179.62 L61.51 179.06 L61.77 179.22 L62.03 178.66 L62.29 178.06 L62.55 177.20 L62.81 175.68 L63.07 174.71 L63.33 172.99 L63.59 171.45 L63.85 170.12 L64.11 170.25 L64.38 171.35 L64.64 172.38 L64.90 174.54 L65.16 175.36 L65.42 176.36 L65.68 176.93 L65.94 177.25 L66.20 177.16 L66.46 177.18 L66.72 177.90 L66.98 178.06 L67.24 178.38 L67.50 178.83 L67.76 178.61 L68.02 179.50 L68.28 179.52 L68.54 179.89 L68.80 180.12 L69.07 180.05 L69.33 179.87 L69.59 180.23 L69.85 180.23 L70.11 180.57 L70.37 180.50 L70.63 180.40 L70.89 180.78 L71.15 180.56 L71.41 180.11 L71.67 179.56 L71.93 179.15 L72.19 179.16 L72.45 179.02 L72.71 179.35 L72.97 179.18 L73.23 179.88 L73.49 179.88 L73.75 180.54 L74.02 181.35 L74.28 181.15 L74.54 181.26 L74.80 181.10 L75.06 180.98 L75.32 181.18 L75.58 181.46 L75.84 181.25 L76.10 181.35 L76.36 181.52 L76.62 181.50 L76.88 181.69 L77.14 182.13 L77.40 181.60 L77.66 181.51 L77.92 181.84 L78.18 181.14 L78.44 181.17 L78.71 181.40 L78.97 181.50 L79.23 181.88 L79.49 181.98 L79.75 181.70 L80.01 181.57 L80.27 181.42 L80.53 181.49 L80.79 181.78 L81.05 182.15 L81.31 181.88 L81.57 182.01 L81.83 181.81 L82.09 181.35 L82.35 181.28 L82.61 181.48 L82.87 181.33 L83.13 181.71 L83.40 181.24 L83.66 181.24 L83.92 181.01 L84.18 181.69 L84.44 181.21 L84.70 181.35 L84.96 180.79 L85.22 181.15 L85.48 180.78 L85.74 180.66 L86.00 180.89 L86.26 180.49 L86.52 180.38 L86.78 180.03 L87.04 179.51 L87.30 179.48 L87.56 179.25 L87.82 179.52 L88.09 179.81 L88.35 179.85 L88.61 180.20 L88.87 180.67 L89.13 181.20 L89.39 180.73 L89.65 181.16 L89.91 181.47 L90.17 181.34 L90.43 181.54 L90.69 181.64 L90.95 181.20 L91.21 181.73 L91.47 181.35 L91.73 181.24 L91.99 181.82 L92.25 181.88 L92.51 181.83 L92.78 181.48 L93.04 181.46 L93.30 181.36 L93.56 181.67 L93.82 181.49 L94.08 181.36 L94.34 180.63 L94.60 180.34 L94.86 179.82 L95.12 179.80 L95.38 180.00 L95.64 180.13 L95.90 180.38 L96.16 180.71 L96.42 181.08 L96.68 180.68 L96.94 181.37 L97.20 181.28 L97.47 181.39 L97.73 181.14 L97.99 181.61 L98.25 181.90 L98.51 181.65 L98.77 182.16 L99.03 181.94 L99.29 181.64 L99.55 181.88 L99.81 181.98 L100.07 182.03 L100.33 181.91 L100.59 182.43 L100.85 181.87 L101.11 181.37 L101.37 181.94 L101.63 182.27 L101.89 182.94 L102.15 181.89 L102.42 181.75 L102.68 181.86 L102.94 181.94 L103.20 181.58 L103.46 181.74 L103.72 181.75 L103.98 181.46 L104.24 181.86 L104.50 181.91 L104.76 181.90 L105.02 181.85 L105.28 182.12 L105.54 181.76 L105.80 182.18 L106.06 182.06 L106.32 182.31 L106.58 181.64 L106.84 182.17 L107.11 181.91 L107.37 181.83 L107.63 181.60 L107.89 181.45 L108.15 181.87 L108.41 182.08 L108.67 182.21 L108.93 181.77 L109.19 181.67 L109.45 182.02 L109.71 182.02 L109.97 182.26 L110.23 182.11 L110.49 181.80 L110.75 182.28 L111.01 182.30 L111.27 182.12 L111.53 181.64 L111.80 182.28 L112.06 182.29 L112.32 181.91 L112.58 181.97 L112.84 182.51 L113.10 182.28 L113.36 182.37 L113.62 182.35 L113.88 182.18 L114.14 181.82 L114.40 182.10 L114.66 182.13 L114.92 181.74 L115.18 182.02 L115.44 182.32 L115.70 182.16 L115.96 182.25 L116.22 182.48 L116.49 182.76 L116.75 182.44 L117.01 181.71 L117.27 181.94 L117.53 181.84 L117.79 182.00 L118.05 181.74 L118.31 182.06 L118.57 181.75 L118.83 181.90 L119.09 181.92 L119.35 182.30 L119.61 181.84 L119.87 181.82 L120.13 181.91 L120.39 181.88 L120.65 181.78 L120.91 182.06 L121.18 182.49 L121.44 182.04 L121.70 181.60 L121.96 182.17 L122.22 182.07 L122.48 181.95 L122.74 181.94 L123.00 181.73 L123.26 181.52 L123.52 181.80 L123.78 181.96 L124.04 181.91 L124.30 181.69 L124.56 182.04 L124.82 182.37 L125.08 181.79 L125.34 182.04 L125.60 181.70 L125.86 181.65 L126.13 181.69 L126.39 181.59 L126.65 181.77 L126.91 182.05 L127.17 181.91 L127.43 181.55 L127.69 181.70 L127.95 181.83 L128.21 181.57 L128.47 181.66 L128.73 181.20 L128.99 181.42 L129.25 181.48 L129.51 181.34 L129.77 181.23 L130.03 181.30 L130.29 180.73 L130.55 181.20 L130.82 181.06 L131.08 181.02 L131.34 180.17 L131.60 180.46 L131.86 179.20 L132.12 179.25 L132.38 179.79 L132.64 178.89 L132.90 178.79 L133.16 178.25 L133.42 178.27 L133.68 177.51 L133.94 175.89 L134.20 173.95" fill="none" stroke="#9494ff" stroke-width="0.98" stroke-linejoin="round" stroke-opacity="1.00"/><path d="M133.94 175.89 L134.20 173.95 L134.46 170.66 L134.72 166.08 L134.98 159.67 L135.24 150.30 L135.51 137.10 L135.77 121.60 L136.03 103.67 L136.29 85.99 L136.55 70.79 L136.81 61.73 L137.07 61.87 L137.33 69.10 L137.59 84.36 L137.85 101.92 L138.11 119.67 L138.37 135.49 L138.63 148.58 L138.89 158.59 L139.15 165.91 L139.41 170.39 L139.67 173.45 L139.93 175.39" fill="none" stroke="#9494ff" stroke-width="0.90" stroke-linejoin="round" stroke-opacity="0.45"/><path d="M139.67 173.45 L139.93 175.39 L140.20 176.95 L140.46 177.67 L140.72 178.56 L140.98 178.94 L141.24 179.02 L141.50 179.82 L141.76 179.67 L142.02 180.42 L142.28 180.89 L142.54 181.50 L142.80 180.53 L143.06 180.83 L143.32 181.19 L143.58 181.48 L143.84 180.78 L144.10 181.25 L144.36 181.72 L144.62 181.64 L144.89 181.48 L145.15 181.81 L145.41 181.93 L145.67 181.94 L145.93 181.92 L146.19 181.81 L146.45 182.06 L146.71 181.79 L146.97 182.06 L147.23 182.29 L147.49 182.43 L147.75 182.49 L148.01 182.24 L148.27 182.56 L148.53 181.97 L148.79 182.26 L149.05 182.61 L149.31 182.59 L149.58 182.46 L149.84 182.59 L150.10 183.10 L150.36 182.30 L150.62 182.02 L150.88 182.14 L151.14 181.88 L151.40 182.11 L151.66 182.45 L151.92 182.29 L152.18 182.60 L152.44 182.36 L152.70 182.09 L152.96 182.40 L153.22 182.07 L153.48 182.06 L153.74 181.68 L154.00 182.25 L154.26 181.51 L154.53 181.38 L154.79 181.18 L155.05 181.01 L155.31 181.17 L155.57 181.08 L155.83 180.94 L156.09 181.08 L156.35 181.02 L156.61 181.07 L156.87 181.50 L157.13 181.30 L157.39 181.91 L157.65 181.92 L157.91 181.93 L158.17 182.25 L158.43 182.29 L158.69 182.24 L158.95 182.48 L159.22 182.66 L159.48 183.14 L159.74 182.58 L160.00 182.33 L160.26 182.27 L160.52 182.40 L160.78 182.95 L161.04 182.99 L161.30 182.69 L161.56 182.83 L161.82 182.90 L162.08 182.60 L162.34 182.84 L162.60 182.66 L162.86 183.05 L163.12 183.21 L163.38 182.77 L163.64 182.65 L163.91 183.04 L164.17 183.20 L164.43 183.42 L164.69 183.35 L164.95 183.08 L165.21 182.99 L165.47 182.53 L165.73 183.22 L165.99 183.05 L166.25 182.52 L166.51 182.98 L166.77 183.20 L167.03 183.16 L167.29 183.13 L167.55 182.95 L167.81 183.18 L168.07 182.81 L168.33 182.77 L168.60 182.97 L168.86 182.85 L169.12 182.94 L169.38 183.03 L169.64 183.05 L169.90 183.22 L170.16 183.33 L170.42 182.74 L170.68 183.29 L170.94 183.15 L171.20 183.24 L171.46 183.07 L171.72 182.70 L171.98 183.20 L172.24 183.24 L172.50 183.08 L172.76 183.65 L173.02 183.03 L173.29 182.69 L173.55 182.83 L173.81 183.43 L174.07 183.21 L174.33 182.71 L174.59 182.54 L174.85 183.11 L175.11 182.95 L175.37 183.07 L175.63 182.85 L175.89 183.11 L176.15 182.89 L176.41 182.82 L176.67 182.90 L176.93 182.74 L177.19 182.56 L177.45 182.66 L177.71 183.02 L177.97 182.71 L178.24 182.53 L178.50 182.56 L178.76 182.08 L179.02 182.19 L179.28 181.30 L179.54 181.60 L179.80 180.56 L180.06 179.42 L180.32 178.60 L180.58 177.64 L180.84 176.93 L181.10 177.27 L181.36 177.64 L181.62 178.61 L181.88 179.27 L182.14 179.50 L182.40 180.36 L182.66 180.26 L182.93 180.71 L183.19 180.63 L183.45 180.61 L183.71 181.15 L183.97 181.57 L184.23 181.46 L184.49 182.02 L184.75 182.23 L185.01 182.38 L185.27 182.53 L185.53 182.29 L185.79 182.38 L186.05 182.58 L186.31 183.11 L186.57 183.03 L186.83 183.14 L187.09 182.70 L187.35 183.33 L187.62 183.15 L187.88 183.35 L188.14 183.65 L188.40 183.08 L188.66 182.97 L188.92 183.01 L189.18 183.23 L189.44 183.69 L189.70 183.47 L189.96 183.31 L190.22 183.22 L190.48 183.51 L190.74 183.48 L191.00 183.79 L191.26 183.67 L191.52 183.57 L191.78 183.23 L192.04 183.41 L192.31 183.28 L192.57 183.36 L192.83 183.17 L193.09 183.83 L193.35 183.50 L193.61 183.54 L193.87 183.92 L194.13 183.55 L194.39 183.34 L194.65 183.09 L194.91 183.33 L195.17 183.10 L195.43 183.45 L195.69 183.55 L195.95 184.06 L196.21 183.83 L196.47 183.82 L196.73 183.73 L197.00 183.76 L197.26 183.51 L197.52 183.48 L197.78 183.46 L198.04 183.85 L198.30 183.75 L198.56 183.61 L198.82 183.52 L199.08 183.76 L199.34 183.37 L199.60 183.35 L199.86 183.44 L200.12 183.84 L200.38 183.86 L200.64 183.74 L200.90 183.43 L201.16 183.38 L201.42 183.86 L201.69 183.81 L201.95 183.76 L202.21 183.37 L202.47 183.70 L202.73 183.59 L202.99 183.64 L203.25 183.13 L203.51 183.63 L203.77 184.14 L204.03 184.25 L204.29 183.29 L204.55 183.33 L204.81 183.75 L205.07 183.97 L205.33 183.85 L205.59 184.09 L205.85 183.94 L206.11 183.61 L206.37 183.22 L206.64 183.32 L206.90 183.46 L207.16 183.46 L207.42 183.89 L207.68 184.37 L207.94 184.15 L208.20 183.86 L208.46 183.68 L208.72 184.33 L208.98 183.85 L209.24 184.02 L209.50 183.47 L209.76 183.45 L210.02 183.99 L210.28 184.09 L210.54 184.28 L210.80 184.23 L211.06 184.16 L211.33 184.25 L211.59 183.71 L211.85 183.99 L212.11 183.92 L212.37 183.89 L212.63 183.97 L212.89 183.72 L213.15 183.70 L213.41 183.69 L213.67 183.81 L213.93 184.06 L214.19 183.85 L214.45 183.90 L214.71 183.78 L214.97 183.49 L215.23 183.78 L215.49 183.75 L215.75 183.71 L216.02 183.51 L216.28 183.84 L216.54 183.78 L216.80 183.70 L217.06 183.80 L217.32 184.43 L217.58 183.89 L217.84 183.98 L218.10 184.19 L218.36 183.93 L218.62 184.43 L218.88 183.80 L219.14 183.31 L219.40 183.88 L219.66 184.11 L219.92 184.14 L220.18 184.37 L220.44 183.82 L220.71 183.98 L220.97 184.24 L221.23 183.88 L221.49 183.93 L221.75 184.21 L222.01 184.17 L222.27 184.30 L222.53 184.29 L222.79 184.26 L223.05 184.02 L223.31 184.10 L223.57 183.68 L223.83 184.19 L224.09 184.10 L224.35 184.07 L224.61 184.69 L224.87 184.83 L225.13 184.71 L225.40 184.72 L225.66 184.09 L225.92 184.27 L226.18 184.53 L226.44 184.31 L226.70 184.18 L226.96 184.25 L227.22 184.36 L227.48 184.33 L227.74 184.09 L228.00 184.65 L228.26 184.38 L228.52 184.21 L228.78 183.79 L229.04 184.22 L229.30 184.69 L229.56 184.36 L229.82 184.43 L230.08 184.18 L230.35 184.11 L230.61 184.27 L230.87 184.20 L231.13 184.33 L231.39 183.97 L231.65 184.12 L231.91 183.49 L232.17 184.40 L232.43 183.70 L232.69 183.88 L232.95 184.38 L233.21 184.12 L233.47 184.14 L233.73 184.50 L233.99 184.62 L234.25 184.89 L234.51 184.91 L234.77 184.34 L235.04 184.07 L235.30 184.16 L235.56 184.02 L235.82 184.53 L236.08 184.15 L236.34 184.47 L236.60 184.62 L236.86 184.72 L237.12 184.60 L237.38 184.47 L237.64 184.55 L237.90 184.74 L238.16 184.13 L238.42 184.17 L238.68 184.27 L238.94 184.98 L239.20 184.45 L239.46 184.48 L239.73 184.10 L239.99 183.65 L240.25 183.93 L240.51 184.61 L240.77 184.07 L241.03 184.35 L241.29 184.44 L241.55 184.12 L241.81 184.26 L242.07 184.40 L242.33 184.78 L242.59 184.76 L242.85 184.65 L243.11 184.20 L243.37 183.97 L243.63 184.30 L243.89 184.41 L244.15 184.63 L244.42 184.48 L244.68 184.63 L244.94 184.67 L245.20 184.32 L245.46 184.57 L245.72 184.21 L245.98 184.16 L246.24 184.33 L246.50 184.47 L246.76 184.32 L247.02 184.54 L247.28 184.33 L247.54 184.79 L247.80 184.04 L248.06 184.31 L248.32 184.54 L248.58 184.46 L248.84 184.46 L249.11 184.53 L249.37 184.33 L249.63 184.68 L249.89 184.50 L250.15 184.53 L250.41 184.24 L250.67 184.61" fill="none" stroke="#9494ff" stroke-width="0.98" stroke-linejoin="round" stroke-opacity="1.00"/>
<path d="M19.30 199.85 L19.56 199.40 L19.82 200.42 L20.08 200.17 L20.34 200.07 L20.60 199.92 L20.86 200.11 L21.12 199.56 L21.38 200.10 L21.64 200.64 L21.91 199.97 L22.17 200.16 L22.43 199.78 L22.69 199.56 L22.95 199.82 L23.21 199.68 L23.47 199.71 L23.73 199.87 L23.99 199.86 L24.25 200.19 L24.51 200.21 L24.77 200.11 L25.03 200.03 L25.29 199.79 L25.55 199.80 L25.81 199.89 L26.07 199.88 L26.33 199.76 L26.60 200.02 L26.86 200.31 L27.12 199.69 L27.38 199.93 L27.64 199.65 L27.90 199.60 L28.16 199.65 L28.42 199.86 L28.68 199.96 L28.94 200.01 L29.20 199.90 L29.46 200.08 L29.72 200.05 L29.98 199.78 L30.24 199.95 L30.50 200.01 L30.76 200.20 L31.02 200.28 L31.29 200.37 L31.55 199.84 L31.81 200.12 L32.07 199.79 L32.33 199.54 L32.59 199.78 L32.85 199.66 L33.11 199.57 L33.37 199.44 L33.63 199.62 L33.89 199.44 L34.15 199.18 L34.41 199.48 L34.67 199.51 L34.93 199.28 L35.19 199.32 L35.45 199.46 L35.71 199.55 L35.98 199.85 L36.24 199.83 L36.50 199.55 L36.76 199.19 L37.02 199.28 L37.28 198.96 L37.54 199.20 L37.80 198.93 L38.06 199.15 L38.32 198.60 L38.58 198.98 L38.84 199.15 L39.10 199.04 L39.36 199.65 L39.62 199.39 L39.88 199.34 L40.14 199.41 L40.40 199.26 L40.67 199.59 L40.93 199.41 L41.19 199.71 L41.45 199.76 L41.71 199.37 L41.97 199.60 L42.23 199.48 L42.49 199.54 L42.75 199.59 L43.01 199.70 L43.27 199.97 L43.53 199.74 L43.79 199.67 L44.05 199.85 L44.31 199.74 L44.57 199.72 L44.83 199.95 L45.09 200.14 L45.36 199.48 L45.62 199.62 L45.88 199.88 L46.14 199.64 L46.40 199.80 L46.66 199.35 L46.92 199.85 L47.18 199.57 L47.44 199.78 L47.70 199.78 L47.96 199.98 L48.22 200.24 L48.48 199.67 L48.74 199.73 L49.00 199.80 L49.26 199.94 L49.52 199.88 L49.78 200.09 L50.04 199.91 L50.31 199.80 L50.57 199.95 L50.83 199.67 L51.09 199.63 L51.35 200.14 L51.61 200.24 L51.87 199.95 L52.13 200.50 L52.39 200.37 L52.65 200.02 L52.91 200.59 L53.17 199.97 L53.43 200.09 L53.69 200.17 L53.95 200.02 L54.21 200.22 L54.47 199.99 L54.73 200.19 L55.00 199.50 L55.26 200.07 L55.52 199.91 L55.78 200.38 L56.04 200.15 L56.30 200.07 L56.56 200.36 L56.82 200.52 L57.08 200.44 L57.34 199.91 L57.60 200.18 L57.86 200.35 L58.12 199.99 L58.38 200.41 L58.64 200.23 L58.90 200.40 L59.16 200.31 L59.42 199.81 L59.69 199.82 L59.95 199.79 L60.21 199.70 L60.47 199.59 L60.73 199.73 L60.99 199.55 L61.25 199.45 L61.51 199.19 L61.77 199.27 L62.03 198.82 L62.29 197.82 L62.55 196.98 L62.81 195.86 L63.07 194.29 L63.33 193.16 L63.59 191.45 L63.85 190.42 L64.11 191.39 L64.38 192.02 L64.64 193.47 L64.90 194.56 L65.16 195.47 L65.42 195.77 L65.68 196.43 L65.94 196.97 L66.20 196.70 L66.46 196.79 L66.72 197.35 L66.98 197.94 L67.24 198.19 L67.50 198.81 L67.76 199.12 L68.02 198.50 L68.28 198.93 L68.54 199.22 L68.80 199.43 L69.07 199.21 L69.33 199.72 L69.59 199.40 L69.85 199.76 L70.11 199.76 L70.37 199.64 L70.63 199.33 L70.89 198.97 L71.15 199.12 L71.41 198.73 L71.67 198.10 L71.93 197.32 L72.19 196.70 L72.45 196.16 L72.71 196.54 L72.97 197.01 L73.23 197.70 L73.49 198.39 L73.75 198.59 L74.02 199.08 L74.28 199.77 L74.54 200.40 L74.80 200.35 L75.06 200.74 L75.32 201.09 L75.58 200.67 L75.84 200.97 L76.10 200.92 L76.36 201.38 L76.62 201.69 L76.88 201.54 L77.14 201.76 L77.40 201.25 L77.66 201.78 L77.92 200.96 L78.18 201.06 L78.44 201.39 L78.71 201.48 L78.97 201.34 L79.23 201.38 L79.49 201.84 L79.75 202.36 L80.01 201.98 L80.27 201.99 L80.53 201.59 L80.79 201.43 L81.05 201.39 L81.31 201.43 L81.57 201.58 L81.83 201.50 L82.09 201.70 L82.35 201.31 L82.61 201.72 L82.87 201.68 L83.13 201.50 L83.40 201.76 L83.66 201.84 L83.92 201.88 L84.18 201.42 L84.44 200.86 L84.70 201.09 L84.96 201.16 L85.22 201.10 L85.48 200.62 L85.74 200.66 L86.00 200.78 L86.26 200.56 L86.52 199.52 L86.78 198.87 L87.04 198.53 L87.30 198.22 L87.56 197.96 L87.82 198.23 L88.09 198.35 L88.35 199.34 L88.61 199.59 L88.87 200.81 L89.13 200.93 L89.39 201.34 L89.65 201.16 L89.91 201.77 L90.17 201.49 L90.43 201.75 L90.69 201.57 L90.95 201.95 L91.21 201.37 L91.47 201.26 L91.73 201.39 L91.99 201.66 L92.25 201.44 L92.51 202.06 L92.78 201.61 L93.04 201.63 L93.30 201.89 L93.56 201.81 L93.82 201.78 L94.08 201.17 L94.34 201.26 L94.60 201.06 L94.86 200.74 L95.12 200.77 L95.38 200.63 L95.64 201.09 L95.90 200.82 L96.16 200.57 L96.42 201.04 L96.68 201.16 L96.94 201.48 L97.20 201.28 L97.47 200.85 L97.73 201.80 L97.99 201.92 L98.25 201.50 L98.51 201.59 L98.77 201.53 L99.03 202.02 L99.29 201.65 L99.55 201.71 L99.81 202.24 L100.07 201.97 L100.33 202.14 L100.59 202.61 L100.85 202.57 L101.11 201.99 L101.37 202.25 L101.63 202.36 L101.89 202.50 L102.15 202.59 L102.42 202.06 L102.68 201.97 L102.94 201.85 L103.20 202.13 L103.46 202.20 L103.72 202.50 L103.98 202.53 L104.24 202.66 L104.50 201.83 L104.76 202.08 L105.02 201.79 L105.28 202.16 L105.54 202.33 L105.80 202.32 L106.06 202.09 L106.32 201.90 L106.58 201.73 L106.84 202.54 L107.11 202.55 L107.37 202.22 L107.63 202.56 L107.89 201.96 L108.15 202.43 L108.41 202.12 L108.67 201.72 L108.93 202.01 L109.19 201.76 L109.45 202.22 L109.71 201.98 L109.97 201.89 L110.23 202.12 L110.49 202.30 L110.75 202.35 L111.01 202.23 L111.27 202.54 L111.53 202.75 L111.80 202.60 L112.06 202.30 L112.32 202.59 L112.58 202.82 L112.84 202.19 L113.10 201.99 L113.36 202.32 L113.62 202.38 L113.88 202.34 L114.14 202.24 L114.40 202.26 L114.66 202.24 L114.92 202.16 L115.18 202.33 L115.44 202.74 L115.70 202.69 L115.96 202.76 L116.22 202.73 L116.49 202.45 L116.75 202.16 L117.01 202.33 L117.27 202.07 L117.53 202.66 L117.79 202.43 L118.05 202.50 L118.31 202.10 L118.57 202.32 L118.83 202.00 L119.09 202.32 L119.35 202.10 L119.61 202.12 L119.87 201.88 L120.13 202.10 L120.39 202.28 L120.65 202.06 L120.91 202.33 L121.18 202.43 L121.44 202.37 L121.70 201.99 L121.96 201.93 L122.22 202.37 L122.48 202.42 L122.74 202.34 L123.00 202.49 L123.26 202.13 L123.52 202.07 L123.78 202.00 L124.04 202.68 L124.30 202.64 L124.56 202.63 L124.82 202.44 L125.08 202.42 L125.34 202.39 L125.60 201.95 L125.86 202.00 L126.13 201.21 L126.39 202.16 L126.65 201.64 L126.91 201.58 L127.17 202.36 L127.43 201.98 L127.69 201.49 L127.95 201.71 L128.21 201.53 L128.47 201.69 L128.73 201.61 L128.99 201.98 L129.25 202.04 L129.51 201.56 L129.77 201.71 L130.03 201.34 L130.29 201.09 L130.55 201.33 L130.82 201.05 L131.08 200.84 L131.34 200.91 L131.60 200.64 L131.86 200.53 L132.12 199.87 L132.38 199.31 L132.64 199.22 L132.90 199.27 L133.16 198.70 L133.42 197.91 L133.68 196.89 L133.94 195.86 L134.20 193.40" fill="none" stroke="#5050f2" stroke-width="0.98" stroke-linejoin="round" stroke-opacity="1.00"/><path d="M133.94 195.86 L134.20 193.40 L134.46 190.08 L134.72 185.00 L134.98 176.94 L135.24 165.73 L135.51 151.23 L135.77 132.72 L136.03 112.09 L136.29 92.22 L136.55 74.85 L136.81 64.31 L137.07 63.56 L137.33 72.68 L137.59 89.58 L137.85 109.22 L138.11 130.53 L138.37 149.53 L138.63 164.86 L138.89 176.19 L139.15 184.42 L139.41 189.45 L139.67 193.18 L139.93 195.12" fill="none" stroke="#5050f2" stroke-width="0.90" stroke-linejoin="round" stroke-opacity="0.45"/><path d="M139.67 193.18 L139.93 195.12 L140.20 197.19 L140.46 197.77 L140.72 198.32 L140.98 198.75 L141.24 200.02 L141.50 199.52 L141.76 199.83 L142.02 200.17 L142.28 200.16 L142.54 200.80 L142.80 201.30 L143.06 200.66 L143.32 200.72 L143.58 201.06 L143.84 201.00 L144.10 200.85 L144.36 201.11 L144.62 201.12 L144.89 201.12 L145.15 201.82 L145.41 201.71 L145.67 201.98 L145.93 202.14 L146.19 202.23 L146.45 202.52 L146.71 202.25 L146.97 201.83 L147.23 202.37 L147.49 202.05 L147.75 202.03 L148.01 202.39 L148.27 202.04 L148.53 201.70 L148.79 201.67 L149.05 202.26 L149.31 202.06 L149.58 201.77 L149.84 202.07 L150.10 202.23 L150.36 202.31 L150.62 201.92 L150.88 202.58 L151.14 202.78 L151.40 202.05 L151.66 202.51 L151.92 202.17 L152.18 202.32 L152.44 202.41 L152.70 201.97 L152.96 201.81 L153.22 201.59 L153.48 201.82 L153.74 201.71 L154.00 201.59 L154.26 201.48 L154.53 201.41 L154.79 201.24 L155.05 200.72 L155.31 200.65 L155.57 200.31 L155.83 200.26 L156.09 200.38 L156.35 200.56 L156.61 200.51 L156.87 201.00 L157.13 201.67 L157.39 201.47 L157.65 201.54 L157.91 201.65 L158.17 202.51 L158.43 202.54 L158.69 202.76 L158.95 201.95 L159.22 201.87 L159.48 202.46 L159.74 201.98 L160.00 202.08 L160.26 202.84 L160.52 202.80 L160.78 203.02 L161.04 202.87 L161.30 202.35 L161.56 202.32 L161.82 202.89 L162.08 202.51 L162.34 202.79 L162.60 202.57 L162.86 202.20 L163.12 201.92 L163.38 202.46 L163.64 202.86 L163.91 203.01 L164.17 202.53 L164.43 202.43 L164.69 202.72 L164.95 202.76 L165.21 202.67 L165.47 202.70 L165.73 203.02 L165.99 202.56 L166.25 202.46 L166.51 202.44 L166.77 202.45 L167.03 202.68 L167.29 202.54 L167.55 202.40 L167.81 202.45 L168.07 202.48 L168.33 202.71 L168.60 202.88 L168.86 202.69 L169.12 202.62 L169.38 202.82 L169.64 202.95 L169.90 201.97 L170.16 202.35 L170.42 202.45 L170.68 202.31 L170.94 202.47 L171.20 202.36 L171.46 202.81 L171.72 203.25 L171.98 202.99 L172.24 202.70 L172.50 202.59 L172.76 203.07 L173.02 202.15 L173.29 202.56 L173.55 202.25 L173.81 202.50 L174.07 202.76 L174.33 202.84 L174.59 203.03 L174.85 203.00 L175.11 203.04 L175.37 203.13 L175.63 202.49 L175.89 202.46 L176.15 202.12 L176.41 202.40 L176.67 202.66 L176.93 202.66 L177.19 202.06 L177.45 202.76 L177.71 202.26 L177.97 201.97 L178.24 202.25 L178.50 202.20 L178.76 201.45 L179.02 201.48 L179.28 201.26 L179.54 200.85 L179.80 200.44 L180.06 199.68 L180.32 198.91 L180.58 198.75 L180.84 197.64 L181.10 197.77 L181.36 197.90 L181.62 199.25 L181.88 199.25 L182.14 199.74 L182.40 200.14 L182.66 200.38 L182.93 200.40 L183.19 200.53 L183.45 200.77 L183.71 201.28 L183.97 201.45 L184.23 201.46 L184.49 202.22 L184.75 201.84 L185.01 202.02 L185.27 202.05 L185.53 201.97 L185.79 202.30 L186.05 202.22 L186.31 202.63 L186.57 202.26 L186.83 202.78 L187.09 202.59 L187.35 202.43 L187.62 202.57 L187.88 202.92 L188.14 202.71 L188.40 202.78 L188.66 202.61 L188.92 202.86 L189.18 202.85 L189.44 203.21 L189.70 202.76 L189.96 203.05 L190.22 202.66 L190.48 203.17 L190.74 203.11 L191.00 202.76 L191.26 202.60 L191.52 202.48 L191.78 203.25 L192.04 202.79 L192.31 203.21 L192.57 203.33 L192.83 203.07 L193.09 203.00 L193.35 202.77 L193.61 202.87 L193.87 203.27 L194.13 203.15 L194.39 203.17 L194.65 202.87 L194.91 202.83 L195.17 202.68 L195.43 202.72 L195.69 203.31 L195.95 203.21 L196.21 202.84 L196.47 203.21 L196.73 203.32 L197.00 203.26 L197.26 202.82 L197.52 203.29 L197.78 202.80 L198.04 203.02 L198.30 203.23 L198.56 203.00 L198.82 202.86 L199.08 202.39 L199.34 203.10 L199.60 203.08 L199.86 203.11 L200.12 203.52 L200.38 203.05 L200.64 202.96 L200.90 203.14 L201.16 202.95 L201.42 203.26 L201.69 203.01 L201.95 202.98 L202.21 202.98 L202.47 203.07 L202.73 202.83 L202.99 202.89 L203.25 202.74 L203.51 202.90 L203.77 202.93 L204.03 203.49 L204.29 202.63 L204.55 203.06 L204.81 203.18 L205.07 203.06 L205.33 202.67 L205.59 202.39 L205.85 202.91 L206.11 202.47 L206.37 202.62 L206.64 203.31 L206.90 203.24 L207.16 203.53 L207.42 203.05 L207.68 203.27 L207.94 203.14 L208.20 203.29 L208.46 203.17 L208.72 203.34 L208.98 203.57 L209.24 203.11 L209.50 203.84 L209.76 203.34 L210.02 203.03 L210.28 203.42 L210.54 203.33 L210.80 202.79 L211.06 202.44 L211.33 202.76 L211.59 202.96 L211.85 203.09 L212.11 202.92 L212.37 202.89 L212.63 203.10 L212.89 203.44 L213.15 203.04 L213.41 203.38 L213.67 203.05 L213.93 203.02 L214.19 202.88 L214.45 202.89 L214.71 203.01 L214.97 202.91 L215.23 203.28 L215.49 202.73 L215.75 203.10 L216.02 203.16 L216.28 202.91 L216.54 202.68 L216.80 203.16 L217.06 203.16 L217.32 203.42 L217.58 203.40 L217.84 203.04 L218.10 203.28 L218.36 203.49 L218.62 203.43 L218.88 203.50 L219.14 203.23 L219.40 203.22 L219.66 203.08 L219.92 203.39 L220.18 203.13 L220.44 203.00 L220.71 203.44 L220.97 203.41 L221.23 203.58 L221.49 203.03 L221.75 202.85 L222.01 202.85 L222.27 203.14 L222.53 203.31 L222.79 202.58 L223.05 203.16 L223.31 203.57 L223.57 203.15 L223.83 202.94 L224.09 202.89 L224.35 203.23 L224.61 203.54 L224.87 203.10 L225.13 203.00 L225.40 202.60 L225.66 203.26 L225.92 202.90 L226.18 203.12 L226.44 203.38 L226.70 202.96 L226.96 203.28 L227.22 203.15 L227.48 203.31 L227.74 203.25 L228.00 203.34 L228.26 203.39 L228.52 203.16 L228.78 202.91 L229.04 203.23 L229.30 203.44 L229.56 203.40 L229.82 203.42 L230.08 203.32 L230.35 203.14 L230.61 203.03 L230.87 203.16 L231.13 203.17 L231.39 203.19 L231.65 203.50 L231.91 203.09 L232.17 202.85 L232.43 203.07 L232.69 203.24 L232.95 203.18 L233.21 203.26 L233.47 203.32 L233.73 203.15 L233.99 203.37 L234.25 203.47 L234.51 203.17 L234.77 203.07 L235.04 202.90 L235.30 203.14 L235.56 203.95 L235.82 203.48 L236.08 203.31 L236.34 203.19 L236.60 202.78 L236.86 203.00 L237.12 203.48 L237.38 203.81 L237.64 203.22 L237.90 203.56 L238.16 203.42 L238.42 202.77 L238.68 202.95 L238.94 202.99 L239.20 203.53 L239.46 203.64 L239.73 203.68 L239.99 203.93 L240.25 203.75 L240.51 203.72 L240.77 203.54 L241.03 203.36 L241.29 203.66 L241.55 203.17 L241.81 203.06 L242.07 203.28 L242.33 203.46 L242.59 203.31 L242.85 203.78 L243.11 203.76 L243.37 203.42 L243.63 203.51 L243.89 202.93 L244.15 203.67 L244.42 203.60 L244.68 203.36 L244.94 202.97 L245.20 202.91 L245.46 202.56 L245.72 203.27 L245.98 203.61 L246.24 203.81 L246.50 203.12 L246.76 203.56 L247.02 203.21 L247.28 202.72 L247.54 203.29 L247.80 203.56 L248.06 203.28 L248.32 203.21 L248.58 203.10 L248.84 203.24 L249.11 203.49 L249.37 203.75 L249.63 202.95 L249.89 203.28 L250.15 203.26 L250.41 203.14 L250.67 202.82" fill="none" stroke="#5050f2" stroke-width="0.98" stroke-linejoin="round" stroke-opacity="1.00"/>
<path d="M19.30 218.99 L19.56 219.33 L19.82 219.47 L20.08 219.06 L20.34 218.79 L20.60 218.95 L20.86 219.59 L21.12 219.89 L21.38 219.26 L21.64 218.87 L21.91 218.61 L22.17 218.65 L22.43 219.06 L22.69 218.89 L22.95 218.89 L23.21 219.11 L23.47 218.53 L23.73 218.53 L23.99 218.84 L24.25 218.80 L24.51 218.86 L24.77 219.02 L25.03 219.16 L25.29 219.29 L25.55 219.19 L25.81 219.22 L26.07 219.07 L26.33 219.24 L26.60 219.04 L26.86 218.64 L27.12 218.39 L27.38 218.27 L27.64 218.27 L27.90 218.46 L28.16 218.32 L28.42 217.62 L28.68 217.77 L28.94 217.25 L29.20 217.53 L29.46 217.35 L29.72 217.47 L29.98 217.73 L30.24 217.05 L30.50 217.01 L30.76 217.77 L31.02 217.44 L31.29 218.07 L31.55 217.89 L31.81 217.79 L32.07 217.61 L32.33 217.60 L32.59 218.16 L32.85 218.62 L33.11 218.40 L33.37 218.50 L33.63 218.97 L33.89 218.67 L34.15 218.60 L34.41 218.55 L34.67 218.80 L34.93 218.85 L35.19 218.50 L35.45 219.40 L35.71 218.81 L35.98 219.15 L36.24 219.02 L36.50 218.95 L36.76 218.62 L37.02 218.70 L37.28 218.75 L37.54 218.51 L37.80 219.17 L38.06 218.78 L38.32 218.45 L38.58 219.33 L38.84 218.80 L39.10 219.32 L39.36 218.66 L39.62 219.38 L39.88 218.76 L40.14 218.71 L40.40 219.07 L40.67 218.62 L40.93 219.06 L41.19 219.43 L41.45 219.11 L41.71 218.97 L41.97 219.08 L42.23 219.13 L42.49 219.16 L42.75 219.10 L43.01 219.09 L43.27 218.91 L43.53 219.16 L43.79 219.26 L44.05 219.10 L44.31 219.57 L44.57 219.55 L44.83 219.52 L45.09 219.09 L45.36 218.88 L45.62 219.00 L45.88 218.92 L46.14 219.20 L46.40 219.73 L46.66 219.75 L46.92 219.68 L47.18 218.93 L47.44 219.31 L47.70 219.51 L47.96 219.65 L48.22 219.47 L48.48 219.59 L48.74 219.46 L49.00 219.66 L49.26 219.94 L49.52 219.65 L49.78 219.19 L50.04 219.60 L50.31 219.10 L50.57 219.40 L50.83 219.73 L51.09 219.51 L51.35 219.17 L51.61 219.10 L51.87 218.99 L52.13 219.44 L52.39 219.34 L52.65 219.58 L52.91 219.69 L53.17 219.31 L53.43 219.07 L53.69 219.10 L53.95 219.25 L54.21 219.01 L54.47 219.44 L54.73 219.62 L55.00 218.74 L55.26 218.87 L55.52 218.92 L55.78 219.36 L56.04 219.01 L56.30 219.23 L56.56 218.97 L56.82 219.24 L57.08 219.07 L57.34 218.97 L57.60 219.18 L57.86 218.86 L58.12 219.25 L58.38 219.15 L58.64 219.00 L58.90 218.78 L59.16 218.74 L59.42 218.95 L59.69 218.37 L59.95 219.17 L60.21 218.52 L60.47 218.21 L60.73 217.93 L60.99 217.78 L61.25 217.30 L61.51 217.21 L61.77 217.12 L62.03 217.04 L62.29 216.55 L62.55 216.66 L62.81 216.67 L63.07 216.48 L63.33 216.26 L63.59 215.88 L63.85 215.30 L64.11 215.33 L64.38 215.88 L64.64 216.19 L64.90 217.08 L65.16 217.33 L65.42 217.75 L65.68 217.69 L65.94 218.58 L66.20 218.65 L66.46 218.55 L66.72 218.72 L66.98 219.17 L67.24 219.35 L67.50 219.50 L67.76 219.46 L68.02 219.47 L68.28 220.02 L68.54 220.17 L68.80 219.75 L69.07 219.53 L69.33 219.40 L69.59 219.52 L69.85 219.21 L70.11 219.57 L70.37 219.34 L70.63 219.44 L70.89 219.20 L71.15 219.10 L71.41 218.69 L71.67 218.34 L71.93 217.54 L72.19 217.31 L72.45 216.55 L72.71 216.92 L72.97 216.84 L73.23 217.86 L73.49 218.49 L73.75 219.11 L74.02 219.45 L74.28 218.84 L74.54 219.27 L74.80 219.37 L75.06 219.55 L75.32 219.47 L75.58 219.56 L75.84 220.12 L76.10 220.16 L76.36 220.18 L76.62 220.44 L76.88 220.85 L77.14 220.66 L77.40 220.45 L77.66 220.43 L77.92 219.86 L78.18 219.97 L78.44 220.44 L78.71 220.61 L78.97 220.38 L79.23 220.61 L79.49 220.65 L79.75 220.50 L80.01 220.28 L80.27 220.36 L80.53 220.43 L80.79 220.82 L81.05 220.04 L81.31 220.52 L81.57 220.46 L81.83 221.06 L82.09 220.59 L82.35 220.61 L82.61 220.84 L82.87 220.78 L83.13 220.83 L83.40 220.63 L83.66 220.44 L83.92 220.22 L84.18 220.00 L84.44 220.44 L84.70 220.43 L84.96 220.43 L85.22 219.79 L85.48 219.86 L85.74 220.42 L86.00 219.89 L86.26 219.52 L86.52 219.17 L86.78 218.61 L87.04 218.02 L87.30 218.22 L87.56 218.27 L87.82 217.99 L88.09 217.96 L88.35 218.80 L88.61 218.98 L88.87 219.68 L89.13 219.78 L89.39 220.22 L89.65 219.76 L89.91 220.13 L90.17 220.56 L90.43 220.27 L90.69 220.22 L90.95 220.54 L91.21 219.68 L91.47 219.71 L91.73 219.30 L91.99 219.02 L92.25 218.80 L92.51 217.56 L92.78 216.67 L93.04 214.91 L93.30 213.62 L93.56 213.99 L93.82 215.23 L94.08 216.10 L94.34 217.67 L94.60 218.48 L94.86 219.26 L95.12 220.03 L95.38 220.37 L95.64 220.49 L95.90 220.51 L96.16 220.81 L96.42 220.91 L96.68 221.29 L96.94 221.05 L97.20 220.88 L97.47 221.12 L97.73 221.15 L97.99 221.39 L98.25 221.38 L98.51 221.39 L98.77 221.19 L99.03 221.33 L99.29 221.18 L99.55 221.47 L99.81 221.19 L100.07 221.60 L100.33 222.09 L100.59 222.28 L100.85 221.78 L101.11 221.32 L101.37 221.63 L101.63 221.56 L101.89 222.11 L102.15 221.54 L102.42 221.85 L102.68 221.22 L102.94 221.24 L103.20 221.32 L103.46 221.70 L103.72 221.86 L103.98 221.73 L104.24 221.98 L104.50 221.92 L104.76 222.41 L105.02 222.14 L105.28 221.43 L105.54 221.74 L105.80 222.09 L106.06 222.04 L106.32 221.93 L106.58 221.87 L106.84 221.96 L107.11 221.27 L107.37 221.78 L107.63 221.73 L107.89 221.53 L108.15 221.79 L108.41 221.36 L108.67 221.78 L108.93 221.79 L109.19 222.01 L109.45 222.23 L109.71 221.86 L109.97 221.71 L110.23 221.55 L110.49 221.68 L110.75 221.74 L111.01 221.95 L111.27 222.00 L111.53 221.83 L111.80 221.89 L112.06 221.97 L112.32 221.79 L112.58 222.07 L112.84 221.60 L113.10 221.88 L113.36 222.07 L113.62 221.41 L113.88 221.16 L114.14 221.52 L114.40 221.90 L114.66 222.05 L114.92 222.35 L115.18 222.07 L115.44 222.00 L115.70 221.69 L115.96 221.43 L116.22 221.84 L116.49 222.13 L116.75 222.19 L117.01 221.95 L117.27 222.21 L117.53 222.02 L117.79 221.61 L118.05 221.94 L118.31 222.08 L118.57 221.75 L118.83 221.81 L119.09 221.91 L119.35 221.49 L119.61 221.61 L119.87 221.79 L120.13 221.52 L120.39 221.45 L120.65 221.89 L120.91 221.78 L121.18 221.55 L121.44 221.57 L121.70 222.19 L121.96 221.95 L122.22 221.94 L122.48 221.48 L122.74 221.75 L123.00 221.59 L123.26 222.11 L123.52 221.96 L123.78 222.01 L124.04 221.93 L124.30 221.70 L124.56 222.09 L124.82 221.85 L125.08 221.66 L125.34 221.45 L125.60 221.61 L125.86 221.60 L126.13 221.38 L126.39 221.42 L126.65 221.48 L126.91 221.23 L127.17 221.01 L127.43 220.92 L127.69 221.18 L127.95 221.28 L128.21 221.43 L128.47 221.38 L128.73 221.36 L128.99 220.87 L129.25 220.76 L129.51 221.11 L129.77 220.78 L130.03 220.57 L130.29 220.88 L130.55 220.16 L130.82 220.15 L131.08 220.11 L131.34 220.13 L131.60 219.75 L131.86 219.31 L132.12 219.13 L132.38 219.06 L132.64 218.93 L132.90 218.37 L133.16 217.98 L133.42 217.69 L133.68 216.24 L133.94 214.67 L134.20 212.49" fill="none" stroke="#2828f2" stroke-width="0.98" stroke-linejoin="round" stroke-opacity="1.00"/><path d="M133.94 214.67 L134.20 212.49 L134.46 208.58 L134.72 203.40 L134.98 194.57 L135.24 181.05 L135.51 164.32 L135.77 143.33 L136.03 119.41 L136.29 95.52 L136.55 76.48 L136.81 65.21 L137.07 64.58 L137.33 74.62 L137.59 93.63 L137.85 116.77 L138.11 140.39 L138.37 161.49 L138.63 179.48 L138.89 192.20 L139.15 201.79 L139.41 208.07 L139.67 212.16 L139.93 214.38" fill="none" stroke="#2828f2" stroke-width="0.90" stroke-linejoin="round" stroke-opacity="0.45"/><path d="M139.67 212.16 L139.93 214.38 L140.20 216.33 L140.46 217.43 L140.72 217.69 L140.98 218.58 L141.24 219.18 L141.50 218.95 L141.76 219.29 L142.02 219.44 L142.28 219.95 L142.54 220.05 L142.80 220.22 L143.06 220.49 L143.32 220.35 L143.58 220.81 L143.84 221.23 L144.10 220.98 L144.36 220.93 L144.62 221.24 L144.89 220.65 L145.15 221.27 L145.41 221.04 L145.67 221.24 L145.93 221.00 L146.19 221.48 L146.45 221.63 L146.71 221.39 L146.97 221.55 L147.23 221.33 L147.49 221.40 L147.75 221.24 L148.01 221.04 L148.27 221.17 L148.53 221.53 L148.79 221.60 L149.05 221.78 L149.31 221.99 L149.58 221.45 L149.84 221.08 L150.10 221.06 L150.36 221.35 L150.62 221.64 L150.88 221.60 L151.14 221.31 L151.40 221.58 L151.66 221.56 L151.92 221.36 L152.18 221.68 L152.44 221.39 L152.70 221.55 L152.96 221.54 L153.22 221.38 L153.48 221.43 L153.74 221.22 L154.00 220.64 L154.26 221.26 L154.53 220.98 L154.79 220.98 L155.05 220.55 L155.31 220.33 L155.57 220.37 L155.83 220.10 L156.09 220.01 L156.35 220.36 L156.61 220.40 L156.87 220.77 L157.13 221.02 L157.39 220.66 L157.65 220.11 L157.91 221.04 L158.17 221.05 L158.43 221.47 L158.69 221.50 L158.95 221.59 L159.22 221.39 L159.48 221.98 L159.74 222.04 L160.00 221.80 L160.26 221.57 L160.52 222.09 L160.78 221.93 L161.04 221.87 L161.30 221.96 L161.56 222.06 L161.82 222.27 L162.08 221.83 L162.34 221.97 L162.60 221.61 L162.86 221.88 L163.12 221.72 L163.38 222.19 L163.64 221.64 L163.91 221.90 L164.17 222.01 L164.43 221.83 L164.69 221.97 L164.95 222.28 L165.21 222.60 L165.47 221.79 L165.73 221.78 L165.99 222.06 L166.25 221.95 L166.51 222.22 L166.77 222.07 L167.03 221.67 L167.29 221.76 L167.55 221.80 L167.81 222.95 L168.07 222.31 L168.33 222.18 L168.60 221.73 L168.86 221.76 L169.12 222.24 L169.38 221.75 L169.64 221.85 L169.90 222.39 L170.16 222.17 L170.42 221.87 L170.68 221.59 L170.94 222.11 L171.20 221.51 L171.46 221.90 L171.72 222.17 L171.98 222.26 L172.24 221.91 L172.50 222.32 L172.76 222.11 L173.02 221.99 L173.29 221.93 L173.55 221.77 L173.81 221.68 L174.07 222.05 L174.33 222.06 L174.59 222.10 L174.85 222.70 L175.11 222.11 L175.37 222.08 L175.63 222.08 L175.89 221.94 L176.15 221.88 L176.41 222.58 L176.67 222.41 L176.93 222.06 L177.19 222.43 L177.45 221.79 L177.71 221.63 L177.97 221.73 L178.24 221.96 L178.50 221.39 L178.76 221.43 L179.02 221.51 L179.28 221.16 L179.54 220.69 L179.80 220.49 L180.06 219.83 L180.32 219.41 L180.58 218.34 L180.84 218.65 L181.10 218.85 L181.36 219.42 L181.62 219.85 L181.88 220.01 L182.14 220.11 L182.40 220.52 L182.66 220.61 L182.93 220.95 L183.19 221.34 L183.45 221.02 L183.71 221.43 L183.97 221.72 L184.23 221.61 L184.49 221.30 L184.75 221.76 L185.01 221.76 L185.27 221.45 L185.53 222.11 L185.79 222.14 L186.05 221.81 L186.31 222.02 L186.57 222.09 L186.83 221.75 L187.09 221.64 L187.35 222.26 L187.62 222.31 L187.88 221.95 L188.14 222.53 L188.40 222.33 L188.66 221.95 L188.92 222.14 L189.18 222.20 L189.44 222.17 L189.70 222.00 L189.96 221.73 L190.22 221.64 L190.48 222.10 L190.74 222.38 L191.00 221.96 L191.26 222.41 L191.52 222.43 L191.78 222.09 L192.04 222.33 L192.31 222.12 L192.57 222.21 L192.83 222.51 L193.09 222.06 L193.35 221.89 L193.61 222.22 L193.87 222.35 L194.13 222.09 L194.39 222.46 L194.65 222.38 L194.91 221.92 L195.17 222.27 L195.43 222.20 L195.69 222.38 L195.95 222.17 L196.21 222.60 L196.47 222.83 L196.73 222.49 L197.00 222.15 L197.26 222.17 L197.52 221.85 L197.78 222.31 L198.04 221.91 L198.30 222.29 L198.56 222.66 L198.82 222.53 L199.08 222.60 L199.34 222.27 L199.60 222.38 L199.86 221.92 L200.12 221.75 L200.38 221.89 L200.64 222.03 L200.90 222.51 L201.16 221.91 L201.42 222.17 L201.69 222.72 L201.95 222.31 L202.21 222.48 L202.47 222.42 L202.73 222.30 L202.99 222.05 L203.25 222.32 L203.51 222.24 L203.77 222.30 L204.03 221.76 L204.29 222.16 L204.55 222.06 L204.81 222.04 L205.07 222.78 L205.33 222.12 L205.59 222.50 L205.85 222.61 L206.11 222.29 L206.37 222.08 L206.64 222.01 L206.90 222.34 L207.16 222.18 L207.42 221.94 L207.68 221.62 L207.94 222.68 L208.20 222.53 L208.46 222.61 L208.72 222.51 L208.98 222.00 L209.24 222.52 L209.50 222.50 L209.76 222.26 L210.02 221.99 L210.28 222.51 L210.54 221.94 L210.80 222.01 L211.06 221.92 L211.33 222.33 L211.59 222.41 L211.85 221.91 L212.11 221.86 L212.37 222.27 L212.63 222.07 L212.89 222.16 L213.15 222.07 L213.41 221.90 L213.67 221.71 L213.93 221.64 L214.19 221.67 L214.45 222.10 L214.71 222.32 L214.97 222.34 L215.23 222.47 L215.49 222.15 L215.75 222.05 L216.02 222.20 L216.28 222.47 L216.54 222.26 L216.80 222.02 L217.06 222.27 L217.32 222.39 L217.58 222.35 L217.84 222.44 L218.10 222.22 L218.36 221.87 L218.62 222.45 L218.88 222.60 L219.14 222.66 L219.40 222.62 L219.66 222.46 L219.92 222.29 L220.18 222.04 L220.44 221.85 L220.71 222.73 L220.97 222.40 L221.23 222.87 L221.49 222.32 L221.75 222.52 L222.01 222.42 L222.27 222.65 L222.53 222.56 L222.79 222.28 L223.05 222.24 L223.31 222.20 L223.57 221.81 L223.83 222.38 L224.09 221.83 L224.35 222.78 L224.61 222.41 L224.87 222.35 L225.13 222.75 L225.40 222.76 L225.66 222.29 L225.92 221.98 L226.18 222.19 L226.44 222.22 L226.70 222.01 L226.96 222.40 L227.22 221.83 L227.48 222.46 L227.74 222.53 L228.00 222.33 L228.26 222.19 L228.52 222.51 L228.78 222.63 L229.04 222.54 L229.30 222.42 L229.56 222.34 L229.82 222.28 L230.08 222.18 L230.35 222.38 L230.61 222.49 L230.87 222.45 L231.13 222.59 L231.39 222.54 L231.65 222.28 L231.91 222.21 L232.17 222.41 L232.43 222.07 L232.69 222.28 L232.95 221.81 L233.21 222.12 L233.47 221.93 L233.73 222.40 L233.99 222.49 L234.25 222.35 L234.51 222.91 L234.77 222.81 L235.04 222.85 L235.30 222.59 L235.56 222.97 L235.82 222.39 L236.08 222.12 L236.34 222.36 L236.60 223.02 L236.86 222.62 L237.12 222.33 L237.38 222.48 L237.64 222.53 L237.90 222.31 L238.16 222.47 L238.42 222.66 L238.68 222.52 L238.94 221.99 L239.20 222.30 L239.46 222.52 L239.73 222.84 L239.99 222.75 L240.25 222.50 L240.51 222.06 L240.77 222.04 L241.03 222.24 L241.29 221.98 L241.55 222.41 L241.81 222.26 L242.07 222.65 L242.33 221.94 L242.59 221.95 L242.85 222.67 L243.11 222.76 L243.37 222.48 L243.63 223.06 L243.89 222.61 L244.15 222.61 L244.42 222.51 L244.68 223.04 L244.94 222.78 L245.20 222.43 L245.46 221.79 L245.72 222.27 L245.98 222.51 L246.24 222.77 L246.50 222.58 L246.76 222.74 L247.02 222.96 L247.28 222.56 L247.54 222.60 L247.80 222.19 L248.06 222.19 L248.32 222.75 L248.58 222.97 L248.84 222.40 L249.11 222.03 L249.37 222.39 L249.63 222.49 L249.89 222.50 L250.15 222.46 L250.41 222.43 L250.67 222.51" fill="none" stroke="#2828f2" stroke-width="0.98" stroke-linejoin="round" stroke-opacity="1.00"/>
</g></g>
<rect x="19.30" y="28.20" width="231.60" height="197.10" fill="none" stroke="#111" stroke-width="1.3"/>
<line x1="19.30" y1="61.05" x2="23.30" y2="61.05" stroke="#111" stroke-width="1.3"/>
<line x1="19.30" y1="93.90" x2="23.30" y2="93.90" stroke="#111" stroke-width="1.3"/>
<line x1="19.30" y1="126.75" x2="23.30" y2="126.75" stroke="#111" stroke-width="1.3"/>
<line x1="19.30" y1="159.60" x2="23.30" y2="159.60" stroke="#111" stroke-width="1.3"/>
<line x1="19.30" y1="192.45" x2="23.30" y2="192.45" stroke="#111" stroke-width="1.3"/>
<line x1="48.25" y1="225.30" x2="48.25" y2="221.30" stroke="#111" stroke-width="1.3"/>
<line x1="77.20" y1="225.30" x2="77.20" y2="221.30" stroke="#111" stroke-width="1.3"/>
<line x1="106.15" y1="225.30" x2="106.15" y2="221.30" stroke="#111" stroke-width="1.3"/>
<line x1="135.10" y1="225.30" x2="135.10" y2="221.30" stroke="#111" stroke-width="1.3"/>
<line x1="164.05" y1="225.30" x2="164.05" y2="221.30" stroke="#111" stroke-width="1.3"/>
<line x1="193.00" y1="225.30" x2="193.00" y2="221.30" stroke="#111" stroke-width="1.3"/>
<line x1="221.95" y1="225.30" x2="221.95" y2="221.30" stroke="#111" stroke-width="1.3"/>
<text x="11.888" y="240.100" font-family="Liberation Sans, sans-serif" font-size="12.857" fill="#000" stroke="#000" stroke-width="0.10" textLength="14.722" lengthAdjust="spacingAndGlyphs">20</text>
<text x="40.838" y="240.100" font-family="Liberation Sans, sans-serif" font-size="12.857" fill="#000" stroke="#000" stroke-width="0.10" textLength="14.722" lengthAdjust="spacingAndGlyphs">25</text>
<text x="69.926" y="240.100" font-family="Liberation Sans, sans-serif" font-size="12.857" fill="#000" stroke="#000" stroke-width="0.10" textLength="14.579" lengthAdjust="spacingAndGlyphs">30</text>
<text x="98.876" y="240.100" font-family="Liberation Sans, sans-serif" font-size="12.857" fill="#000" stroke="#000" stroke-width="0.10" textLength="14.579" lengthAdjust="spacingAndGlyphs">35</text>
<text x="128.093" y="240.100" font-family="Liberation Sans, sans-serif" font-size="12.857" fill="#000" stroke="#000" stroke-width="0.10" textLength="14.302" lengthAdjust="spacingAndGlyphs">40</text>
<text x="157.043" y="240.100" font-family="Liberation Sans, sans-serif" font-size="13.043" fill="#000" stroke="#000" stroke-width="0.10" textLength="14.302" lengthAdjust="spacingAndGlyphs">45</text>
<text x="185.726" y="240.100" font-family="Liberation Sans, sans-serif" font-size="12.857" fill="#000" stroke="#000" stroke-width="0.10" textLength="14.579" lengthAdjust="spacingAndGlyphs">50</text>
<text x="214.676" y="240.100" font-family="Liberation Sans, sans-serif" font-size="13.043" fill="#000" stroke="#000" stroke-width="0.10" textLength="14.579" lengthAdjust="spacingAndGlyphs">55</text>
<text x="243.488" y="240.100" font-family="Liberation Sans, sans-serif" font-size="12.857" fill="#000" stroke="#000" stroke-width="0.10" textLength="14.722" lengthAdjust="spacingAndGlyphs">60</text>
<rect x="61.25" y="19.10" width="7.00" height="7.00" fill="#ff0000"/>
<rect x="87.02" y="19.10" width="7.00" height="7.00" fill="#ff0000"/>
<rect x="168.08" y="19.10" width="7.00" height="7.00" fill="#ff0000"/>
<rect x="218.45" y="19.10" width="7.00" height="7.00" fill="#ff0000"/>
<path d="M71.76 19.00L74.66 22.70L71.76 26.40L68.86 22.70Z" fill="#008000"/>
<text x="126.772" y="25.200" font-family="Liberation Sans, sans-serif" font-size="12.754" fill="#000" stroke="#000" stroke-width="0.10" textLength="19.580" lengthAdjust="spacingAndGlyphs">Mo</text>
<circle cx="38.41" cy="165.30" r="2.85" fill="#0000ff"/>
<circle cx="62.15" cy="207.60" r="2.85" fill="#0000ff"/>
<circle cx="95.73" cy="166.00" r="2.85" fill="#0000ff"/>
<circle cx="155.94" cy="167.10" r="2.85" fill="#0000ff"/>
<path d="M63.48 160.65L66.38 165.35L60.58 165.35Z" fill="#ffa500"/>
<path d="M72.74 160.65L75.64 165.35L69.84 165.35Z" fill="#ffa500"/>
<path d="M87.62 150.95L90.52 155.65L84.72 155.65Z" fill="#ffa500"/>
<path d="M93.70 206.35L96.60 211.05L90.80 211.05Z" fill="#ffa500"/>
<path d="M180.55 148.25L183.45 152.95L177.65 152.95Z" fill="#ffa500"/>
<text x="188.991" y="79.800" font-family="Liberation Sans, sans-serif" font-size="10.571" fill="#000" stroke="#000" stroke-width="0.22" textLength="17.003" lengthAdjust="spacingAndGlyphs">600</text>
<text x="208.600" y="79.800" font-family="Liberation Sans, sans-serif" font-size="10.571" fill="#000" stroke="#000" stroke-width="0.15" textLength="10.742" lengthAdjust="spacingAndGlyphs"><tspan font-size="88%" dy="-0.14em" stroke-width="0.12">°</tspan><tspan dy="0.123em">C</tspan></text>
<text x="189.095" y="97.500" font-family="Liberation Sans, sans-serif" font-size="10.571" fill="#000" stroke="#000" stroke-width="0.22" textLength="16.896" lengthAdjust="spacingAndGlyphs">550</text>
<text x="208.600" y="97.500" font-family="Liberation Sans, sans-serif" font-size="10.571" fill="#000" stroke="#000" stroke-width="0.15" textLength="10.742" lengthAdjust="spacingAndGlyphs"><tspan font-size="88%" dy="-0.14em" stroke-width="0.12">°</tspan><tspan dy="0.123em">C</tspan></text>
<text x="189.095" y="118.700" font-family="Liberation Sans, sans-serif" font-size="10.571" fill="#000" stroke="#000" stroke-width="0.22" textLength="16.896" lengthAdjust="spacingAndGlyphs">500</text>
<text x="208.600" y="118.700" font-family="Liberation Sans, sans-serif" font-size="10.571" fill="#000" stroke="#000" stroke-width="0.15" textLength="10.742" lengthAdjust="spacingAndGlyphs"><tspan font-size="88%" dy="-0.14em" stroke-width="0.12">°</tspan><tspan dy="0.123em">C</tspan></text>
<text x="189.300" y="137.800" font-family="Liberation Sans, sans-serif" font-size="10.571" fill="#000" stroke="#000" stroke-width="0.22" textLength="16.686" lengthAdjust="spacingAndGlyphs">450</text>
<text x="208.600" y="137.800" font-family="Liberation Sans, sans-serif" font-size="10.571" fill="#000" stroke="#000" stroke-width="0.15" textLength="10.742" lengthAdjust="spacingAndGlyphs"><tspan font-size="88%" dy="-0.14em" stroke-width="0.12">°</tspan><tspan dy="0.123em">C</tspan></text>
<text x="189.300" y="158.300" font-family="Liberation Sans, sans-serif" font-size="10.571" fill="#000" stroke="#000" stroke-width="0.22" textLength="16.686" lengthAdjust="spacingAndGlyphs">400</text>
<text x="208.600" y="158.300" font-family="Liberation Sans, sans-serif" font-size="10.571" fill="#000" stroke="#000" stroke-width="0.15" textLength="10.742" lengthAdjust="spacingAndGlyphs"><tspan font-size="88%" dy="-0.14em" stroke-width="0.12">°</tspan><tspan dy="0.123em">C</tspan></text>
<text x="189.095" y="177.800" font-family="Liberation Sans, sans-serif" font-size="10.571" fill="#000" stroke="#000" stroke-width="0.22" textLength="16.896" lengthAdjust="spacingAndGlyphs">350</text>
<text x="208.600" y="177.800" font-family="Liberation Sans, sans-serif" font-size="10.571" fill="#000" stroke="#000" stroke-width="0.15" textLength="10.742" lengthAdjust="spacingAndGlyphs"><tspan font-size="88%" dy="-0.14em" stroke-width="0.12">°</tspan><tspan dy="0.123em">C</tspan></text>
<text x="189.095" y="196.900" font-family="Liberation Sans, sans-serif" font-size="10.571" fill="#000" stroke="#000" stroke-width="0.22" textLength="16.896" lengthAdjust="spacingAndGlyphs">300</text>
<text x="208.600" y="196.900" font-family="Liberation Sans, sans-serif" font-size="10.571" fill="#000" stroke="#000" stroke-width="0.15" textLength="10.742" lengthAdjust="spacingAndGlyphs"><tspan font-size="88%" dy="-0.14em" stroke-width="0.12">°</tspan><tspan dy="0.123em">C</tspan></text>
<text x="188.991" y="217.600" font-family="Liberation Sans, sans-serif" font-size="10.571" fill="#000" stroke="#000" stroke-width="0.22" textLength="17.003" lengthAdjust="spacingAndGlyphs">250</text>
<text x="208.600" y="217.600" font-family="Liberation Sans, sans-serif" font-size="10.571" fill="#000" stroke="#000" stroke-width="0.15" textLength="10.742" lengthAdjust="spacingAndGlyphs"><tspan font-size="88%" dy="-0.14em" stroke-width="0.12">°</tspan><tspan dy="0.123em">C</tspan></text>
<text x="107.227" y="258.400" font-family="Liberation Sans, sans-serif" font-size="12.740" fill="#000" stroke="#000" stroke-width="0.10" textLength="56.071" lengthAdjust="spacingAndGlyphs">2 <tspan font-family="Liberation Serif, serif" font-style="italic" font-size="112%" stroke-width="0.45">θ</tspan> [deg.]</text>
<text transform="rotate(-90)" x="-167.269" y="11.600" font-family="Liberation Sans, sans-serif" font-size="13.014" fill="#000" stroke="#000" stroke-width="0.10" textLength="80.851" lengthAdjust="spacingAndGlyphs">Intensity [a.u.]</text>
<text x="0.144" y="9.800" font-family="Liberation Sans, sans-serif" font-size="11.370" fill="#000" stroke="#000" stroke-width="0.00" textLength="14.388" lengthAdjust="spacingAndGlyphs">(a)</text>
<clipPath id="clipb"><rect x="311.80" y="28.20" width="231.60" height="197.10"/></clipPath>
<g clip-path="url(#clipb)"><g filter="url(#bl)">
<line x1="357.25" y1="28.20" x2="357.25" y2="225.30" stroke="#ff2020" stroke-width="0.90" stroke-dasharray="1 1" stroke-opacity="0.50"/>
<line x1="383.02" y1="28.20" x2="383.02" y2="225.30" stroke="#ff2020" stroke-width="0.90" stroke-dasharray="1 1" stroke-opacity="0.50"/>
<line x1="464.08" y1="28.20" x2="464.08" y2="225.30" stroke="#ff2020" stroke-width="0.90" stroke-dasharray="1 1" stroke-opacity="0.50"/>
<line x1="514.45" y1="28.20" x2="514.45" y2="225.30" stroke="#ff2020" stroke-width="0.90" stroke-dasharray="1 1" stroke-opacity="0.50"/>
<line x1="330.91" y1="170.00" x2="330.91" y2="225.30" stroke="#2020ff" stroke-width="0.90" stroke-dasharray="1 1" stroke-opacity="0.65"/>
<line x1="388.23" y1="171.60" x2="388.23" y2="225.30" stroke="#2020ff" stroke-width="0.90" stroke-dasharray="1 1" stroke-opacity="0.65"/>
<line x1="448.44" y1="171.80" x2="448.44" y2="225.30" stroke="#2020ff" stroke-width="0.90" stroke-dasharray="1 1" stroke-opacity="0.65"/>
<line x1="356.09" y1="170.80" x2="356.09" y2="225.30" stroke="#ffa020" stroke-width="0.90" stroke-dasharray="1 1" stroke-opacity="0.65"/>
<line x1="365.07" y1="170.80" x2="365.07" y2="225.30" stroke="#ffa020" stroke-width="0.90" stroke-dasharray="1 1" stroke-opacity="0.65"/>
<line x1="379.54" y1="156.80" x2="379.54" y2="225.30" stroke="#ffa020" stroke-width="0.90" stroke-dasharray="1 1" stroke-opacity="0.65"/>
<line x1="473.05" y1="155.30" x2="473.05" y2="225.30" stroke="#ffa020" stroke-width="0.90" stroke-dasharray="1 1" stroke-opacity="0.65"/>
<path d="M311.80 77.96 L312.06 77.90 L312.32 77.81 L312.58 77.68 L312.84 77.93 L313.10 77.72 L313.36 78.10 L313.62 77.97 L313.88 77.94 L314.14 77.96 L314.41 77.88 L314.67 78.20 L314.93 78.20 L315.19 78.50 L315.45 78.00 L315.71 78.37 L315.97 78.03 L316.23 78.11 L316.49 77.68 L316.75 78.08 L317.01 77.68 L317.27 77.97 L317.53 78.14 L317.79 78.19 L318.05 78.33 L318.31 78.39 L318.57 78.36 L318.83 78.00 L319.10 78.15 L319.36 78.04 L319.62 78.18 L319.88 78.56 L320.14 78.40 L320.40 77.81 L320.66 78.29 L320.92 78.50 L321.18 78.35 L321.44 78.71 L321.70 78.05 L321.96 78.01 L322.22 78.36 L322.48 77.57 L322.74 77.26 L323.00 78.18 L323.26 78.15 L323.52 78.81 L323.79 78.82 L324.05 78.76 L324.31 78.76 L324.57 78.30 L324.83 78.06 L325.09 78.68 L325.35 78.67 L325.61 78.13 L325.87 78.18 L326.13 78.64 L326.39 78.85 L326.65 78.60 L326.91 78.39 L327.17 78.84 L327.43 78.90 L327.69 78.68 L327.95 78.77 L328.21 78.79 L328.48 79.07 L328.74 78.68 L329.00 78.47 L329.26 78.37 L329.52 78.60 L329.78 78.66 L330.04 77.93 L330.30 78.23 L330.56 78.52 L330.82 78.46 L331.08 78.81 L331.34 78.70 L331.60 79.01 L331.86 78.91 L332.12 78.70 L332.38 78.77 L332.64 78.96 L332.90 78.73 L333.17 78.71 L333.43 78.82 L333.69 79.45 L333.95 79.07 L334.21 79.26 L334.47 78.90 L334.73 79.01 L334.99 78.96 L335.25 78.93 L335.51 78.93 L335.77 78.98 L336.03 78.65 L336.29 79.02 L336.55 78.98 L336.81 78.62 L337.07 78.91 L337.33 78.78 L337.59 78.86 L337.86 78.95 L338.12 78.83 L338.38 78.51 L338.64 78.96 L338.90 79.00 L339.16 79.00 L339.42 79.37 L339.68 79.06 L339.94 79.13 L340.20 79.38 L340.46 79.49 L340.72 79.42 L340.98 79.24 L341.24 79.10 L341.50 79.09 L341.76 79.39 L342.02 79.25 L342.28 78.94 L342.54 79.03 L342.81 78.76 L343.07 78.57 L343.33 78.99 L343.59 79.04 L343.85 79.44 L344.11 79.07 L344.37 79.18 L344.63 78.89 L344.89 78.76 L345.15 79.57 L345.41 79.36 L345.67 79.18 L345.93 78.81 L346.19 79.10 L346.45 78.65 L346.71 79.02 L346.97 79.07 L347.23 78.79 L347.50 79.00 L347.76 78.97 L348.02 78.89 L348.28 79.17 L348.54 79.28 L348.80 79.17 L349.06 79.08 L349.32 79.39 L349.58 79.04 L349.84 78.96 L350.10 79.09 L350.36 78.77 L350.62 79.03 L350.88 79.24 L351.14 79.13 L351.40 79.57 L351.66 78.82 L351.92 78.79 L352.19 78.58 L352.45 78.80 L352.71 78.75 L352.97 78.69 L353.23 78.32 L353.49 78.71 L353.75 78.81 L354.01 78.16 L354.27 78.47 L354.53 78.00 L354.79 77.68 L355.05 77.48 L355.31 76.56 L355.57 75.91 L355.83 74.37 L356.09 72.34 L356.35 69.20 L356.61 63.22 L356.88 52.97 L357.14 40.46 L357.40 41.00 L357.66 52.82 L357.92 62.34 L358.18 68.10 L358.44 71.02 L358.70 73.22 L358.96 74.33 L359.22 75.19 L359.48 75.29 L359.74 75.16 L360.00 75.92 L360.26 76.70 L360.52 77.09 L360.78 77.42 L361.04 77.53 L361.30 78.20 L361.57 79.19 L361.83 79.51 L362.09 79.39 L362.35 79.38 L362.61 80.00 L362.87 80.28 L363.13 79.98 L363.39 80.64 L363.65 80.58 L363.91 80.59 L364.17 80.81 L364.43 80.70 L364.69 80.43 L364.95 80.02 L365.21 80.06 L365.47 80.87 L365.73 80.51 L365.99 80.60 L366.25 80.64 L366.52 80.57 L366.78 80.78 L367.04 80.09 L367.30 80.76 L367.56 80.43 L367.82 80.58 L368.08 80.60 L368.34 80.66 L368.60 81.11 L368.86 80.72 L369.12 80.71 L369.38 81.10 L369.64 80.74 L369.90 80.42 L370.16 80.89 L370.42 80.99 L370.68 80.84 L370.94 80.77 L371.21 81.23 L371.47 81.50 L371.73 81.01 L371.99 80.90 L372.25 81.21 L372.51 80.93 L372.77 81.04 L373.03 81.02 L373.29 81.28 L373.55 81.53 L373.81 80.92 L374.07 80.61 L374.33 80.66 L374.59 80.54 L374.85 80.74 L375.11 81.15 L375.37 80.65 L375.63 81.03 L375.90 80.72 L376.16 81.23 L376.42 81.10 L376.68 81.30 L376.94 80.96 L377.20 80.93 L377.46 81.25 L377.72 81.23 L377.98 81.16 L378.24 81.23 L378.50 81.29 L378.76 80.78 L379.02 80.61 L379.28 80.44 L379.54 80.64 L379.80 80.83 L380.06 80.66 L380.32 80.72 L380.59 80.60 L380.85 80.63 L381.11 79.81 L381.37 79.61 L381.63 79.33 L381.89 78.98 L382.15 78.23 L382.41 77.77 L382.67 77.32 L382.93 77.08 L383.19 76.87 L383.45 77.76 L383.71 78.42 L383.97 79.30 L384.23 79.82 L384.49 80.70 L384.75 80.46 L385.01 80.24 L385.28 80.99 L385.54 81.10 L385.80 80.93 L386.06 81.38 L386.32 81.33 L386.58 80.99 L386.84 81.19 L387.10 81.50 L387.36 81.78 L387.62 81.63 L387.88 81.59 L388.14 81.72 L388.40 81.57 L388.66 81.60 L388.92 82.22 L389.18 82.05 L389.44 82.22 L389.70 81.91 L389.97 82.54 L390.23 82.23 L390.49 81.84 L390.75 82.24 L391.01 82.38 L391.27 82.18 L391.53 82.11 L391.79 81.82 L392.05 81.47 L392.31 82.29 L392.57 82.36 L392.83 82.27 L393.09 82.35 L393.35 82.16 L393.61 82.11 L393.87 81.95 L394.13 81.72 L394.39 81.76 L394.65 82.19 L394.92 81.69 L395.18 81.89 L395.44 81.64 L395.70 82.30 L395.96 81.92 L396.22 82.04 L396.48 82.15 L396.74 81.99 L397.00 81.80 L397.26 82.16 L397.52 82.08 L397.78 81.99 L398.04 82.46 L398.30 82.05 L398.56 82.29 L398.82 81.96 L399.08 82.17 L399.34 82.61 L399.61 81.78 L399.87 82.01 L400.13 82.33 L400.39 82.50 L400.65 82.37 L400.91 82.51 L401.17 82.28 L401.43 82.28 L401.69 82.36 L401.95 81.96 L402.21 82.54 L402.47 82.15 L402.73 81.72 L402.99 82.19 L403.25 82.04 L403.51 81.97 L403.77 81.53 L404.03 82.20 L404.30 81.79 L404.56 82.13 L404.82 82.38 L405.08 82.09 L405.34 82.14 L405.60 82.02 L405.86 81.67 L406.12 81.96 L406.38 82.12 L406.64 81.62 L406.90 81.97 L407.16 82.43 L407.42 82.47 L407.68 82.16 L407.94 82.24 L408.20 82.42 L408.46 82.08 L408.72 82.19 L408.99 82.08 L409.25 82.21 L409.51 82.39 L409.77 82.19 L410.03 82.09 L410.29 82.09 L410.55 82.00 L410.81 82.18 L411.07 82.16 L411.33 81.63 L411.59 81.84 L411.85 82.16 L412.11 82.12 L412.37 81.84 L412.63 82.24 L412.89 81.98 L413.15 81.79 L413.41 82.02 L413.68 82.17 L413.94 82.33 L414.20 82.68 L414.46 82.39 L414.72 81.66 L414.98 82.14 L415.24 82.16 L415.50 81.81 L415.76 81.49 L416.02 81.50 L416.28 81.95 L416.54 81.62 L416.80 81.60 L417.06 82.21 L417.32 81.97 L417.58 82.12 L417.84 81.73 L418.10 81.54 L418.36 81.40 L418.63 81.79 L418.89 81.88 L419.15 81.66 L419.41 81.49 L419.67 81.84 L419.93 81.84 L420.19 81.48 L420.45 81.68 L420.71 81.51 L420.97 81.76 L421.23 81.41 L421.49 81.53 L421.75 81.15 L422.01 81.38 L422.27 81.36 L422.53 80.90 L422.79 80.76 L423.05 81.05 L423.32 80.87 L423.58 81.02 L423.84 80.65 L424.10 80.80 L424.36 79.92 L424.62 80.17 L424.88 80.44 L425.14 80.16 L425.40 79.82 L425.66 78.85 L425.92 78.88 L426.18 78.13 L426.44 77.11 L426.70 76.48 L426.96 74.41" fill="none" stroke="#ff3c3c" stroke-width="0.98" stroke-linejoin="round" stroke-opacity="1.00"/><path d="M426.96 74.41 L427.22 71.93 L427.48 67.34 L427.74 60.11 L428.01 50.04 L428.27 35.98 L428.53 17.44 L428.79 8.20 L429.05 8.20 L429.31 8.20 L429.57 8.20 L429.83 8.20 L430.09 8.20 L430.35 8.20 L430.61 8.20 L430.87 8.20 L431.13 12.74 L431.39 32.28 L431.65 47.44 L431.91 58.82 L432.17 66.08 L432.43 70.52 L432.70 73.59" fill="none" stroke="#ff3c3c" stroke-width="0.90" stroke-linejoin="round" stroke-opacity="0.60"/><path d="M432.70 73.59 L432.96 75.87 L433.22 77.22 L433.48 78.28 L433.74 78.51 L434.00 79.55 L434.26 79.69 L434.52 80.02 L434.78 80.01 L435.04 80.42 L435.30 80.25 L435.56 79.62 L435.82 80.54 L436.08 80.83 L436.34 81.07 L436.60 81.20 L436.86 80.74 L437.12 80.84 L437.39 81.50 L437.65 81.05 L437.91 80.82 L438.17 81.41 L438.43 82.15 L438.69 81.59 L438.95 81.47 L439.21 81.63 L439.47 81.61 L439.73 81.52 L439.99 81.81 L440.25 81.92 L440.51 81.35 L440.77 81.73 L441.03 82.07 L441.29 82.10 L441.55 81.95 L441.81 81.50 L442.08 81.62 L442.34 82.04 L442.60 82.09 L442.86 82.12 L443.12 81.78 L443.38 81.97 L443.64 82.39 L443.90 81.91 L444.16 81.79 L444.42 82.10 L444.68 81.78 L444.94 82.34 L445.20 82.08 L445.46 81.94 L445.72 81.92 L445.98 82.24 L446.24 81.71 L446.50 82.10 L446.76 81.88 L447.03 82.06 L447.29 82.01 L447.55 82.32 L447.81 81.92 L448.07 81.87 L448.33 81.98 L448.59 81.97 L448.85 82.13 L449.11 81.64 L449.37 81.94 L449.63 82.16 L449.89 82.48 L450.15 82.05 L450.41 82.10 L450.67 82.57 L450.93 82.24 L451.19 82.28 L451.45 82.12 L451.72 81.85 L451.98 82.14 L452.24 82.20 L452.50 82.04 L452.76 82.30 L453.02 81.61 L453.28 82.18 L453.54 82.38 L453.80 82.31 L454.06 82.31 L454.32 82.28 L454.58 81.78 L454.84 81.75 L455.10 81.70 L455.36 81.99 L455.62 82.03 L455.88 82.05 L456.14 82.00 L456.41 82.34 L456.67 82.15 L456.93 82.05 L457.19 81.98 L457.45 82.53 L457.71 82.27 L457.97 81.91 L458.23 81.78 L458.49 82.27 L458.75 82.13 L459.01 81.68 L459.27 81.92 L459.53 82.35 L459.79 82.02 L460.05 81.70 L460.31 81.87 L460.57 81.44 L460.83 82.14 L461.10 82.17 L461.36 81.57 L461.62 81.48 L461.88 81.13 L462.14 80.82 L462.40 80.22 L462.66 79.70 L462.92 78.73 L463.18 77.16 L463.44 75.32 L463.70 71.98 L463.96 69.87 L464.22 70.34 L464.48 72.52 L464.74 75.14 L465.00 77.69 L465.26 79.60 L465.52 80.09 L465.79 80.97 L466.05 81.49 L466.31 82.23 L466.57 82.75 L466.83 82.65 L467.09 83.16 L467.35 82.53 L467.61 83.46 L467.87 83.20 L468.13 83.24 L468.39 83.50 L468.65 83.59 L468.91 83.81 L469.17 83.60 L469.43 83.94 L469.69 83.92 L469.95 84.17 L470.21 83.86 L470.47 83.96 L470.74 83.86 L471.00 83.86 L471.26 84.06 L471.52 83.68 L471.78 84.32 L472.04 83.74 L472.30 83.75 L472.56 84.23 L472.82 83.95 L473.08 83.58 L473.34 84.28 L473.60 84.39 L473.86 84.44 L474.12 84.26 L474.38 83.82 L474.64 84.05 L474.90 84.39 L475.16 84.21 L475.43 84.09 L475.69 84.77 L475.95 84.53 L476.21 83.88 L476.47 83.48 L476.73 83.98 L476.99 83.79 L477.25 83.56 L477.51 84.15 L477.77 83.77 L478.03 83.78 L478.29 83.76 L478.55 83.98 L478.81 84.37 L479.07 84.25 L479.33 83.70 L479.59 84.22 L479.85 83.83 L480.12 83.97 L480.38 83.94 L480.64 84.11 L480.90 84.20 L481.16 84.11 L481.42 84.15 L481.68 84.12 L481.94 84.22 L482.20 84.28 L482.46 84.20 L482.72 83.82 L482.98 83.64 L483.24 84.13 L483.50 84.33 L483.76 83.90 L484.02 84.27 L484.28 84.26 L484.54 84.64 L484.81 84.03 L485.07 84.14 L485.33 83.86 L485.59 83.97 L485.85 84.21 L486.11 83.91 L486.37 84.13 L486.63 84.37 L486.89 84.62 L487.15 84.87 L487.41 84.74 L487.67 84.40 L487.93 84.18 L488.19 84.38 L488.45 84.12 L488.71 83.95 L488.97 83.81 L489.23 83.84 L489.50 84.31 L489.76 83.93 L490.02 84.29 L490.28 84.25 L490.54 84.46 L490.80 84.46 L491.06 83.80 L491.32 83.69 L491.58 83.81 L491.84 83.88 L492.10 84.20 L492.36 84.30 L492.62 84.03 L492.88 84.32 L493.14 84.16 L493.40 84.33 L493.66 84.43 L493.92 84.33 L494.19 83.72 L494.45 83.65 L494.71 84.13 L494.97 84.01 L495.23 84.04 L495.49 84.26 L495.75 84.53 L496.01 84.21 L496.27 84.17 L496.53 84.22 L496.79 84.43 L497.05 83.96 L497.31 84.17 L497.57 84.23 L497.83 84.09 L498.09 84.11 L498.35 84.14 L498.61 83.85 L498.87 83.88 L499.14 83.95 L499.40 84.03 L499.66 84.09 L499.92 83.92 L500.18 83.92 L500.44 84.15 L500.70 83.84 L500.96 84.40 L501.22 84.20 L501.48 84.29 L501.74 83.76 L502.00 84.12 L502.26 84.11 L502.52 83.68 L502.78 84.39 L503.04 84.23 L503.30 84.31 L503.56 83.80 L503.83 84.05 L504.09 84.21 L504.35 84.25 L504.61 84.28 L504.87 84.59 L505.13 84.40 L505.39 84.40 L505.65 84.23 L505.91 84.33 L506.17 84.26 L506.43 83.77 L506.69 84.27 L506.95 83.75 L507.21 84.31 L507.47 84.09 L507.73 84.60 L507.99 84.33 L508.25 84.53 L508.52 84.37 L508.78 84.14 L509.04 84.49 L509.30 83.99 L509.56 83.92 L509.82 84.49 L510.08 84.19 L510.34 84.32 L510.60 83.55 L510.86 84.06 L511.12 83.42 L511.38 83.53 L511.64 83.27 L511.90 83.16 L512.16 83.41 L512.42 83.18 L512.68 82.89 L512.94 82.48 L513.21 81.99 L513.47 81.03 L513.73 80.37 L513.99 79.31 L514.25 78.51 L514.51 77.85 L514.77 79.02 L515.03 79.41 L515.29 80.70 L515.55 81.67 L515.81 82.41 L516.07 82.30 L516.33 82.83 L516.59 83.33 L516.85 83.37 L517.11 83.83 L517.37 83.75 L517.63 83.55 L517.90 83.68 L518.16 83.49 L518.42 83.65 L518.68 84.15 L518.94 84.16 L519.20 84.01 L519.46 84.01 L519.72 83.77 L519.98 84.03 L520.24 83.83 L520.50 84.23 L520.76 83.61 L521.02 84.28 L521.28 84.38 L521.54 84.25 L521.80 84.27 L522.06 84.61 L522.32 84.25 L522.58 84.07 L522.85 84.27 L523.11 84.26 L523.37 84.32 L523.63 84.14 L523.89 84.63 L524.15 84.69 L524.41 84.38 L524.67 84.55 L524.93 84.23 L525.19 84.94 L525.45 84.82 L525.71 84.35 L525.97 84.45 L526.23 83.88 L526.49 84.43 L526.75 84.10 L527.01 84.18 L527.27 84.22 L527.54 83.99 L527.80 84.40 L528.06 84.36 L528.32 84.61 L528.58 84.30 L528.84 84.06 L529.10 84.10 L529.36 84.08 L529.62 84.28 L529.88 83.87 L530.14 84.43 L530.40 84.43 L530.66 84.22 L530.92 83.83 L531.18 84.36 L531.44 84.67 L531.70 84.20 L531.96 84.70 L532.23 85.07 L532.49 84.25 L532.75 84.29 L533.01 84.20 L533.27 84.21 L533.53 84.79 L533.79 84.82 L534.05 84.48 L534.31 84.84 L534.57 84.46 L534.83 84.02 L535.09 84.62 L535.35 84.27 L535.61 84.27 L535.87 84.21 L536.13 84.34 L536.39 83.98 L536.65 84.27 L536.92 84.17 L537.18 84.33 L537.44 84.01 L537.70 83.87 L537.96 84.49 L538.22 84.56 L538.48 84.23 L538.74 84.20 L539.00 84.28 L539.26 84.16 L539.52 83.97 L539.78 84.16 L540.04 84.45 L540.30 84.57 L540.56 85.05 L540.82 84.18 L541.08 84.66 L541.34 84.42 L541.61 84.82 L541.87 84.84 L542.13 85.00 L542.39 84.72 L542.65 84.55 L542.91 84.57 L543.17 84.75" fill="none" stroke="#ff3c3c" stroke-width="0.98" stroke-linejoin="round" stroke-opacity="1.00"/>
<path d="M311.80 100.30 L312.06 100.26 L312.32 100.38 L312.58 100.22 L312.84 100.18 L313.10 99.78 L313.36 99.64 L313.62 100.12 L313.88 99.70 L314.14 100.23 L314.41 100.14 L314.67 100.14 L314.93 99.97 L315.19 100.08 L315.45 100.07 L315.71 100.21 L315.97 100.25 L316.23 100.17 L316.49 100.26 L316.75 100.54 L317.01 100.43 L317.27 100.59 L317.53 100.49 L317.79 100.08 L318.05 100.69 L318.31 100.61 L318.57 100.87 L318.83 100.80 L319.10 100.34 L319.36 100.67 L319.62 100.63 L319.88 100.15 L320.14 100.37 L320.40 100.34 L320.66 100.83 L320.92 100.89 L321.18 100.19 L321.44 100.41 L321.70 100.73 L321.96 100.60 L322.22 100.34 L322.48 100.83 L322.74 100.19 L323.00 100.93 L323.26 101.09 L323.52 100.91 L323.79 101.19 L324.05 100.41 L324.31 100.52 L324.57 100.75 L324.83 100.65 L325.09 100.70 L325.35 100.77 L325.61 100.65 L325.87 100.98 L326.13 101.29 L326.39 101.11 L326.65 100.72 L326.91 100.64 L327.17 100.72 L327.43 100.91 L327.69 101.00 L327.95 100.68 L328.21 101.34 L328.48 100.72 L328.74 100.96 L329.00 101.15 L329.26 101.12 L329.52 101.11 L329.78 100.85 L330.04 101.27 L330.30 101.23 L330.56 100.93 L330.82 101.16 L331.08 101.39 L331.34 101.13 L331.60 101.30 L331.86 101.04 L332.12 101.90 L332.38 101.25 L332.64 101.57 L332.90 101.83 L333.17 101.69 L333.43 101.63 L333.69 101.68 L333.95 101.32 L334.21 101.42 L334.47 101.45 L334.73 101.97 L334.99 101.58 L335.25 101.74 L335.51 101.50 L335.77 101.35 L336.03 101.81 L336.29 101.91 L336.55 101.72 L336.81 101.65 L337.07 101.67 L337.33 101.54 L337.59 101.31 L337.86 101.82 L338.12 101.56 L338.38 101.20 L338.64 101.18 L338.90 101.44 L339.16 102.12 L339.42 102.23 L339.68 101.85 L339.94 101.25 L340.20 101.34 L340.46 101.20 L340.72 101.33 L340.98 101.56 L341.24 101.72 L341.50 101.42 L341.76 101.29 L342.02 101.54 L342.28 101.12 L342.54 101.49 L342.81 101.51 L343.07 101.68 L343.33 101.28 L343.59 101.64 L343.85 101.77 L344.11 101.18 L344.37 101.27 L344.63 100.83 L344.89 101.37 L345.15 101.99 L345.41 101.68 L345.67 101.47 L345.93 101.23 L346.19 101.52 L346.45 101.57 L346.71 101.39 L346.97 101.08 L347.23 101.24 L347.50 101.37 L347.76 101.67 L348.02 101.70 L348.28 101.69 L348.54 101.65 L348.80 101.68 L349.06 101.53 L349.32 101.01 L349.58 101.14 L349.84 101.54 L350.10 101.45 L350.36 101.31 L350.62 101.50 L350.88 101.38 L351.14 101.35 L351.40 101.39 L351.66 101.50 L351.92 101.46 L352.19 101.11 L352.45 101.00 L352.71 100.71 L352.97 100.92 L353.23 100.79 L353.49 100.85 L353.75 101.24 L354.01 100.85 L354.27 100.95 L354.53 100.62 L354.79 100.47 L355.05 99.91 L355.31 99.44 L355.57 99.15 L355.83 98.14 L356.09 96.76 L356.35 94.06 L356.61 88.84 L356.88 82.06 L357.14 75.32 L357.40 76.14 L357.66 83.57 L357.92 90.06 L358.18 94.05 L358.44 96.93 L358.70 98.70 L358.96 99.74 L359.22 100.73 L359.48 100.51 L359.74 101.03 L360.00 101.29 L360.26 101.33 L360.52 101.28 L360.78 101.66 L361.04 102.11 L361.30 102.03 L361.57 101.96 L361.83 102.41 L362.09 102.28 L362.35 102.68 L362.61 102.27 L362.87 102.18 L363.13 102.77 L363.39 103.05 L363.65 102.59 L363.91 102.70 L364.17 102.90 L364.43 102.48 L364.69 102.48 L364.95 102.60 L365.21 102.67 L365.47 102.59 L365.73 102.47 L365.99 102.48 L366.25 103.05 L366.52 102.67 L366.78 102.29 L367.04 103.40 L367.30 103.18 L367.56 103.03 L367.82 102.87 L368.08 103.10 L368.34 103.27 L368.60 102.85 L368.86 102.76 L369.12 102.52 L369.38 103.16 L369.64 102.76 L369.90 102.93 L370.16 102.90 L370.42 102.57 L370.68 103.01 L370.94 103.18 L371.21 102.66 L371.47 103.08 L371.73 103.38 L371.99 103.02 L372.25 103.34 L372.51 103.52 L372.77 103.53 L373.03 102.94 L373.29 103.15 L373.55 103.26 L373.81 103.03 L374.07 103.20 L374.33 103.03 L374.59 103.55 L374.85 103.36 L375.11 102.94 L375.37 103.50 L375.63 103.12 L375.90 103.35 L376.16 103.50 L376.42 103.10 L376.68 103.93 L376.94 103.28 L377.20 103.36 L377.46 103.68 L377.72 102.87 L377.98 103.00 L378.24 103.34 L378.50 103.25 L378.76 103.31 L379.02 103.22 L379.28 103.17 L379.54 103.67 L379.80 103.30 L380.06 102.93 L380.32 103.27 L380.59 103.17 L380.85 102.90 L381.11 102.64 L381.37 102.22 L381.63 101.88 L381.89 102.08 L382.15 101.94 L382.41 101.63 L382.67 101.36 L382.93 101.92 L383.19 101.23 L383.45 101.63 L383.71 102.11 L383.97 102.38 L384.23 102.56 L384.49 103.05 L384.75 103.12 L385.01 103.13 L385.28 103.77 L385.54 103.48 L385.80 103.39 L386.06 103.19 L386.32 103.28 L386.58 103.57 L386.84 103.18 L387.10 103.41 L387.36 103.42 L387.62 103.14 L387.88 103.76 L388.14 103.71 L388.40 103.89 L388.66 103.74 L388.92 103.88 L389.18 103.79 L389.44 103.92 L389.70 104.06 L389.97 103.41 L390.23 103.84 L390.49 103.90 L390.75 103.85 L391.01 103.45 L391.27 103.64 L391.53 103.98 L391.79 104.04 L392.05 103.36 L392.31 103.46 L392.57 104.11 L392.83 103.80 L393.09 103.73 L393.35 104.14 L393.61 103.83 L393.87 103.82 L394.13 103.65 L394.39 103.64 L394.65 103.81 L394.92 104.19 L395.18 104.03 L395.44 104.50 L395.70 104.18 L395.96 103.86 L396.22 104.03 L396.48 103.90 L396.74 103.51 L397.00 103.37 L397.26 103.52 L397.52 104.19 L397.78 103.81 L398.04 103.90 L398.30 104.03 L398.56 103.68 L398.82 103.94 L399.08 103.39 L399.34 103.10 L399.61 104.11 L399.87 103.99 L400.13 103.57 L400.39 103.43 L400.65 103.66 L400.91 103.99 L401.17 104.10 L401.43 104.24 L401.69 103.57 L401.95 103.66 L402.21 103.42 L402.47 104.31 L402.73 103.79 L402.99 104.16 L403.25 103.91 L403.51 104.21 L403.77 104.13 L404.03 104.26 L404.30 103.77 L404.56 104.05 L404.82 104.16 L405.08 103.97 L405.34 104.03 L405.60 103.92 L405.86 103.67 L406.12 104.29 L406.38 103.91 L406.64 103.81 L406.90 103.99 L407.16 103.26 L407.42 103.34 L407.68 103.79 L407.94 103.75 L408.20 104.00 L408.46 104.08 L408.72 103.90 L408.99 103.93 L409.25 104.20 L409.51 103.86 L409.77 103.55 L410.03 103.73 L410.29 103.58 L410.55 104.01 L410.81 104.54 L411.07 104.30 L411.33 104.67 L411.59 104.10 L411.85 103.86 L412.11 103.92 L412.37 104.16 L412.63 104.18 L412.89 103.70 L413.15 103.99 L413.41 104.10 L413.68 103.34 L413.94 103.51 L414.20 103.36 L414.46 103.43 L414.72 103.52 L414.98 103.58 L415.24 103.90 L415.50 104.26 L415.76 103.84 L416.02 103.75 L416.28 103.69 L416.54 103.80 L416.80 103.54 L417.06 103.49 L417.32 103.85 L417.58 103.74 L417.84 103.51 L418.10 103.51 L418.36 103.56 L418.63 103.59 L418.89 103.40 L419.15 103.56 L419.41 103.34 L419.67 103.42 L419.93 103.45 L420.19 103.43 L420.45 103.48 L420.71 103.47 L420.97 103.61 L421.23 103.65 L421.49 103.38 L421.75 103.38 L422.01 103.33 L422.27 103.37 L422.53 103.15 L422.79 102.72 L423.05 102.90 L423.32 102.59 L423.58 102.47 L423.84 102.54 L424.10 102.20 L424.36 102.50 L424.62 102.04 L424.88 101.85 L425.14 101.22 L425.40 101.40 L425.66 100.81 L425.92 100.34 L426.18 99.85 L426.44 98.99 L426.70 97.63 L426.96 96.61" fill="none" stroke="#ff6060" stroke-width="0.98" stroke-linejoin="round" stroke-opacity="1.00"/><path d="M426.96 96.61 L427.22 94.17 L427.48 91.17 L427.74 85.35 L428.01 76.99 L428.27 66.07 L428.53 51.91 L428.79 35.18 L429.05 16.15 L429.31 8.20 L429.57 8.20 L429.83 8.20 L430.09 8.20 L430.35 8.20 L430.61 12.92 L430.87 30.96 L431.13 48.51 L431.39 63.10 L431.65 75.44 L431.91 84.24 L432.17 89.69 L432.43 93.80 L432.70 96.18" fill="none" stroke="#ff6060" stroke-width="0.90" stroke-linejoin="round" stroke-opacity="0.60"/><path d="M432.70 96.18 L432.96 98.01 L433.22 98.78 L433.48 99.37 L433.74 99.94 L434.00 100.28 L434.26 100.86 L434.52 101.11 L434.78 101.58 L435.04 101.81 L435.30 101.91 L435.56 102.50 L435.82 102.89 L436.08 102.45 L436.34 102.70 L436.60 102.78 L436.86 102.60 L437.12 103.24 L437.39 102.79 L437.65 102.91 L437.91 103.56 L438.17 103.34 L438.43 103.35 L438.69 103.44 L438.95 102.93 L439.21 103.18 L439.47 103.12 L439.73 103.84 L439.99 103.66 L440.25 103.68 L440.51 103.63 L440.77 103.74 L441.03 103.55 L441.29 103.26 L441.55 103.09 L441.81 103.72 L442.08 103.72 L442.34 103.69 L442.60 103.61 L442.86 103.82 L443.12 103.81 L443.38 104.01 L443.64 103.78 L443.90 104.21 L444.16 104.16 L444.42 103.94 L444.68 103.58 L444.94 103.68 L445.20 103.54 L445.46 103.84 L445.72 103.67 L445.98 104.09 L446.24 104.04 L446.50 103.85 L446.76 104.11 L447.03 104.01 L447.29 103.90 L447.55 103.84 L447.81 103.66 L448.07 103.82 L448.33 104.16 L448.59 104.37 L448.85 104.26 L449.11 103.50 L449.37 103.49 L449.63 103.73 L449.89 103.15 L450.15 103.64 L450.41 103.77 L450.67 104.14 L450.93 103.72 L451.19 103.84 L451.45 104.17 L451.72 104.13 L451.98 103.96 L452.24 103.54 L452.50 103.72 L452.76 104.01 L453.02 103.59 L453.28 104.19 L453.54 103.93 L453.80 103.81 L454.06 103.81 L454.32 104.25 L454.58 104.03 L454.84 104.05 L455.10 104.11 L455.36 103.98 L455.62 103.96 L455.88 103.77 L456.14 103.80 L456.41 104.14 L456.67 104.18 L456.93 104.08 L457.19 103.94 L457.45 104.09 L457.71 104.06 L457.97 104.02 L458.23 103.83 L458.49 104.30 L458.75 104.50 L459.01 104.24 L459.27 104.03 L459.53 103.77 L459.79 103.65 L460.05 103.73 L460.31 103.78 L460.57 103.73 L460.83 103.53 L461.10 103.57 L461.36 103.52 L461.62 103.18 L461.88 103.23 L462.14 102.97 L462.40 102.58 L462.66 102.07 L462.92 101.16 L463.18 100.04 L463.44 98.81 L463.70 98.02 L463.96 96.27 L464.22 96.29 L464.48 97.96 L464.74 99.38 L465.00 100.69 L465.26 101.82 L465.52 102.94 L465.79 103.18 L466.05 103.23 L466.31 103.12 L466.57 103.28 L466.83 103.67 L467.09 103.94 L467.35 104.07 L467.61 103.83 L467.87 104.06 L468.13 104.13 L468.39 103.67 L468.65 104.36 L468.91 104.11 L469.17 103.99 L469.43 103.99 L469.69 104.21 L469.95 103.91 L470.21 103.81 L470.47 103.69 L470.74 103.85 L471.00 104.40 L471.26 104.24 L471.52 104.52 L471.78 104.35 L472.04 104.14 L472.30 103.97 L472.56 103.83 L472.82 104.16 L473.08 104.79 L473.34 104.33 L473.60 103.87 L473.86 103.51 L474.12 103.75 L474.38 104.21 L474.64 103.80 L474.90 104.33 L475.16 104.35 L475.43 104.63 L475.69 105.09 L475.95 104.43 L476.21 103.91 L476.47 104.37 L476.73 104.86 L476.99 105.03 L477.25 104.94 L477.51 104.97 L477.77 104.74 L478.03 104.96 L478.29 104.74 L478.55 104.47 L478.81 104.37 L479.07 104.70 L479.33 104.60 L479.59 104.33 L479.85 104.21 L480.12 104.75 L480.38 104.28 L480.64 104.13 L480.90 104.64 L481.16 104.41 L481.42 104.25 L481.68 104.83 L481.94 104.58 L482.20 104.92 L482.46 104.91 L482.72 104.57 L482.98 105.19 L483.24 104.95 L483.50 104.72 L483.76 104.63 L484.02 104.59 L484.28 104.48 L484.54 104.80 L484.81 104.37 L485.07 104.92 L485.33 104.34 L485.59 104.40 L485.85 104.57 L486.11 104.58 L486.37 104.24 L486.63 104.39 L486.89 105.01 L487.15 104.78 L487.41 104.51 L487.67 104.40 L487.93 104.48 L488.19 104.18 L488.45 104.16 L488.71 104.37 L488.97 104.87 L489.23 104.82 L489.50 104.49 L489.76 104.39 L490.02 104.65 L490.28 104.20 L490.54 104.26 L490.80 104.25 L491.06 103.95 L491.32 104.73 L491.58 104.91 L491.84 105.33 L492.10 104.51 L492.36 104.47 L492.62 104.21 L492.88 104.13 L493.14 103.92 L493.40 104.12 L493.66 104.51 L493.92 104.32 L494.19 104.49 L494.45 104.79 L494.71 104.90 L494.97 104.72 L495.23 104.82 L495.49 104.95 L495.75 104.58 L496.01 104.25 L496.27 103.79 L496.53 104.43 L496.79 104.32 L497.05 104.13 L497.31 103.86 L497.57 104.47 L497.83 104.79 L498.09 104.71 L498.35 104.45 L498.61 104.07 L498.87 103.96 L499.14 104.10 L499.40 104.51 L499.66 104.82 L499.92 104.62 L500.18 104.40 L500.44 104.54 L500.70 104.46 L500.96 104.52 L501.22 104.89 L501.48 104.69 L501.74 104.37 L502.00 104.17 L502.26 104.35 L502.52 104.45 L502.78 104.95 L503.04 104.86 L503.30 104.54 L503.56 104.81 L503.83 104.59 L504.09 104.24 L504.35 104.50 L504.61 104.53 L504.87 104.24 L505.13 104.39 L505.39 104.21 L505.65 104.13 L505.91 104.84 L506.17 105.03 L506.43 104.65 L506.69 104.02 L506.95 104.66 L507.21 104.92 L507.47 104.79 L507.73 104.39 L507.99 104.51 L508.25 104.69 L508.52 105.14 L508.78 104.73 L509.04 104.48 L509.30 104.41 L509.56 104.53 L509.82 104.05 L510.08 104.39 L510.34 104.09 L510.60 104.15 L510.86 104.37 L511.12 104.83 L511.38 104.38 L511.64 104.79 L511.90 104.16 L512.16 104.55 L512.42 104.02 L512.68 103.67 L512.94 103.70 L513.21 103.40 L513.47 102.70 L513.73 102.27 L513.99 101.57 L514.25 101.27 L514.51 100.46 L514.77 100.86 L515.03 101.68 L515.29 102.39 L515.55 102.57 L515.81 103.47 L516.07 103.60 L516.33 104.06 L516.59 104.16 L516.85 104.01 L517.11 103.74 L517.37 104.18 L517.63 104.40 L517.90 104.72 L518.16 104.25 L518.42 104.35 L518.68 104.05 L518.94 104.04 L519.20 104.00 L519.46 104.07 L519.72 104.27 L519.98 104.06 L520.24 104.12 L520.50 104.61 L520.76 104.66 L521.02 104.78 L521.28 104.24 L521.54 104.58 L521.80 104.80 L522.06 104.40 L522.32 105.48 L522.58 104.81 L522.85 104.22 L523.11 104.60 L523.37 104.36 L523.63 104.53 L523.89 104.60 L524.15 104.21 L524.41 104.88 L524.67 104.84 L524.93 104.61 L525.19 104.34 L525.45 104.27 L525.71 104.48 L525.97 104.79 L526.23 104.71 L526.49 104.42 L526.75 104.55 L527.01 104.65 L527.27 104.74 L527.54 104.61 L527.80 104.58 L528.06 104.68 L528.32 105.08 L528.58 104.66 L528.84 105.03 L529.10 104.94 L529.36 104.49 L529.62 104.44 L529.88 104.87 L530.14 104.67 L530.40 104.71 L530.66 104.57 L530.92 105.03 L531.18 104.60 L531.44 104.62 L531.70 104.90 L531.96 105.17 L532.23 105.00 L532.49 104.90 L532.75 104.83 L533.01 104.41 L533.27 104.89 L533.53 104.48 L533.79 104.46 L534.05 104.01 L534.31 104.49 L534.57 104.61 L534.83 104.98 L535.09 105.01 L535.35 104.79 L535.61 104.45 L535.87 104.43 L536.13 104.46 L536.39 104.57 L536.65 104.58 L536.92 103.91 L537.18 104.30 L537.44 104.65 L537.70 104.57 L537.96 104.61 L538.22 104.82 L538.48 104.53 L538.74 104.62 L539.00 104.51 L539.26 104.31 L539.52 104.43 L539.78 104.49 L540.04 104.55 L540.30 104.76 L540.56 104.64 L540.82 104.70 L541.08 104.20 L541.34 104.16 L541.61 104.45 L541.87 104.64 L542.13 104.56 L542.39 104.98 L542.65 105.18 L542.91 105.00 L543.17 104.36" fill="none" stroke="#ff6060" stroke-width="0.98" stroke-linejoin="round" stroke-opacity="1.00"/>
<path d="M311.80 120.82 L312.06 120.44 L312.32 120.56 L312.58 120.84 L312.84 120.53 L313.10 120.14 L313.36 120.18 L313.62 120.88 L313.88 121.19 L314.14 121.05 L314.41 121.03 L314.67 121.23 L314.93 120.62 L315.19 120.50 L315.45 120.29 L315.71 120.67 L315.97 120.81 L316.23 121.04 L316.49 120.59 L316.75 120.96 L317.01 120.97 L317.27 120.92 L317.53 120.99 L317.79 121.21 L318.05 120.58 L318.31 121.00 L318.57 121.03 L318.83 121.13 L319.10 121.51 L319.36 120.90 L319.62 121.05 L319.88 121.02 L320.14 121.07 L320.40 121.27 L320.66 121.29 L320.92 121.12 L321.18 121.27 L321.44 121.33 L321.70 121.27 L321.96 121.04 L322.22 121.37 L322.48 121.23 L322.74 121.12 L323.00 121.06 L323.26 121.05 L323.52 121.69 L323.79 121.58 L324.05 121.36 L324.31 121.25 L324.57 121.35 L324.83 121.40 L325.09 121.57 L325.35 121.06 L325.61 121.20 L325.87 121.21 L326.13 121.43 L326.39 121.15 L326.65 121.22 L326.91 120.93 L327.17 121.83 L327.43 121.49 L327.69 121.41 L327.95 122.07 L328.21 121.44 L328.48 120.88 L328.74 121.74 L329.00 122.00 L329.26 121.98 L329.52 121.88 L329.78 122.06 L330.04 121.37 L330.30 120.88 L330.56 121.20 L330.82 121.78 L331.08 121.74 L331.34 121.55 L331.60 121.68 L331.86 121.90 L332.12 121.73 L332.38 121.69 L332.64 121.86 L332.90 121.70 L333.17 121.47 L333.43 121.34 L333.69 121.50 L333.95 121.56 L334.21 121.89 L334.47 121.93 L334.73 121.77 L334.99 121.74 L335.25 122.04 L335.51 121.93 L335.77 122.05 L336.03 121.71 L336.29 121.86 L336.55 121.74 L336.81 121.51 L337.07 121.21 L337.33 121.62 L337.59 121.95 L337.86 122.08 L338.12 121.88 L338.38 121.75 L338.64 121.40 L338.90 121.64 L339.16 121.49 L339.42 121.48 L339.68 121.37 L339.94 121.51 L340.20 121.58 L340.46 121.31 L340.72 121.68 L340.98 121.72 L341.24 122.03 L341.50 122.06 L341.76 121.84 L342.02 122.09 L342.28 121.67 L342.54 121.16 L342.81 121.51 L343.07 121.53 L343.33 121.35 L343.59 121.22 L343.85 121.92 L344.11 121.48 L344.37 121.51 L344.63 121.53 L344.89 121.75 L345.15 121.83 L345.41 122.06 L345.67 121.36 L345.93 121.48 L346.19 121.38 L346.45 121.67 L346.71 121.49 L346.97 121.55 L347.23 121.99 L347.50 121.68 L347.76 121.57 L348.02 121.92 L348.28 122.08 L348.54 121.24 L348.80 121.36 L349.06 121.04 L349.32 121.54 L349.58 121.36 L349.84 121.28 L350.10 121.65 L350.36 121.93 L350.62 121.79 L350.88 121.19 L351.14 121.29 L351.40 121.06 L351.66 121.97 L351.92 121.59 L352.19 121.14 L352.45 121.41 L352.71 122.00 L352.97 121.41 L353.23 121.01 L353.49 121.25 L353.75 121.38 L354.01 121.38 L354.27 121.65 L354.53 120.68 L354.79 120.74 L355.05 120.22 L355.31 119.47 L355.57 119.17 L355.83 118.57 L356.09 117.24 L356.35 114.85 L356.61 111.50 L356.88 106.03 L357.14 101.23 L357.40 101.49 L357.66 106.73 L357.92 111.60 L358.18 115.32 L358.44 117.58 L358.70 119.22 L358.96 119.99 L359.22 120.21 L359.48 121.09 L359.74 121.42 L360.00 121.67 L360.26 121.51 L360.52 121.71 L360.78 121.86 L361.04 121.86 L361.30 122.12 L361.57 121.87 L361.83 121.88 L362.09 122.49 L362.35 122.17 L362.61 122.92 L362.87 122.70 L363.13 122.46 L363.39 122.85 L363.65 122.49 L363.91 122.97 L364.17 122.55 L364.43 123.02 L364.69 122.73 L364.95 122.59 L365.21 123.14 L365.47 123.25 L365.73 122.87 L365.99 122.83 L366.25 122.56 L366.52 122.74 L366.78 123.04 L367.04 122.88 L367.30 122.84 L367.56 122.52 L367.82 123.00 L368.08 122.81 L368.34 123.15 L368.60 123.40 L368.86 123.08 L369.12 122.89 L369.38 122.97 L369.64 123.04 L369.90 122.81 L370.16 122.87 L370.42 122.40 L370.68 122.98 L370.94 122.91 L371.21 123.40 L371.47 123.04 L371.73 123.14 L371.99 123.21 L372.25 123.17 L372.51 123.50 L372.77 123.24 L373.03 123.19 L373.29 123.27 L373.55 123.18 L373.81 123.34 L374.07 122.98 L374.33 123.28 L374.59 122.77 L374.85 123.00 L375.11 122.91 L375.37 122.95 L375.63 123.12 L375.90 123.19 L376.16 123.28 L376.42 122.88 L376.68 123.55 L376.94 123.32 L377.20 123.18 L377.46 123.07 L377.72 123.43 L377.98 122.99 L378.24 123.12 L378.50 123.30 L378.76 123.11 L379.02 122.95 L379.28 122.85 L379.54 123.24 L379.80 123.21 L380.06 123.44 L380.32 123.46 L380.59 123.53 L380.85 122.75 L381.11 123.04 L381.37 122.60 L381.63 122.35 L381.89 122.15 L382.15 122.06 L382.41 122.18 L382.67 121.88 L382.93 121.72 L383.19 121.16 L383.45 122.15 L383.71 122.29 L383.97 122.75 L384.23 122.84 L384.49 122.93 L384.75 122.66 L385.01 122.96 L385.28 122.37 L385.54 122.88 L385.80 122.82 L386.06 123.25 L386.32 123.44 L386.58 123.32 L386.84 123.42 L387.10 123.31 L387.36 123.75 L387.62 123.27 L387.88 123.54 L388.14 123.02 L388.40 123.49 L388.66 123.56 L388.92 123.48 L389.18 123.59 L389.44 123.72 L389.70 123.55 L389.97 123.63 L390.23 124.03 L390.49 124.15 L390.75 124.11 L391.01 123.59 L391.27 123.89 L391.53 123.78 L391.79 123.61 L392.05 123.65 L392.31 123.92 L392.57 123.70 L392.83 123.49 L393.09 123.48 L393.35 123.72 L393.61 123.49 L393.87 123.51 L394.13 123.65 L394.39 123.69 L394.65 123.14 L394.92 123.35 L395.18 123.65 L395.44 123.92 L395.70 123.84 L395.96 123.65 L396.22 123.48 L396.48 123.68 L396.74 123.88 L397.00 124.03 L397.26 123.99 L397.52 123.52 L397.78 123.73 L398.04 124.15 L398.30 124.08 L398.56 123.91 L398.82 123.85 L399.08 123.71 L399.34 123.81 L399.61 123.98 L399.87 123.57 L400.13 123.60 L400.39 123.72 L400.65 123.50 L400.91 123.64 L401.17 123.72 L401.43 123.84 L401.69 124.03 L401.95 124.06 L402.21 123.94 L402.47 124.07 L402.73 123.75 L402.99 124.03 L403.25 123.73 L403.51 124.25 L403.77 123.86 L404.03 123.90 L404.30 123.82 L404.56 123.85 L404.82 123.83 L405.08 123.68 L405.34 123.67 L405.60 124.01 L405.86 124.17 L406.12 123.87 L406.38 124.16 L406.64 123.88 L406.90 123.81 L407.16 123.60 L407.42 123.86 L407.68 124.40 L407.94 123.72 L408.20 123.80 L408.46 124.11 L408.72 123.73 L408.99 123.90 L409.25 124.37 L409.51 123.85 L409.77 124.08 L410.03 124.38 L410.29 124.30 L410.55 123.55 L410.81 123.73 L411.07 123.84 L411.33 123.80 L411.59 123.68 L411.85 123.77 L412.11 123.70 L412.37 123.69 L412.63 123.74 L412.89 123.64 L413.15 123.67 L413.41 124.24 L413.68 124.12 L413.94 123.90 L414.20 123.45 L414.46 123.53 L414.72 123.92 L414.98 123.65 L415.24 123.65 L415.50 123.67 L415.76 123.61 L416.02 123.81 L416.28 123.93 L416.54 123.42 L416.80 123.60 L417.06 123.57 L417.32 123.31 L417.58 123.07 L417.84 123.69 L418.10 123.34 L418.36 123.46 L418.63 123.62 L418.89 123.99 L419.15 124.11 L419.41 123.82 L419.67 123.11 L419.93 122.54 L420.19 123.32 L420.45 123.09 L420.71 123.15 L420.97 123.00 L421.23 122.98 L421.49 123.68 L421.75 122.95 L422.01 123.27 L422.27 123.18 L422.53 122.99 L422.79 123.07 L423.05 122.51 L423.32 122.57 L423.58 122.15 L423.84 122.45 L424.10 122.52 L424.36 121.82 L424.62 121.78 L424.88 121.91 L425.14 121.45 L425.40 121.00 L425.66 120.35 L425.92 120.74 L426.18 120.31 L426.44 118.66 L426.70 118.30 L426.96 116.88" fill="none" stroke="#ffa6a6" stroke-width="0.98" stroke-linejoin="round" stroke-opacity="1.00"/><path d="M426.96 116.88 L427.22 114.40 L427.48 110.82 L427.74 105.77 L428.01 98.57 L428.27 88.29 L428.53 75.39 L428.79 59.94 L429.05 42.57 L429.31 27.51 L429.57 15.02 L429.83 10.31 L430.09 13.63 L430.35 24.09 L430.61 38.78 L430.87 56.33 L431.13 71.90 L431.39 86.15 L431.65 96.93 L431.91 104.05 L432.17 110.23 L432.43 114.04 L432.70 116.50" fill="none" stroke="#ffa6a6" stroke-width="0.90" stroke-linejoin="round" stroke-opacity="0.60"/><path d="M432.70 116.50 L432.96 117.75 L433.22 119.05 L433.48 120.12 L433.74 120.48 L434.00 121.14 L434.26 121.36 L434.52 121.06 L434.78 121.51 L435.04 121.64 L435.30 121.71 L435.56 122.00 L435.82 122.28 L436.08 122.97 L436.34 123.28 L436.60 122.61 L436.86 122.44 L437.12 122.82 L437.39 123.34 L437.65 123.15 L437.91 123.01 L438.17 123.32 L438.43 123.81 L438.69 123.73 L438.95 123.85 L439.21 123.59 L439.47 123.71 L439.73 123.07 L439.99 123.67 L440.25 123.71 L440.51 123.32 L440.77 123.48 L441.03 123.79 L441.29 123.98 L441.55 123.77 L441.81 123.84 L442.08 123.74 L442.34 123.34 L442.60 124.05 L442.86 123.79 L443.12 123.95 L443.38 123.53 L443.64 123.82 L443.90 124.10 L444.16 124.07 L444.42 124.26 L444.68 124.14 L444.94 123.69 L445.20 123.97 L445.46 123.98 L445.72 123.80 L445.98 123.61 L446.24 123.70 L446.50 123.80 L446.76 124.07 L447.03 124.41 L447.29 124.14 L447.55 124.34 L447.81 124.11 L448.07 123.94 L448.33 124.04 L448.59 123.86 L448.85 124.27 L449.11 123.76 L449.37 123.91 L449.63 123.44 L449.89 124.34 L450.15 124.01 L450.41 124.25 L450.67 124.58 L450.93 124.37 L451.19 124.29 L451.45 124.30 L451.72 123.95 L451.98 124.09 L452.24 123.92 L452.50 124.11 L452.76 124.17 L453.02 124.52 L453.28 123.90 L453.54 124.35 L453.80 124.11 L454.06 124.15 L454.32 123.88 L454.58 124.17 L454.84 124.30 L455.10 123.88 L455.36 123.95 L455.62 124.36 L455.88 124.31 L456.14 124.14 L456.41 124.17 L456.67 124.37 L456.93 124.27 L457.19 124.59 L457.45 124.22 L457.71 124.01 L457.97 124.40 L458.23 124.47 L458.49 124.13 L458.75 124.54 L459.01 124.36 L459.27 123.94 L459.53 123.55 L459.79 124.15 L460.05 123.41 L460.31 123.80 L460.57 123.66 L460.83 123.96 L461.10 123.85 L461.36 123.53 L461.62 123.63 L461.88 123.26 L462.14 123.24 L462.40 122.88 L462.66 122.43 L462.92 121.93 L463.18 121.34 L463.44 119.83 L463.70 118.72 L463.96 118.32 L464.22 118.20 L464.48 119.58 L464.74 120.19 L465.00 120.87 L465.26 122.19 L465.52 122.80 L465.79 123.18 L466.05 123.50 L466.31 123.38 L466.57 123.79 L466.83 124.18 L467.09 123.91 L467.35 124.05 L467.61 123.88 L467.87 124.18 L468.13 123.98 L468.39 123.97 L468.65 124.39 L468.91 124.10 L469.17 124.10 L469.43 124.43 L469.69 124.32 L469.95 124.20 L470.21 124.15 L470.47 124.37 L470.74 123.71 L471.00 123.71 L471.26 123.77 L471.52 124.06 L471.78 124.58 L472.04 124.49 L472.30 124.47 L472.56 124.45 L472.82 124.11 L473.08 124.00 L473.34 124.33 L473.60 124.46 L473.86 124.87 L474.12 124.76 L474.38 124.73 L474.64 124.40 L474.90 124.28 L475.16 123.72 L475.43 124.19 L475.69 124.27 L475.95 124.49 L476.21 124.79 L476.47 124.60 L476.73 124.24 L476.99 124.53 L477.25 124.49 L477.51 123.85 L477.77 124.03 L478.03 124.48 L478.29 124.46 L478.55 124.46 L478.81 124.52 L479.07 124.18 L479.33 124.70 L479.59 124.41 L479.85 124.49 L480.12 124.46 L480.38 124.39 L480.64 124.26 L480.90 125.01 L481.16 124.40 L481.42 124.47 L481.68 124.32 L481.94 124.15 L482.20 124.15 L482.46 124.19 L482.72 124.06 L482.98 124.63 L483.24 124.41 L483.50 124.04 L483.76 124.25 L484.02 124.14 L484.28 124.34 L484.54 124.52 L484.81 124.33 L485.07 124.71 L485.33 124.56 L485.59 124.52 L485.85 124.26 L486.11 124.54 L486.37 124.08 L486.63 124.56 L486.89 124.60 L487.15 124.87 L487.41 124.37 L487.67 124.50 L487.93 124.71 L488.19 124.47 L488.45 124.04 L488.71 124.33 L488.97 124.65 L489.23 124.77 L489.50 124.78 L489.76 124.58 L490.02 124.26 L490.28 124.52 L490.54 124.96 L490.80 124.86 L491.06 124.76 L491.32 124.90 L491.58 125.00 L491.84 124.87 L492.10 124.43 L492.36 124.31 L492.62 124.12 L492.88 124.51 L493.14 124.77 L493.40 124.57 L493.66 124.54 L493.92 124.73 L494.19 124.63 L494.45 124.49 L494.71 124.40 L494.97 124.55 L495.23 124.61 L495.49 124.25 L495.75 124.07 L496.01 124.63 L496.27 124.83 L496.53 124.06 L496.79 124.46 L497.05 124.39 L497.31 124.14 L497.57 124.40 L497.83 124.41 L498.09 124.25 L498.35 124.59 L498.61 124.77 L498.87 125.06 L499.14 124.12 L499.40 124.36 L499.66 124.40 L499.92 124.35 L500.18 124.20 L500.44 124.62 L500.70 123.99 L500.96 123.88 L501.22 124.22 L501.48 124.70 L501.74 123.80 L502.00 124.53 L502.26 124.46 L502.52 124.14 L502.78 124.80 L503.04 124.81 L503.30 124.52 L503.56 124.82 L503.83 124.49 L504.09 124.94 L504.35 124.85 L504.61 124.64 L504.87 124.12 L505.13 124.19 L505.39 124.34 L505.65 124.56 L505.91 124.74 L506.17 124.56 L506.43 124.77 L506.69 124.70 L506.95 124.94 L507.21 124.83 L507.47 124.32 L507.73 124.37 L507.99 124.45 L508.25 124.63 L508.52 124.52 L508.78 124.75 L509.04 124.11 L509.30 123.92 L509.56 124.51 L509.82 124.63 L510.08 123.82 L510.34 124.04 L510.60 123.77 L510.86 124.08 L511.12 124.32 L511.38 124.39 L511.64 124.22 L511.90 124.43 L512.16 124.16 L512.42 124.45 L512.68 123.49 L512.94 123.33 L513.21 123.31 L513.47 123.11 L513.73 123.05 L513.99 122.08 L514.25 121.77 L514.51 121.42 L514.77 121.84 L515.03 122.86 L515.29 122.62 L515.55 123.51 L515.81 123.51 L516.07 123.69 L516.33 123.67 L516.59 123.86 L516.85 123.91 L517.11 124.39 L517.37 124.72 L517.63 124.27 L517.90 124.56 L518.16 124.42 L518.42 124.68 L518.68 124.72 L518.94 124.88 L519.20 124.61 L519.46 124.61 L519.72 124.33 L519.98 124.61 L520.24 124.40 L520.50 125.00 L520.76 124.40 L521.02 124.39 L521.28 124.65 L521.54 124.77 L521.80 124.74 L522.06 124.52 L522.32 124.39 L522.58 124.43 L522.85 124.61 L523.11 124.92 L523.37 124.49 L523.63 124.65 L523.89 124.47 L524.15 124.39 L524.41 124.76 L524.67 124.72 L524.93 124.86 L525.19 124.63 L525.45 124.43 L525.71 124.81 L525.97 124.20 L526.23 124.49 L526.49 124.40 L526.75 124.62 L527.01 124.76 L527.27 124.51 L527.54 124.61 L527.80 124.71 L528.06 124.57 L528.32 124.66 L528.58 125.02 L528.84 124.65 L529.10 124.55 L529.36 124.70 L529.62 124.94 L529.88 124.77 L530.14 124.52 L530.40 124.73 L530.66 124.36 L530.92 124.91 L531.18 124.48 L531.44 124.84 L531.70 124.73 L531.96 124.53 L532.23 124.87 L532.49 124.97 L532.75 125.09 L533.01 124.92 L533.27 124.39 L533.53 124.62 L533.79 124.56 L534.05 124.65 L534.31 124.33 L534.57 124.53 L534.83 124.75 L535.09 124.90 L535.35 124.96 L535.61 125.12 L535.87 124.42 L536.13 124.91 L536.39 124.86 L536.65 124.96 L536.92 124.43 L537.18 124.62 L537.44 124.64 L537.70 124.95 L537.96 124.46 L538.22 124.88 L538.48 125.03 L538.74 125.25 L539.00 124.59 L539.26 125.19 L539.52 124.70 L539.78 125.04 L540.04 124.86 L540.30 124.94 L540.56 125.60 L540.82 124.43 L541.08 124.52 L541.34 124.63 L541.61 124.75 L541.87 124.34 L542.13 124.66 L542.39 124.74 L542.65 124.72 L542.91 124.68 L543.17 124.53" fill="none" stroke="#ffa6a6" stroke-width="0.98" stroke-linejoin="round" stroke-opacity="1.00"/>
<path d="M311.80 142.21 L312.06 142.19 L312.32 141.78 L312.58 141.70 L312.84 141.85 L313.10 141.49 L313.36 141.90 L313.62 141.54 L313.88 141.68 L314.14 141.36 L314.41 141.64 L314.67 141.90 L314.93 141.98 L315.19 141.83 L315.45 141.12 L315.71 141.38 L315.97 141.62 L316.23 141.98 L316.49 141.81 L316.75 142.00 L317.01 141.95 L317.27 141.72 L317.53 142.19 L317.79 142.17 L318.05 142.01 L318.31 142.14 L318.57 142.51 L318.83 142.19 L319.10 141.79 L319.36 142.17 L319.62 141.53 L319.88 141.92 L320.14 142.32 L320.40 142.25 L320.66 142.19 L320.92 141.89 L321.18 141.77 L321.44 142.05 L321.70 141.77 L321.96 142.53 L322.22 142.26 L322.48 142.54 L322.74 142.65 L323.00 142.37 L323.26 142.57 L323.52 142.46 L323.79 142.37 L324.05 142.26 L324.31 142.14 L324.57 142.33 L324.83 142.24 L325.09 141.86 L325.35 142.21 L325.61 142.21 L325.87 141.81 L326.13 142.25 L326.39 142.00 L326.65 141.89 L326.91 142.31 L327.17 141.63 L327.43 142.79 L327.69 142.12 L327.95 142.84 L328.21 142.03 L328.48 142.08 L328.74 141.79 L329.00 141.87 L329.26 142.00 L329.52 142.30 L329.78 142.05 L330.04 142.42 L330.30 142.15 L330.56 142.73 L330.82 142.48 L331.08 142.32 L331.34 142.30 L331.60 142.49 L331.86 141.93 L332.12 142.40 L332.38 142.14 L332.64 142.35 L332.90 142.49 L333.17 142.00 L333.43 142.15 L333.69 142.10 L333.95 142.21 L334.21 142.73 L334.47 143.03 L334.73 143.19 L334.99 142.61 L335.25 142.34 L335.51 142.35 L335.77 142.42 L336.03 142.71 L336.29 142.75 L336.55 142.19 L336.81 142.76 L337.07 142.85 L337.33 142.34 L337.59 142.14 L337.86 142.33 L338.12 142.09 L338.38 142.22 L338.64 142.31 L338.90 142.88 L339.16 142.79 L339.42 142.08 L339.68 142.49 L339.94 142.22 L340.20 142.50 L340.46 142.82 L340.72 142.85 L340.98 142.50 L341.24 142.84 L341.50 142.59 L341.76 142.62 L342.02 142.77 L342.28 142.68 L342.54 142.76 L342.81 142.29 L343.07 142.20 L343.33 142.14 L343.59 142.40 L343.85 142.32 L344.11 142.33 L344.37 142.67 L344.63 142.29 L344.89 142.15 L345.15 142.16 L345.41 142.20 L345.67 142.54 L345.93 142.46 L346.19 141.88 L346.45 141.93 L346.71 141.59 L346.97 142.21 L347.23 142.34 L347.50 141.61 L347.76 142.01 L348.02 141.93 L348.28 141.90 L348.54 141.85 L348.80 142.13 L349.06 142.37 L349.32 142.13 L349.58 142.48 L349.84 142.52 L350.10 142.37 L350.36 142.61 L350.62 142.78 L350.88 142.01 L351.14 142.19 L351.40 142.31 L351.66 142.36 L351.92 142.61 L352.19 142.07 L352.45 142.13 L352.71 141.91 L352.97 142.19 L353.23 141.56 L353.49 141.51 L353.75 141.77 L354.01 141.78 L354.27 141.37 L354.53 141.19 L354.79 141.35 L355.05 140.49 L355.31 140.15 L355.57 139.19 L355.83 138.71 L356.09 137.19 L356.35 134.74 L356.61 131.77 L356.88 127.03 L357.14 123.03 L357.40 123.63 L357.66 128.02 L357.92 132.27 L358.18 135.22 L358.44 137.47 L358.70 138.57 L358.96 139.78 L359.22 140.12 L359.48 140.62 L359.74 140.98 L360.00 141.59 L360.26 141.75 L360.52 141.76 L360.78 142.02 L361.04 141.97 L361.30 142.23 L361.57 142.47 L361.83 142.52 L362.09 142.38 L362.35 142.80 L362.61 142.67 L362.87 142.38 L363.13 142.45 L363.39 142.77 L363.65 142.39 L363.91 142.46 L364.17 142.44 L364.43 142.49 L364.69 142.53 L364.95 142.58 L365.21 142.96 L365.47 143.34 L365.73 142.84 L365.99 142.92 L366.25 143.28 L366.52 142.95 L366.78 142.70 L367.04 142.86 L367.30 142.81 L367.56 142.94 L367.82 142.78 L368.08 142.36 L368.34 142.52 L368.60 142.46 L368.86 142.76 L369.12 142.31 L369.38 142.42 L369.64 142.66 L369.90 142.78 L370.16 142.14 L370.42 142.77 L370.68 142.82 L370.94 142.69 L371.21 142.66 L371.47 142.17 L371.73 142.61 L371.99 142.66 L372.25 143.02 L372.51 142.86 L372.77 143.33 L373.03 142.75 L373.29 142.57 L373.55 143.32 L373.81 143.03 L374.07 142.60 L374.33 142.78 L374.59 142.90 L374.85 142.75 L375.11 142.85 L375.37 142.44 L375.63 142.66 L375.90 142.84 L376.16 142.77 L376.42 143.06 L376.68 143.05 L376.94 142.93 L377.20 142.93 L377.46 142.47 L377.72 142.46 L377.98 142.69 L378.24 142.48 L378.50 142.67 L378.76 142.73 L379.02 142.82 L379.28 142.32 L379.54 142.85 L379.80 142.88 L380.06 142.96 L380.32 142.77 L380.59 142.93 L380.85 142.00 L381.11 141.80 L381.37 141.84 L381.63 141.33 L381.89 141.71 L382.15 141.61 L382.41 141.39 L382.67 140.27 L382.93 140.71 L383.19 140.61 L383.45 140.76 L383.71 141.43 L383.97 141.36 L384.23 141.88 L384.49 141.92 L384.75 141.97 L385.01 142.77 L385.28 142.60 L385.54 142.92 L385.80 142.77 L386.06 143.08 L386.32 142.27 L386.58 142.71 L386.84 142.67 L387.10 142.88 L387.36 142.86 L387.62 142.81 L387.88 142.79 L388.14 143.29 L388.40 143.09 L388.66 142.90 L388.92 142.94 L389.18 142.81 L389.44 142.89 L389.70 142.60 L389.97 142.95 L390.23 143.02 L390.49 143.29 L390.75 142.80 L391.01 142.50 L391.27 142.50 L391.53 142.96 L391.79 142.67 L392.05 143.14 L392.31 142.60 L392.57 142.63 L392.83 142.53 L393.09 142.83 L393.35 142.80 L393.61 142.82 L393.87 143.28 L394.13 142.83 L394.39 142.70 L394.65 143.13 L394.92 143.21 L395.18 143.34 L395.44 143.31 L395.70 142.97 L395.96 142.84 L396.22 142.70 L396.48 143.32 L396.74 142.63 L397.00 142.94 L397.26 142.73 L397.52 142.71 L397.78 142.60 L398.04 142.59 L398.30 143.03 L398.56 142.48 L398.82 142.68 L399.08 142.97 L399.34 142.81 L399.61 142.81 L399.87 142.99 L400.13 142.64 L400.39 143.03 L400.65 143.22 L400.91 143.22 L401.17 143.21 L401.43 142.96 L401.69 143.25 L401.95 143.32 L402.21 142.41 L402.47 142.56 L402.73 142.86 L402.99 142.46 L403.25 142.77 L403.51 143.23 L403.77 142.87 L404.03 143.03 L404.30 142.73 L404.56 143.21 L404.82 143.13 L405.08 142.87 L405.34 143.00 L405.60 142.92 L405.86 143.16 L406.12 143.15 L406.38 143.19 L406.64 142.79 L406.90 142.76 L407.16 142.75 L407.42 143.15 L407.68 142.89 L407.94 142.97 L408.20 142.88 L408.46 142.87 L408.72 143.23 L408.99 142.71 L409.25 143.16 L409.51 143.17 L409.77 142.66 L410.03 142.94 L410.29 142.48 L410.55 142.84 L410.81 142.46 L411.07 142.94 L411.33 142.98 L411.59 142.83 L411.85 142.99 L412.11 142.96 L412.37 143.18 L412.63 143.30 L412.89 142.88 L413.15 142.81 L413.41 142.53 L413.68 142.79 L413.94 142.99 L414.20 142.46 L414.46 142.73 L414.72 143.04 L414.98 143.36 L415.24 143.09 L415.50 142.64 L415.76 142.96 L416.02 143.11 L416.28 142.95 L416.54 142.34 L416.80 142.38 L417.06 142.78 L417.32 143.10 L417.58 142.80 L417.84 142.71 L418.10 142.56 L418.36 142.87 L418.63 143.26 L418.89 142.58 L419.15 142.73 L419.41 142.30 L419.67 142.86 L419.93 141.85 L420.19 141.88 L420.45 142.03 L420.71 142.38 L420.97 142.37 L421.23 142.08 L421.49 142.54 L421.75 142.80 L422.01 142.84 L422.27 142.33 L422.53 141.98 L422.79 141.98 L423.05 141.87 L423.32 142.06 L423.58 141.48 L423.84 141.49 L424.10 141.57 L424.36 141.41 L424.62 141.19 L424.88 140.72 L425.14 140.06 L425.40 140.01 L425.66 140.34 L425.92 139.69 L426.18 138.88 L426.44 137.95 L426.70 137.00 L426.96 135.77" fill="none" stroke="#bf9e9e" stroke-width="0.98" stroke-linejoin="round" stroke-opacity="1.00"/><path d="M426.96 135.77 L427.22 133.25 L427.48 129.87 L427.74 124.20 L428.01 116.48 L428.27 105.27 L428.53 91.00 L428.79 74.03 L429.05 56.44 L429.31 39.94 L429.57 27.82 L429.83 22.19 L430.09 25.82 L430.35 37.16 L430.61 53.06 L430.87 70.99 L431.13 88.25 L431.39 102.60 L431.65 114.93 L431.91 123.16 L432.17 129.05 L432.43 132.81 L432.70 135.64" fill="none" stroke="#bf9e9e" stroke-width="0.90" stroke-linejoin="round" stroke-opacity="0.50"/><path d="M432.70 135.64 L432.96 136.79 L433.22 138.14 L433.48 138.46 L433.74 139.21 L434.00 139.26 L434.26 140.02 L434.52 140.25 L434.78 140.73 L435.04 140.82 L435.30 141.26 L435.56 141.35 L435.82 141.67 L436.08 141.82 L436.34 141.93 L436.60 142.23 L436.86 142.03 L437.12 142.06 L437.39 141.85 L437.65 142.20 L437.91 142.60 L438.17 142.38 L438.43 142.55 L438.69 142.35 L438.95 142.59 L439.21 142.79 L439.47 143.05 L439.73 143.38 L439.99 143.20 L440.25 142.72 L440.51 143.59 L440.77 143.05 L441.03 143.29 L441.29 142.72 L441.55 142.36 L441.81 142.70 L442.08 143.15 L442.34 143.05 L442.60 143.01 L442.86 143.28 L443.12 143.46 L443.38 143.74 L443.64 143.45 L443.90 142.71 L444.16 142.98 L444.42 143.00 L444.68 143.13 L444.94 143.64 L445.20 142.75 L445.46 142.54 L445.72 143.00 L445.98 143.11 L446.24 143.01 L446.50 143.02 L446.76 143.62 L447.03 143.03 L447.29 142.68 L447.55 143.50 L447.81 143.22 L448.07 143.65 L448.33 143.40 L448.59 143.54 L448.85 143.28 L449.11 142.61 L449.37 143.10 L449.63 143.29 L449.89 143.56 L450.15 143.40 L450.41 143.34 L450.67 143.55 L450.93 143.47 L451.19 143.04 L451.45 143.72 L451.72 143.31 L451.98 143.17 L452.24 143.69 L452.50 143.26 L452.76 143.56 L453.02 143.62 L453.28 143.81 L453.54 143.11 L453.80 143.24 L454.06 143.45 L454.32 143.28 L454.58 143.43 L454.84 143.58 L455.10 144.21 L455.36 143.31 L455.62 143.11 L455.88 143.61 L456.14 143.53 L456.41 143.13 L456.67 142.96 L456.93 143.51 L457.19 143.59 L457.45 143.66 L457.71 143.47 L457.97 142.63 L458.23 142.90 L458.49 142.98 L458.75 143.59 L459.01 142.81 L459.27 143.14 L459.53 143.51 L459.79 143.16 L460.05 143.23 L460.31 143.57 L460.57 143.32 L460.83 143.12 L461.10 142.92 L461.36 142.72 L461.62 142.88 L461.88 142.29 L462.14 142.05 L462.40 141.86 L462.66 141.01 L462.92 140.73 L463.18 140.09 L463.44 138.02 L463.70 136.75 L463.96 134.94 L464.22 135.53 L464.48 136.41 L464.74 138.54 L465.00 139.56 L465.26 139.99 L465.52 141.21 L465.79 141.99 L466.05 142.27 L466.31 142.49 L466.57 142.99 L466.83 143.31 L467.09 142.95 L467.35 143.14 L467.61 143.02 L467.87 143.33 L468.13 143.25 L468.39 143.12 L468.65 142.95 L468.91 143.13 L469.17 142.87 L469.43 142.93 L469.69 143.31 L469.95 143.24 L470.21 143.05 L470.47 143.36 L470.74 143.14 L471.00 143.17 L471.26 142.92 L471.52 143.25 L471.78 143.27 L472.04 143.20 L472.30 143.68 L472.56 143.43 L472.82 143.73 L473.08 143.82 L473.34 143.93 L473.60 143.38 L473.86 143.51 L474.12 143.76 L474.38 143.44 L474.64 143.56 L474.90 143.84 L475.16 143.77 L475.43 143.64 L475.69 143.26 L475.95 143.40 L476.21 143.34 L476.47 143.56 L476.73 143.48 L476.99 143.67 L477.25 143.18 L477.51 143.72 L477.77 144.03 L478.03 143.44 L478.29 143.78 L478.55 143.32 L478.81 143.15 L479.07 143.13 L479.33 143.47 L479.59 143.67 L479.85 143.66 L480.12 143.57 L480.38 143.81 L480.64 143.92 L480.90 143.33 L481.16 143.80 L481.42 143.46 L481.68 143.82 L481.94 144.04 L482.20 143.76 L482.46 144.16 L482.72 143.63 L482.98 143.96 L483.24 144.19 L483.50 143.86 L483.76 143.59 L484.02 143.86 L484.28 143.78 L484.54 143.58 L484.81 143.75 L485.07 143.35 L485.33 143.88 L485.59 143.64 L485.85 143.95 L486.11 143.70 L486.37 143.77 L486.63 143.93 L486.89 143.70 L487.15 143.82 L487.41 143.47 L487.67 143.37 L487.93 143.31 L488.19 143.25 L488.45 143.39 L488.71 143.17 L488.97 143.30 L489.23 143.61 L489.50 144.12 L489.76 143.50 L490.02 143.53 L490.28 143.76 L490.54 143.95 L490.80 143.92 L491.06 143.92 L491.32 144.20 L491.58 143.65 L491.84 144.06 L492.10 144.05 L492.36 143.91 L492.62 143.54 L492.88 143.90 L493.14 144.04 L493.40 143.71 L493.66 143.89 L493.92 143.83 L494.19 144.12 L494.45 144.11 L494.71 143.58 L494.97 143.65 L495.23 143.76 L495.49 143.91 L495.75 143.81 L496.01 144.05 L496.27 144.14 L496.53 144.10 L496.79 143.72 L497.05 143.63 L497.31 143.94 L497.57 143.73 L497.83 143.95 L498.09 143.81 L498.35 143.90 L498.61 143.39 L498.87 143.89 L499.14 144.01 L499.40 143.92 L499.66 144.11 L499.92 143.46 L500.18 143.80 L500.44 143.50 L500.70 143.51 L500.96 143.86 L501.22 143.83 L501.48 143.59 L501.74 143.81 L502.00 143.98 L502.26 143.65 L502.52 144.03 L502.78 143.78 L503.04 143.85 L503.30 143.70 L503.56 143.95 L503.83 143.67 L504.09 143.77 L504.35 143.63 L504.61 143.57 L504.87 143.70 L505.13 143.61 L505.39 143.75 L505.65 143.71 L505.91 143.80 L506.17 144.09 L506.43 144.06 L506.69 143.87 L506.95 143.94 L507.21 143.74 L507.47 143.30 L507.73 143.93 L507.99 144.07 L508.25 144.05 L508.52 143.87 L508.78 143.67 L509.04 144.04 L509.30 144.00 L509.56 144.27 L509.82 143.64 L510.08 143.84 L510.34 144.12 L510.60 143.98 L510.86 143.76 L511.12 143.65 L511.38 143.52 L511.64 143.94 L511.90 143.34 L512.16 143.12 L512.42 143.79 L512.68 143.78 L512.94 143.17 L513.21 142.93 L513.47 142.35 L513.73 142.31 L513.99 141.89 L514.25 142.17 L514.51 142.07 L514.77 142.12 L515.03 142.00 L515.29 142.66 L515.55 142.78 L515.81 143.07 L516.07 143.39 L516.33 143.22 L516.59 143.77 L516.85 143.59 L517.11 143.70 L517.37 143.67 L517.63 143.80 L517.90 143.46 L518.16 143.83 L518.42 144.24 L518.68 144.46 L518.94 144.22 L519.20 144.00 L519.46 144.33 L519.72 144.39 L519.98 144.50 L520.24 144.22 L520.50 144.21 L520.76 144.47 L521.02 144.45 L521.28 144.18 L521.54 144.11 L521.80 144.56 L522.06 144.45 L522.32 143.75 L522.58 143.99 L522.85 143.77 L523.11 144.53 L523.37 144.10 L523.63 144.19 L523.89 144.35 L524.15 144.35 L524.41 144.28 L524.67 144.28 L524.93 144.97 L525.19 144.20 L525.45 144.34 L525.71 144.21 L525.97 144.26 L526.23 144.66 L526.49 143.69 L526.75 144.02 L527.01 144.22 L527.27 143.89 L527.54 144.15 L527.80 143.86 L528.06 143.86 L528.32 144.50 L528.58 143.91 L528.84 144.21 L529.10 144.03 L529.36 144.24 L529.62 144.12 L529.88 143.51 L530.14 144.02 L530.40 144.50 L530.66 144.08 L530.92 143.82 L531.18 144.08 L531.44 144.38 L531.70 144.36 L531.96 144.00 L532.23 143.84 L532.49 144.36 L532.75 144.54 L533.01 144.25 L533.27 144.20 L533.53 143.67 L533.79 143.48 L534.05 143.65 L534.31 144.33 L534.57 143.97 L534.83 144.27 L535.09 144.52 L535.35 144.22 L535.61 143.33 L535.87 144.13 L536.13 144.19 L536.39 144.50 L536.65 144.75 L536.92 144.46 L537.18 144.50 L537.44 144.19 L537.70 144.58 L537.96 144.33 L538.22 144.19 L538.48 144.06 L538.74 144.40 L539.00 143.95 L539.26 143.77 L539.52 144.40 L539.78 144.54 L540.04 144.19 L540.30 144.07 L540.56 144.20 L540.82 144.29 L541.08 143.95 L541.34 144.09 L541.61 143.78 L541.87 144.58 L542.13 144.60 L542.39 144.90 L542.65 144.33 L542.91 144.65 L543.17 143.97" fill="none" stroke="#bf9e9e" stroke-width="0.98" stroke-linejoin="round" stroke-opacity="1.00"/>
<path d="M311.80 160.10 L312.06 160.23 L312.32 160.08 L312.58 160.09 L312.84 159.93 L313.10 160.15 L313.36 160.13 L313.62 160.04 L313.88 160.25 L314.14 160.20 L314.41 160.56 L314.67 160.48 L314.93 160.81 L315.19 160.34 L315.45 160.32 L315.71 160.12 L315.97 160.26 L316.23 160.44 L316.49 160.30 L316.75 160.41 L317.01 160.20 L317.27 160.46 L317.53 160.09 L317.79 160.62 L318.05 160.42 L318.31 160.18 L318.57 159.81 L318.83 160.06 L319.10 160.80 L319.36 160.55 L319.62 160.08 L319.88 160.09 L320.14 159.74 L320.40 160.42 L320.66 160.03 L320.92 160.14 L321.18 160.39 L321.44 160.25 L321.70 159.68 L321.96 160.23 L322.22 160.50 L322.48 159.96 L322.74 160.27 L323.00 160.16 L323.26 160.10 L323.52 159.95 L323.79 160.89 L324.05 160.46 L324.31 159.97 L324.57 160.48 L324.83 160.18 L325.09 160.46 L325.35 160.24 L325.61 159.75 L325.87 160.17 L326.13 160.10 L326.39 160.81 L326.65 160.71 L326.91 160.10 L327.17 160.17 L327.43 160.08 L327.69 159.65 L327.95 160.06 L328.21 159.89 L328.48 159.81 L328.74 160.28 L329.00 160.28 L329.26 159.98 L329.52 160.47 L329.78 160.32 L330.04 161.04 L330.30 160.00 L330.56 160.21 L330.82 160.04 L331.08 160.00 L331.34 160.19 L331.60 160.44 L331.86 159.95 L332.12 160.34 L332.38 160.57 L332.64 160.43 L332.90 160.22 L333.17 160.31 L333.43 160.01 L333.69 160.38 L333.95 160.58 L334.21 160.52 L334.47 160.33 L334.73 159.59 L334.99 160.24 L335.25 160.21 L335.51 160.76 L335.77 159.97 L336.03 160.57 L336.29 160.81 L336.55 160.32 L336.81 160.51 L337.07 160.97 L337.33 160.27 L337.59 160.71 L337.86 160.26 L338.12 160.00 L338.38 159.88 L338.64 160.47 L338.90 160.89 L339.16 160.42 L339.42 160.45 L339.68 160.18 L339.94 160.28 L340.20 160.73 L340.46 159.90 L340.72 160.32 L340.98 159.63 L341.24 160.09 L341.50 160.83 L341.76 160.50 L342.02 160.24 L342.28 160.68 L342.54 160.09 L342.81 160.02 L343.07 159.78 L343.33 160.27 L343.59 160.42 L343.85 160.12 L344.11 160.15 L344.37 159.90 L344.63 159.98 L344.89 159.89 L345.15 160.06 L345.41 160.03 L345.67 159.74 L345.93 160.35 L346.19 160.43 L346.45 160.63 L346.71 160.03 L346.97 160.21 L347.23 160.16 L347.50 160.58 L347.76 160.40 L348.02 160.42 L348.28 160.45 L348.54 160.37 L348.80 160.47 L349.06 160.33 L349.32 160.02 L349.58 160.04 L349.84 160.24 L350.10 160.23 L350.36 160.34 L350.62 159.93 L350.88 159.80 L351.14 159.76 L351.40 159.85 L351.66 159.73 L351.92 160.12 L352.19 159.79 L352.45 159.27 L352.71 159.82 L352.97 159.74 L353.23 159.81 L353.49 159.70 L353.75 158.93 L354.01 159.05 L354.27 159.18 L354.53 158.82 L354.79 158.35 L355.05 158.86 L355.31 157.68 L355.57 157.80 L355.83 157.02 L356.09 156.71 L356.35 155.57 L356.61 154.77 L356.88 154.69 L357.14 154.16 L357.40 153.95 L357.66 154.24 L357.92 155.29 L358.18 155.49 L358.44 156.34 L358.70 157.24 L358.96 157.56 L359.22 157.64 L359.48 158.50 L359.74 158.82 L360.00 159.32 L360.26 159.20 L360.52 159.56 L360.78 159.45 L361.04 159.76 L361.30 159.82 L361.57 160.27 L361.83 160.55 L362.09 160.17 L362.35 160.34 L362.61 160.24 L362.87 160.22 L363.13 160.25 L363.39 160.45 L363.65 160.72 L363.91 160.36 L364.17 159.85 L364.43 159.85 L364.69 160.01 L364.95 160.21 L365.21 159.81 L365.47 160.61 L365.73 160.56 L365.99 160.59 L366.25 160.66 L366.52 160.28 L366.78 161.04 L367.04 160.88 L367.30 161.14 L367.56 160.95 L367.82 160.69 L368.08 161.30 L368.34 161.17 L368.60 160.90 L368.86 161.30 L369.12 161.47 L369.38 161.45 L369.64 161.39 L369.90 161.18 L370.16 161.48 L370.42 161.24 L370.68 161.43 L370.94 161.65 L371.21 161.52 L371.47 161.77 L371.73 161.40 L371.99 160.78 L372.25 161.07 L372.51 161.55 L372.77 161.58 L373.03 161.36 L373.29 161.41 L373.55 161.95 L373.81 162.20 L374.07 162.09 L374.33 161.92 L374.59 161.92 L374.85 161.60 L375.11 161.64 L375.37 162.18 L375.63 162.32 L375.90 161.57 L376.16 161.73 L376.42 162.19 L376.68 161.88 L376.94 161.75 L377.20 161.39 L377.46 162.25 L377.72 161.92 L377.98 161.86 L378.24 162.28 L378.50 162.03 L378.76 161.99 L379.02 161.64 L379.28 162.27 L379.54 162.05 L379.80 162.63 L380.06 162.58 L380.32 161.86 L380.59 161.82 L380.85 161.96 L381.11 162.07 L381.37 162.06 L381.63 162.18 L381.89 161.63 L382.15 161.49 L382.41 161.85 L382.67 161.86 L382.93 161.87 L383.19 162.12 L383.45 161.81 L383.71 162.38 L383.97 162.10 L384.23 161.66 L384.49 162.25 L384.75 162.20 L385.01 162.09 L385.28 161.87 L385.54 162.10 L385.80 161.98 L386.06 162.30 L386.32 162.29 L386.58 162.00 L386.84 162.58 L387.10 162.82 L387.36 162.47 L387.62 162.30 L387.88 162.47 L388.14 162.02 L388.40 162.47 L388.66 162.78 L388.92 162.98 L389.18 162.69 L389.44 162.25 L389.70 162.48 L389.97 162.46 L390.23 161.91 L390.49 162.41 L390.75 162.69 L391.01 162.78 L391.27 162.14 L391.53 162.25 L391.79 162.73 L392.05 162.55 L392.31 162.77 L392.57 162.68 L392.83 162.56 L393.09 162.78 L393.35 162.93 L393.61 162.94 L393.87 162.40 L394.13 162.54 L394.39 162.71 L394.65 162.84 L394.92 162.58 L395.18 162.68 L395.44 162.75 L395.70 162.65 L395.96 162.41 L396.22 162.59 L396.48 163.00 L396.74 163.23 L397.00 163.30 L397.26 162.63 L397.52 162.49 L397.78 162.65 L398.04 162.74 L398.30 163.37 L398.56 163.05 L398.82 163.28 L399.08 162.94 L399.34 162.78 L399.61 162.96 L399.87 162.97 L400.13 163.48 L400.39 163.19 L400.65 163.10 L400.91 162.69 L401.17 163.13 L401.43 163.43 L401.69 163.14 L401.95 163.17 L402.21 162.92 L402.47 162.95 L402.73 162.93 L402.99 163.23 L403.25 163.02 L403.51 163.02 L403.77 162.90 L404.03 163.08 L404.30 162.75 L404.56 162.80 L404.82 162.95 L405.08 162.95 L405.34 162.79 L405.60 163.40 L405.86 162.92 L406.12 163.02 L406.38 163.01 L406.64 162.87 L406.90 162.84 L407.16 162.73 L407.42 163.04 L407.68 162.70 L407.94 162.88 L408.20 163.31 L408.46 162.81 L408.72 163.13 L408.99 163.28 L409.25 162.62 L409.51 163.54 L409.77 162.82 L410.03 163.30 L410.29 163.18 L410.55 163.21 L410.81 162.80 L411.07 162.84 L411.33 162.98 L411.59 163.21 L411.85 162.79 L412.11 163.14 L412.37 163.42 L412.63 163.00 L412.89 163.30 L413.15 163.63 L413.41 163.15 L413.68 163.40 L413.94 162.80 L414.20 162.75 L414.46 162.88 L414.72 162.81 L414.98 162.76 L415.24 162.64 L415.50 162.69 L415.76 162.86 L416.02 162.59 L416.28 163.15 L416.54 162.87 L416.80 162.49 L417.06 162.40 L417.32 162.64 L417.58 163.00 L417.84 162.92 L418.10 162.41 L418.36 162.53 L418.63 162.71 L418.89 162.86 L419.15 163.20 L419.41 162.97 L419.67 162.90 L419.93 162.94 L420.19 162.73 L420.45 162.42 L420.71 162.42 L420.97 162.67 L421.23 162.26 L421.49 162.17 L421.75 162.45 L422.01 162.21 L422.27 162.21 L422.53 161.99 L422.79 161.85 L423.05 162.02 L423.32 161.79 L423.58 161.65 L423.84 161.45 L424.10 161.37 L424.36 161.80 L424.62 160.44 L424.88 160.09 L425.14 160.46 L425.40 160.36 L425.66 159.38 L425.92 159.19 L426.18 159.09 L426.44 158.39 L426.70 157.68 L426.96 157.00" fill="none" stroke="#9e9ebe" stroke-width="0.98" stroke-linejoin="round" stroke-opacity="1.00"/><path d="M426.96 157.00 L427.22 155.78 L427.48 154.14 L427.74 152.44 L428.01 149.87 L428.27 146.34 L428.53 140.70 L428.79 130.74 L429.05 114.50 L429.31 95.65 L429.57 78.31 L429.83 70.61 L430.09 75.64 L430.35 91.63 L430.61 110.92 L430.87 127.60 L431.13 138.51 L431.39 145.44 L431.65 149.66 L431.91 152.41 L432.17 154.00 L432.43 155.70 L432.70 156.53" fill="none" stroke="#9e9ebe" stroke-width="0.90" stroke-linejoin="round" stroke-opacity="0.45"/><path d="M432.70 156.53 L432.96 157.95 L433.22 158.20 L433.48 159.05 L433.74 159.71 L434.00 159.85 L434.26 160.27 L434.52 160.83 L434.78 160.76 L435.04 161.26 L435.30 161.59 L435.56 161.66 L435.82 161.83 L436.08 161.69 L436.34 162.15 L436.60 161.95 L436.86 162.12 L437.12 162.46 L437.39 162.43 L437.65 162.23 L437.91 162.29 L438.17 162.14 L438.43 162.87 L438.69 162.67 L438.95 162.70 L439.21 162.55 L439.47 163.06 L439.73 163.01 L439.99 162.58 L440.25 163.11 L440.51 162.62 L440.77 162.40 L441.03 162.59 L441.29 162.54 L441.55 162.63 L441.81 162.55 L442.08 163.29 L442.34 163.22 L442.60 162.75 L442.86 162.64 L443.12 162.94 L443.38 163.01 L443.64 163.08 L443.90 163.42 L444.16 163.70 L444.42 162.94 L444.68 163.14 L444.94 162.99 L445.20 163.08 L445.46 163.53 L445.72 163.38 L445.98 162.94 L446.24 162.92 L446.50 163.31 L446.76 163.01 L447.03 162.99 L447.29 162.42 L447.55 163.17 L447.81 163.00 L448.07 162.67 L448.33 163.38 L448.59 163.13 L448.85 163.30 L449.11 163.14 L449.37 162.89 L449.63 162.55 L449.89 163.29 L450.15 162.77 L450.41 163.17 L450.67 163.48 L450.93 163.66 L451.19 163.71 L451.45 163.79 L451.72 163.04 L451.98 162.88 L452.24 163.29 L452.50 163.72 L452.76 163.15 L453.02 163.28 L453.28 163.12 L453.54 162.81 L453.80 162.76 L454.06 163.15 L454.32 163.52 L454.58 163.28 L454.84 162.67 L455.10 163.35 L455.36 162.89 L455.62 162.95 L455.88 163.04 L456.14 163.09 L456.41 163.50 L456.67 163.35 L456.93 163.16 L457.19 163.07 L457.45 162.96 L457.71 163.95 L457.97 163.49 L458.23 163.00 L458.49 163.42 L458.75 163.31 L459.01 163.60 L459.27 163.31 L459.53 163.26 L459.79 163.12 L460.05 163.29 L460.31 163.39 L460.57 163.39 L460.83 163.30 L461.10 163.21 L461.36 163.25 L461.62 162.75 L461.88 162.76 L462.14 162.50 L462.40 162.49 L462.66 162.44 L462.92 162.52 L463.18 162.72 L463.44 162.49 L463.70 162.21 L463.96 161.83 L464.22 161.66 L464.48 161.99 L464.74 162.39 L465.00 162.23 L465.26 162.67 L465.52 163.07 L465.79 163.17 L466.05 163.35 L466.31 163.26 L466.57 163.28 L466.83 163.30 L467.09 162.84 L467.35 163.27 L467.61 162.92 L467.87 163.02 L468.13 163.13 L468.39 163.28 L468.65 163.22 L468.91 163.33 L469.17 162.81 L469.43 163.29 L469.69 163.25 L469.95 163.23 L470.21 162.82 L470.47 163.18 L470.74 162.69 L471.00 162.96 L471.26 163.04 L471.52 162.71 L471.78 163.07 L472.04 162.58 L472.30 162.53 L472.56 162.85 L472.82 162.44 L473.08 162.12 L473.34 161.52 L473.60 161.97 L473.86 162.53 L474.12 162.63 L474.38 162.43 L474.64 162.63 L474.90 162.39 L475.16 162.53 L475.43 162.82 L475.69 162.58 L475.95 162.88 L476.21 162.70 L476.47 162.74 L476.73 162.87 L476.99 162.91 L477.25 163.01 L477.51 162.86 L477.77 163.22 L478.03 163.39 L478.29 163.35 L478.55 163.02 L478.81 163.58 L479.07 163.26 L479.33 162.79 L479.59 163.25 L479.85 163.50 L480.12 163.21 L480.38 163.73 L480.64 163.63 L480.90 163.20 L481.16 163.49 L481.42 163.70 L481.68 163.83 L481.94 163.60 L482.20 163.64 L482.46 163.33 L482.72 162.99 L482.98 163.47 L483.24 163.23 L483.50 163.23 L483.76 162.81 L484.02 163.53 L484.28 163.50 L484.54 163.12 L484.81 163.38 L485.07 163.61 L485.33 163.67 L485.59 163.62 L485.85 163.03 L486.11 163.00 L486.37 163.98 L486.63 163.65 L486.89 163.54 L487.15 163.60 L487.41 163.50 L487.67 163.51 L487.93 164.02 L488.19 163.80 L488.45 163.77 L488.71 163.83 L488.97 163.70 L489.23 163.67 L489.50 163.28 L489.76 163.19 L490.02 163.70 L490.28 163.56 L490.54 163.18 L490.80 163.55 L491.06 163.61 L491.32 163.73 L491.58 163.53 L491.84 162.96 L492.10 163.11 L492.36 163.40 L492.62 163.45 L492.88 163.23 L493.14 163.29 L493.40 162.92 L493.66 163.27 L493.92 163.14 L494.19 163.29 L494.45 163.60 L494.71 163.10 L494.97 163.41 L495.23 163.55 L495.49 163.62 L495.75 163.79 L496.01 163.74 L496.27 163.61 L496.53 163.90 L496.79 163.65 L497.05 163.70 L497.31 163.62 L497.57 163.38 L497.83 163.75 L498.09 163.93 L498.35 163.26 L498.61 163.39 L498.87 163.56 L499.14 163.31 L499.40 163.37 L499.66 163.51 L499.92 163.62 L500.18 163.89 L500.44 164.00 L500.70 164.23 L500.96 164.21 L501.22 163.81 L501.48 163.78 L501.74 163.82 L502.00 163.86 L502.26 163.76 L502.52 163.70 L502.78 163.83 L503.04 163.32 L503.30 163.73 L503.56 163.60 L503.83 163.72 L504.09 163.70 L504.35 163.66 L504.61 163.97 L504.87 163.26 L505.13 163.69 L505.39 163.40 L505.65 163.18 L505.91 163.30 L506.17 163.54 L506.43 163.90 L506.69 163.77 L506.95 163.04 L507.21 163.56 L507.47 163.66 L507.73 164.05 L507.99 163.41 L508.25 163.69 L508.52 163.35 L508.78 162.96 L509.04 163.18 L509.30 163.49 L509.56 163.27 L509.82 163.34 L510.08 163.50 L510.34 163.78 L510.60 163.23 L510.86 163.68 L511.12 162.77 L511.38 163.03 L511.64 163.41 L511.90 163.61 L512.16 164.00 L512.42 163.48 L512.68 164.04 L512.94 163.38 L513.21 163.40 L513.47 163.44 L513.73 163.24 L513.99 163.17 L514.25 163.32 L514.51 163.27 L514.77 163.43 L515.03 163.69 L515.29 164.02 L515.55 163.65 L515.81 164.05 L516.07 163.82 L516.33 163.40 L516.59 163.62 L516.85 163.92 L517.11 163.71 L517.37 163.57 L517.63 164.15 L517.90 163.72 L518.16 163.70 L518.42 163.90 L518.68 163.92 L518.94 163.67 L519.20 163.79 L519.46 163.66 L519.72 163.72 L519.98 163.30 L520.24 163.41 L520.50 163.69 L520.76 164.24 L521.02 163.79 L521.28 163.83 L521.54 163.54 L521.80 163.65 L522.06 163.87 L522.32 163.83 L522.58 163.37 L522.85 163.49 L523.11 163.54 L523.37 163.62 L523.63 163.75 L523.89 163.90 L524.15 164.09 L524.41 163.84 L524.67 163.57 L524.93 163.62 L525.19 163.68 L525.45 163.99 L525.71 164.10 L525.97 163.98 L526.23 163.94 L526.49 163.61 L526.75 163.45 L527.01 163.86 L527.27 163.13 L527.54 163.85 L527.80 163.43 L528.06 163.02 L528.32 163.30 L528.58 163.10 L528.84 163.24 L529.10 163.44 L529.36 163.67 L529.62 164.01 L529.88 164.16 L530.14 163.49 L530.40 163.85 L530.66 164.03 L530.92 164.06 L531.18 163.42 L531.44 163.37 L531.70 163.62 L531.96 163.86 L532.23 164.24 L532.49 163.51 L532.75 163.74 L533.01 163.68 L533.27 163.18 L533.53 163.48 L533.79 163.44 L534.05 164.09 L534.31 163.40 L534.57 163.69 L534.83 163.86 L535.09 163.89 L535.35 163.83 L535.61 163.54 L535.87 163.52 L536.13 163.61 L536.39 163.49 L536.65 163.68 L536.92 163.88 L537.18 163.76 L537.44 163.70 L537.70 163.40 L537.96 163.67 L538.22 163.45 L538.48 163.00 L538.74 163.72 L539.00 163.75 L539.26 163.75 L539.52 163.92 L539.78 163.66 L540.04 163.42 L540.30 163.45 L540.56 163.67 L540.82 164.14 L541.08 163.63 L541.34 163.50 L541.61 163.53 L541.87 163.50 L542.13 164.05 L542.39 164.39 L542.65 163.86 L542.91 164.04 L543.17 163.42" fill="none" stroke="#9e9ebe" stroke-width="0.98" stroke-linejoin="round" stroke-opacity="1.00"/>
<path d="M311.80 180.50 L312.06 180.94 L312.32 180.61 L312.58 180.75 L312.84 180.95 L313.10 180.76 L313.36 181.18 L313.62 180.95 L313.88 181.28 L314.14 181.28 L314.41 181.13 L314.67 181.69 L314.93 181.09 L315.19 180.83 L315.45 181.14 L315.71 180.95 L315.97 180.98 L316.23 180.96 L316.49 180.85 L316.75 181.28 L317.01 181.03 L317.27 181.22 L317.53 181.34 L317.79 181.31 L318.05 181.21 L318.31 180.88 L318.57 180.81 L318.83 180.66 L319.10 180.64 L319.36 180.09 L319.62 180.50 L319.88 180.80 L320.14 180.55 L320.40 180.94 L320.66 181.75 L320.92 181.24 L321.18 181.06 L321.44 181.16 L321.70 181.25 L321.96 181.05 L322.22 180.99 L322.48 180.90 L322.74 180.59 L323.00 180.92 L323.26 181.26 L323.52 181.05 L323.79 180.65 L324.05 181.16 L324.31 180.98 L324.57 181.03 L324.83 180.96 L325.09 181.21 L325.35 181.14 L325.61 180.73 L325.87 181.24 L326.13 181.29 L326.39 181.22 L326.65 180.63 L326.91 180.89 L327.17 180.68 L327.43 180.31 L327.69 180.89 L327.95 180.81 L328.21 181.01 L328.48 180.93 L328.74 181.21 L329.00 180.85 L329.26 181.00 L329.52 180.51 L329.78 181.04 L330.04 180.84 L330.30 180.73 L330.56 180.54 L330.82 180.59 L331.08 180.97 L331.34 180.62 L331.60 180.67 L331.86 180.74 L332.12 180.65 L332.38 180.49 L332.64 180.92 L332.90 181.21 L333.17 180.87 L333.43 181.03 L333.69 180.84 L333.95 181.24 L334.21 181.30 L334.47 180.79 L334.73 181.41 L334.99 180.94 L335.25 181.27 L335.51 181.58 L335.77 181.35 L336.03 181.60 L336.29 180.96 L336.55 181.59 L336.81 181.07 L337.07 181.27 L337.33 181.18 L337.59 181.54 L337.86 181.25 L338.12 181.20 L338.38 181.56 L338.64 181.28 L338.90 181.34 L339.16 181.79 L339.42 181.83 L339.68 181.58 L339.94 180.94 L340.20 181.62 L340.46 181.90 L340.72 181.73 L340.98 181.15 L341.24 180.96 L341.50 181.01 L341.76 181.34 L342.02 181.15 L342.28 181.14 L342.54 181.52 L342.81 181.20 L343.07 181.32 L343.33 180.89 L343.59 181.27 L343.85 181.60 L344.11 181.51 L344.37 181.44 L344.63 182.02 L344.89 181.84 L345.15 181.23 L345.41 181.35 L345.67 181.29 L345.93 181.13 L346.19 181.34 L346.45 181.39 L346.71 181.47 L346.97 181.53 L347.23 181.40 L347.50 181.62 L347.76 181.12 L348.02 181.71 L348.28 180.90 L348.54 181.09 L348.80 180.92 L349.06 181.01 L349.32 181.27 L349.58 181.24 L349.84 181.73 L350.10 181.18 L350.36 181.25 L350.62 181.21 L350.88 181.03 L351.14 181.24 L351.40 180.97 L351.66 180.80 L351.92 180.84 L352.19 180.54 L352.45 180.57 L352.71 180.76 L352.97 180.47 L353.23 180.20 L353.49 179.90 L353.75 179.75 L354.01 179.16 L354.27 178.45 L354.53 177.55 L354.79 177.03 L355.05 175.81 L355.31 174.27 L355.57 172.75 L355.83 172.25 L356.09 172.65 L356.35 173.83 L356.61 175.46 L356.88 175.97 L357.14 176.87 L357.40 177.35 L357.66 177.68 L357.92 178.21 L358.18 178.74 L358.44 178.65 L358.70 179.20 L358.96 179.34 L359.22 179.60 L359.48 179.58 L359.74 179.77 L360.00 180.02 L360.26 179.91 L360.52 179.58 L360.78 180.20 L361.04 180.69 L361.30 181.33 L361.57 180.96 L361.83 181.14 L362.09 180.62 L362.35 180.90 L362.61 181.04 L362.87 181.16 L363.13 181.23 L363.39 181.28 L363.65 180.84 L363.91 181.20 L364.17 180.53 L364.43 179.87 L364.69 179.07 L364.95 178.75 L365.21 179.34 L365.47 179.84 L365.73 179.75 L365.99 179.88 L366.25 180.56 L366.52 180.85 L366.78 180.94 L367.04 181.07 L367.30 181.16 L367.56 181.29 L367.82 181.43 L368.08 181.66 L368.34 181.39 L368.60 181.26 L368.86 181.36 L369.12 181.37 L369.38 181.70 L369.64 181.87 L369.90 181.62 L370.16 181.45 L370.42 181.75 L370.68 181.90 L370.94 182.54 L371.21 182.35 L371.47 181.50 L371.73 181.71 L371.99 182.26 L372.25 182.29 L372.51 181.80 L372.77 182.09 L373.03 181.90 L373.29 182.02 L373.55 181.76 L373.81 181.85 L374.07 181.77 L374.33 182.20 L374.59 182.18 L374.85 182.06 L375.11 181.80 L375.37 181.92 L375.63 181.80 L375.90 182.15 L376.16 181.98 L376.42 181.80 L376.68 181.78 L376.94 181.80 L377.20 181.79 L377.46 181.96 L377.72 181.69 L377.98 181.46 L378.24 181.33 L378.50 181.83 L378.76 181.17 L379.02 181.47 L379.28 180.77 L379.54 180.78 L379.80 180.63 L380.06 180.37 L380.32 180.64 L380.59 180.81 L380.85 181.01 L381.11 181.31 L381.37 181.69 L381.63 181.39 L381.89 182.12 L382.15 182.26 L382.41 181.80 L382.67 181.56 L382.93 182.51 L383.19 181.59 L383.45 182.15 L383.71 182.07 L383.97 182.35 L384.23 182.20 L384.49 181.90 L384.75 181.40 L385.01 181.54 L385.28 182.13 L385.54 181.98 L385.80 181.79 L386.06 181.69 L386.32 182.04 L386.58 182.41 L386.84 182.00 L387.10 181.62 L387.36 181.79 L387.62 181.59 L387.88 181.53 L388.14 181.38 L388.40 181.25 L388.66 181.50 L388.92 181.57 L389.18 182.01 L389.44 182.54 L389.70 182.72 L389.97 181.99 L390.23 182.08 L390.49 182.72 L390.75 182.53 L391.01 182.48 L391.27 182.54 L391.53 182.54 L391.79 182.41 L392.05 182.47 L392.31 182.96 L392.57 182.61 L392.83 182.37 L393.09 182.54 L393.35 182.43 L393.61 182.78 L393.87 182.83 L394.13 182.34 L394.39 182.26 L394.65 183.24 L394.92 183.28 L395.18 182.85 L395.44 182.68 L395.70 183.31 L395.96 182.94 L396.22 182.42 L396.48 182.83 L396.74 182.49 L397.00 182.96 L397.26 182.54 L397.52 182.72 L397.78 182.69 L398.04 183.12 L398.30 182.97 L398.56 183.41 L398.82 183.33 L399.08 182.76 L399.34 182.74 L399.61 183.14 L399.87 182.93 L400.13 182.52 L400.39 182.77 L400.65 182.80 L400.91 182.76 L401.17 182.77 L401.43 183.05 L401.69 182.84 L401.95 183.31 L402.21 182.59 L402.47 182.71 L402.73 182.98 L402.99 182.81 L403.25 182.95 L403.51 182.99 L403.77 182.42 L404.03 182.56 L404.30 182.28 L404.56 182.08 L404.82 182.63 L405.08 183.20 L405.34 182.81 L405.60 182.82 L405.86 183.17 L406.12 183.10 L406.38 182.93 L406.64 183.01 L406.90 182.77 L407.16 182.76 L407.42 183.26 L407.68 182.83 L407.94 182.37 L408.20 182.74 L408.46 183.18 L408.72 182.89 L408.99 182.48 L409.25 182.21 L409.51 182.79 L409.77 183.08 L410.03 182.72 L410.29 183.25 L410.55 182.44 L410.81 182.82 L411.07 182.98 L411.33 183.17 L411.59 182.80 L411.85 182.44 L412.11 182.24 L412.37 182.78 L412.63 182.86 L412.89 182.76 L413.15 182.54 L413.41 183.07 L413.68 183.10 L413.94 182.71 L414.20 182.69 L414.46 182.73 L414.72 183.00 L414.98 182.86 L415.24 182.70 L415.50 182.97 L415.76 182.85 L416.02 182.85 L416.28 182.67 L416.54 182.77 L416.80 182.60 L417.06 182.67 L417.32 182.13 L417.58 182.60 L417.84 182.59 L418.10 182.31 L418.36 182.08 L418.63 182.62 L418.89 182.31 L419.15 182.02 L419.41 182.46 L419.67 182.56 L419.93 182.22 L420.19 182.08 L420.45 182.30 L420.71 182.14 L420.97 182.35 L421.23 181.96 L421.49 181.68 L421.75 182.25 L422.01 182.48 L422.27 182.35 L422.53 182.07 L422.79 181.83 L423.05 181.71 L423.32 181.29 L423.58 181.65 L423.84 181.10 L424.10 180.90 L424.36 180.50 L424.62 180.39 L424.88 180.71 L425.14 180.30 L425.40 180.15 L425.66 179.61 L425.92 179.58 L426.18 179.40 L426.44 179.10 L426.70 177.41 L426.96 176.66" fill="none" stroke="#9494ff" stroke-width="0.98" stroke-linejoin="round" stroke-opacity="1.00"/><path d="M426.96 176.66 L427.22 175.78 L427.48 173.88 L427.74 172.40 L428.01 169.92 L428.27 166.13 L428.53 159.06 L428.79 146.78 L429.05 127.93 L429.31 103.24 L429.57 80.78 L429.83 70.39 L430.09 76.92 L430.35 97.45 L430.61 122.28 L430.87 142.88 L431.13 156.18 L431.39 164.45 L431.65 169.66 L431.91 172.04 L432.17 173.55 L432.43 175.37 L432.70 176.32" fill="none" stroke="#9494ff" stroke-width="0.90" stroke-linejoin="round" stroke-opacity="0.45"/><path d="M432.70 176.32 L432.96 177.02 L433.22 178.09 L433.48 178.58 L433.74 179.02 L434.00 179.45 L434.26 179.95 L434.52 180.31 L434.78 181.24 L435.04 181.45 L435.30 181.09 L435.56 181.20 L435.82 181.46 L436.08 181.51 L436.34 181.88 L436.60 181.85 L436.86 182.29 L437.12 182.22 L437.39 181.84 L437.65 181.93 L437.91 182.52 L438.17 181.89 L438.43 182.02 L438.69 182.50 L438.95 182.23 L439.21 181.91 L439.47 182.36 L439.73 182.80 L439.99 182.35 L440.25 182.31 L440.51 182.77 L440.77 183.21 L441.03 182.79 L441.29 182.82 L441.55 182.48 L441.81 182.93 L442.08 183.28 L442.34 183.52 L442.60 183.70 L442.86 183.39 L443.12 183.15 L443.38 182.87 L443.64 182.89 L443.90 182.45 L444.16 183.29 L444.42 182.99 L444.68 182.50 L444.94 182.69 L445.20 182.98 L445.46 182.95 L445.72 182.48 L445.98 182.82 L446.24 182.77 L446.50 182.67 L446.76 182.77 L447.03 183.03 L447.29 181.95 L447.55 181.82 L447.81 182.28 L448.07 182.14 L448.33 181.43 L448.59 181.48 L448.85 181.46 L449.11 181.67 L449.37 182.00 L449.63 182.90 L449.89 182.49 L450.15 183.17 L450.41 182.79 L450.67 182.76 L450.93 182.64 L451.19 182.40 L451.45 182.48 L451.72 182.33 L451.98 182.99 L452.24 183.13 L452.50 183.20 L452.76 183.40 L453.02 183.21 L453.28 182.80 L453.54 182.87 L453.80 182.88 L454.06 183.21 L454.32 183.19 L454.58 183.36 L454.84 183.39 L455.10 183.50 L455.36 182.75 L455.62 183.00 L455.88 183.63 L456.14 183.05 L456.41 182.89 L456.67 183.39 L456.93 183.48 L457.19 183.44 L457.45 183.26 L457.71 183.37 L457.97 183.41 L458.23 183.27 L458.49 183.62 L458.75 183.07 L459.01 183.36 L459.27 183.53 L459.53 183.26 L459.79 183.42 L460.05 183.58 L460.31 183.38 L460.57 182.98 L460.83 183.36 L461.10 183.47 L461.36 183.48 L461.62 183.35 L461.88 183.02 L462.14 182.88 L462.40 183.19 L462.66 183.38 L462.92 183.49 L463.18 183.34 L463.44 182.90 L463.70 183.06 L463.96 183.73 L464.22 183.77 L464.48 183.08 L464.74 183.83 L465.00 183.85 L465.26 183.26 L465.52 183.28 L465.79 183.81 L466.05 183.60 L466.31 183.31 L466.57 183.53 L466.83 183.47 L467.09 183.27 L467.35 183.10 L467.61 183.01 L467.87 183.79 L468.13 183.59 L468.39 183.50 L468.65 183.07 L468.91 183.14 L469.17 183.42 L469.43 183.39 L469.69 182.51 L469.95 183.13 L470.21 183.18 L470.47 183.04 L470.74 183.24 L471.00 182.76 L471.26 182.91 L471.52 183.26 L471.78 182.21 L472.04 182.24 L472.30 182.11 L472.56 181.31 L472.82 181.18 L473.08 180.04 L473.34 180.86 L473.60 180.84 L473.86 180.64 L474.12 180.61 L474.38 181.30 L474.64 181.26 L474.90 181.78 L475.16 181.61 L475.43 181.90 L475.69 182.19 L475.95 182.30 L476.21 181.92 L476.47 182.26 L476.73 182.87 L476.99 183.02 L477.25 183.15 L477.51 182.99 L477.77 183.19 L478.03 183.09 L478.29 183.22 L478.55 182.99 L478.81 183.21 L479.07 183.56 L479.33 183.09 L479.59 183.32 L479.85 183.29 L480.12 183.28 L480.38 183.34 L480.64 183.14 L480.90 183.93 L481.16 183.53 L481.42 183.45 L481.68 183.50 L481.94 183.70 L482.20 183.96 L482.46 183.82 L482.72 183.62 L482.98 183.44 L483.24 183.38 L483.50 183.42 L483.76 183.72 L484.02 183.42 L484.28 182.96 L484.54 182.73 L484.81 183.20 L485.07 183.50 L485.33 183.40 L485.59 184.04 L485.85 183.56 L486.11 183.45 L486.37 183.33 L486.63 183.41 L486.89 183.38 L487.15 183.63 L487.41 183.60 L487.67 184.06 L487.93 183.55 L488.19 183.55 L488.45 183.79 L488.71 183.77 L488.97 183.54 L489.23 183.51 L489.50 183.34 L489.76 183.70 L490.02 183.81 L490.28 183.51 L490.54 183.77 L490.80 183.66 L491.06 183.41 L491.32 183.21 L491.58 183.64 L491.84 184.05 L492.10 183.73 L492.36 183.49 L492.62 183.48 L492.88 183.76 L493.14 183.73 L493.40 183.40 L493.66 183.47 L493.92 183.70 L494.19 183.74 L494.45 183.67 L494.71 182.85 L494.97 183.91 L495.23 183.77 L495.49 184.12 L495.75 183.59 L496.01 184.02 L496.27 183.47 L496.53 183.77 L496.79 183.40 L497.05 183.23 L497.31 183.48 L497.57 183.74 L497.83 183.82 L498.09 184.08 L498.35 183.76 L498.61 184.86 L498.87 184.07 L499.14 184.05 L499.40 184.10 L499.66 184.09 L499.92 183.74 L500.18 183.67 L500.44 183.98 L500.70 183.55 L500.96 184.03 L501.22 183.80 L501.48 183.70 L501.74 183.61 L502.00 183.50 L502.26 184.22 L502.52 184.06 L502.78 183.84 L503.04 183.63 L503.30 183.42 L503.56 183.73 L503.83 184.16 L504.09 183.70 L504.35 183.72 L504.61 183.81 L504.87 183.67 L505.13 183.93 L505.39 183.87 L505.65 184.08 L505.91 183.86 L506.17 183.51 L506.43 183.39 L506.69 183.72 L506.95 183.70 L507.21 183.38 L507.47 183.83 L507.73 183.92 L507.99 183.68 L508.25 184.08 L508.52 183.83 L508.78 183.99 L509.04 183.81 L509.30 183.65 L509.56 183.43 L509.82 183.55 L510.08 183.85 L510.34 183.30 L510.60 183.98 L510.86 184.04 L511.12 184.03 L511.38 184.11 L511.64 183.81 L511.90 184.00 L512.16 183.83 L512.42 183.82 L512.68 183.25 L512.94 183.54 L513.21 183.92 L513.47 184.56 L513.73 183.77 L513.99 184.03 L514.25 184.32 L514.51 184.03 L514.77 183.95 L515.03 183.57 L515.29 183.62 L515.55 184.01 L515.81 183.64 L516.07 183.74 L516.33 183.84 L516.59 184.27 L516.85 184.01 L517.11 183.76 L517.37 183.69 L517.63 183.92 L517.90 184.15 L518.16 183.91 L518.42 184.25 L518.68 183.70 L518.94 183.68 L519.20 183.76 L519.46 183.77 L519.72 184.09 L519.98 183.75 L520.24 184.38 L520.50 183.88 L520.76 183.99 L521.02 183.65 L521.28 183.14 L521.54 183.37 L521.80 183.84 L522.06 184.03 L522.32 183.91 L522.58 183.82 L522.85 184.09 L523.11 184.11 L523.37 184.09 L523.63 184.28 L523.89 184.00 L524.15 184.20 L524.41 183.86 L524.67 184.14 L524.93 184.14 L525.19 184.24 L525.45 184.32 L525.71 183.88 L525.97 184.13 L526.23 183.78 L526.49 184.27 L526.75 183.65 L527.01 183.55 L527.27 183.78 L527.54 183.64 L527.80 184.12 L528.06 184.30 L528.32 184.12 L528.58 183.90 L528.84 183.82 L529.10 183.85 L529.36 184.15 L529.62 183.98 L529.88 184.12 L530.14 183.52 L530.40 184.53 L530.66 183.94 L530.92 183.85 L531.18 184.27 L531.44 183.91 L531.70 183.64 L531.96 183.91 L532.23 184.54 L532.49 184.14 L532.75 183.60 L533.01 184.14 L533.27 183.93 L533.53 184.28 L533.79 184.12 L534.05 183.78 L534.31 183.91 L534.57 184.33 L534.83 184.42 L535.09 184.12 L535.35 183.68 L535.61 184.16 L535.87 183.93 L536.13 183.81 L536.39 184.15 L536.65 184.04 L536.92 183.69 L537.18 184.05 L537.44 184.30 L537.70 184.10 L537.96 184.27 L538.22 184.20 L538.48 184.10 L538.74 184.52 L539.00 184.07 L539.26 184.44 L539.52 184.34 L539.78 184.13 L540.04 184.22 L540.30 184.32 L540.56 183.88 L540.82 183.91 L541.08 184.11 L541.34 184.27 L541.61 184.57 L541.87 184.05 L542.13 184.31 L542.39 184.64 L542.65 184.54 L542.91 184.58 L543.17 184.21" fill="none" stroke="#9494ff" stroke-width="0.98" stroke-linejoin="round" stroke-opacity="1.00"/>
<path d="M311.80 200.61 L312.06 200.46 L312.32 200.36 L312.58 199.88 L312.84 200.78 L313.10 200.07 L313.36 200.36 L313.62 200.55 L313.88 200.05 L314.14 200.21 L314.41 200.46 L314.67 200.79 L314.93 200.43 L315.19 200.76 L315.45 200.34 L315.71 200.17 L315.97 199.94 L316.23 200.40 L316.49 200.15 L316.75 200.21 L317.01 200.52 L317.27 200.30 L317.53 200.27 L317.79 200.42 L318.05 200.73 L318.31 200.32 L318.57 200.16 L318.83 200.00 L319.10 200.24 L319.36 200.33 L319.62 199.87 L319.88 200.00 L320.14 200.33 L320.40 200.30 L320.66 200.39 L320.92 200.36 L321.18 200.56 L321.44 200.73 L321.70 200.20 L321.96 199.83 L322.22 200.03 L322.48 200.31 L322.74 200.86 L323.00 199.81 L323.26 200.19 L323.52 200.30 L323.79 200.45 L324.05 200.46 L324.31 200.09 L324.57 199.87 L324.83 200.16 L325.09 200.37 L325.35 199.57 L325.61 199.87 L325.87 200.20 L326.13 200.20 L326.39 200.26 L326.65 200.26 L326.91 199.93 L327.17 200.03 L327.43 200.11 L327.69 199.90 L327.95 200.31 L328.21 199.80 L328.48 199.85 L328.74 200.58 L329.00 200.15 L329.26 199.99 L329.52 199.91 L329.78 199.44 L330.04 199.53 L330.30 199.20 L330.56 199.03 L330.82 199.54 L331.08 199.42 L331.34 199.45 L331.60 199.34 L331.86 199.78 L332.12 199.75 L332.38 200.25 L332.64 200.07 L332.90 200.63 L333.17 200.11 L333.43 199.94 L333.69 199.94 L333.95 200.17 L334.21 199.85 L334.47 200.03 L334.73 200.10 L334.99 200.32 L335.25 199.86 L335.51 200.72 L335.77 200.72 L336.03 200.86 L336.29 200.36 L336.55 200.48 L336.81 200.54 L337.07 200.46 L337.33 200.57 L337.59 200.07 L337.86 200.47 L338.12 200.29 L338.38 200.32 L338.64 200.33 L338.90 200.43 L339.16 200.62 L339.42 200.45 L339.68 200.76 L339.94 200.23 L340.20 200.26 L340.46 200.72 L340.72 200.50 L340.98 199.83 L341.24 200.09 L341.50 200.30 L341.76 200.65 L342.02 200.58 L342.28 200.12 L342.54 200.60 L342.81 200.37 L343.07 199.98 L343.33 200.63 L343.59 200.06 L343.85 199.98 L344.11 200.69 L344.37 200.10 L344.63 199.90 L344.89 200.21 L345.15 200.74 L345.41 200.27 L345.67 200.33 L345.93 200.97 L346.19 200.54 L346.45 200.07 L346.71 200.46 L346.97 200.77 L347.23 200.26 L347.50 199.97 L347.76 199.67 L348.02 200.09 L348.28 199.83 L348.54 200.02 L348.80 200.15 L349.06 200.30 L349.32 200.29 L349.58 200.31 L349.84 200.24 L350.10 200.07 L350.36 200.65 L350.62 200.55 L350.88 200.23 L351.14 200.11 L351.40 200.51 L351.66 200.29 L351.92 200.51 L352.19 199.99 L352.45 199.84 L352.71 199.43 L352.97 199.75 L353.23 200.22 L353.49 199.86 L353.75 199.10 L354.01 199.19 L354.27 198.48 L354.53 197.17 L354.79 196.29 L355.05 195.37 L355.31 194.19 L355.57 193.16 L355.83 192.47 L356.09 193.18 L356.35 193.76 L356.61 194.66 L356.88 195.28 L357.14 196.21 L357.40 196.73 L357.66 197.40 L357.92 197.59 L358.18 197.80 L358.44 198.16 L358.70 198.32 L358.96 197.97 L359.22 198.42 L359.48 199.01 L359.74 199.10 L360.00 198.88 L360.26 199.08 L360.52 199.63 L360.78 199.50 L361.04 199.91 L361.30 199.73 L361.57 199.91 L361.83 199.92 L362.09 199.74 L362.35 199.77 L362.61 199.74 L362.87 199.51 L363.13 200.02 L363.39 199.96 L363.65 200.01 L363.91 199.88 L364.17 199.51 L364.43 198.90 L364.69 198.91 L364.95 198.21 L365.21 198.50 L365.47 198.60 L365.73 198.89 L365.99 199.25 L366.25 198.88 L366.52 199.79 L366.78 199.66 L367.04 200.34 L367.30 200.19 L367.56 200.37 L367.82 200.39 L368.08 200.16 L368.34 200.65 L368.60 200.94 L368.86 200.61 L369.12 200.77 L369.38 201.30 L369.64 200.88 L369.90 200.47 L370.16 201.47 L370.42 201.12 L370.68 201.05 L370.94 200.91 L371.21 200.98 L371.47 200.92 L371.73 200.78 L371.99 200.83 L372.25 201.16 L372.51 200.87 L372.77 201.35 L373.03 201.11 L373.29 200.96 L373.55 200.87 L373.81 201.06 L374.07 201.08 L374.33 201.47 L374.59 200.82 L374.85 200.91 L375.11 201.05 L375.37 200.94 L375.63 201.25 L375.90 200.85 L376.16 200.96 L376.42 200.98 L376.68 200.54 L376.94 200.53 L377.20 200.83 L377.46 201.11 L377.72 200.96 L377.98 201.05 L378.24 200.98 L378.50 200.78 L378.76 200.68 L379.02 200.63 L379.28 199.77 L379.54 200.03 L379.80 199.99 L380.06 199.51 L380.32 199.64 L380.59 200.14 L380.85 200.36 L381.11 200.66 L381.37 200.74 L381.63 200.72 L381.89 201.06 L382.15 201.26 L382.41 201.47 L382.67 200.95 L382.93 200.79 L383.19 200.92 L383.45 201.24 L383.71 201.10 L383.97 201.29 L384.23 201.20 L384.49 201.32 L384.75 200.89 L385.01 201.33 L385.28 201.37 L385.54 201.20 L385.80 201.20 L386.06 201.84 L386.32 200.89 L386.58 201.42 L386.84 200.93 L387.10 201.07 L387.36 200.78 L387.62 200.91 L387.88 200.91 L388.14 200.39 L388.40 200.53 L388.66 201.04 L388.92 200.72 L389.18 201.14 L389.44 201.43 L389.70 201.57 L389.97 201.28 L390.23 200.73 L390.49 201.25 L390.75 201.34 L391.01 201.23 L391.27 202.01 L391.53 202.05 L391.79 201.58 L392.05 201.80 L392.31 201.62 L392.57 201.53 L392.83 201.79 L393.09 201.25 L393.35 201.80 L393.61 202.31 L393.87 202.20 L394.13 201.48 L394.39 201.44 L394.65 201.14 L394.92 201.56 L395.18 201.57 L395.44 202.19 L395.70 202.39 L395.96 202.18 L396.22 202.50 L396.48 202.13 L396.74 201.78 L397.00 201.42 L397.26 202.26 L397.52 201.87 L397.78 201.57 L398.04 201.78 L398.30 201.69 L398.56 202.29 L398.82 201.88 L399.08 201.57 L399.34 201.71 L399.61 201.72 L399.87 201.71 L400.13 202.14 L400.39 202.04 L400.65 202.06 L400.91 202.30 L401.17 202.22 L401.43 202.20 L401.69 201.99 L401.95 202.28 L402.21 202.37 L402.47 201.70 L402.73 202.27 L402.99 202.29 L403.25 202.14 L403.51 201.90 L403.77 202.02 L404.03 201.73 L404.30 201.98 L404.56 201.40 L404.82 202.01 L405.08 202.41 L405.34 202.25 L405.60 202.10 L405.86 201.79 L406.12 201.90 L406.38 201.71 L406.64 201.94 L406.90 201.81 L407.16 202.13 L407.42 202.40 L407.68 202.45 L407.94 202.22 L408.20 201.95 L408.46 202.10 L408.72 202.24 L408.99 201.67 L409.25 201.91 L409.51 201.73 L409.77 201.89 L410.03 202.02 L410.29 201.93 L410.55 201.85 L410.81 201.82 L411.07 201.98 L411.33 201.79 L411.59 201.64 L411.85 202.20 L412.11 201.93 L412.37 202.16 L412.63 201.40 L412.89 201.78 L413.15 202.07 L413.41 202.45 L413.68 202.23 L413.94 201.74 L414.20 201.46 L414.46 202.12 L414.72 201.76 L414.98 202.00 L415.24 201.49 L415.50 201.53 L415.76 201.70 L416.02 202.32 L416.28 202.37 L416.54 201.95 L416.80 201.56 L417.06 201.44 L417.32 201.20 L417.58 201.49 L417.84 201.80 L418.10 201.47 L418.36 201.39 L418.63 201.58 L418.89 201.48 L419.15 201.87 L419.41 202.02 L419.67 201.70 L419.93 201.39 L420.19 201.47 L420.45 201.48 L420.71 201.43 L420.97 201.21 L421.23 201.22 L421.49 201.65 L421.75 201.16 L422.01 200.96 L422.27 200.73 L422.53 200.64 L422.79 200.90 L423.05 200.75 L423.32 200.44 L423.58 200.62 L423.84 200.90 L424.10 200.42 L424.36 199.91 L424.62 199.51 L424.88 199.44 L425.14 199.41 L425.40 198.84 L425.66 198.91 L425.92 198.73 L426.18 197.84 L426.44 197.38 L426.70 196.51 L426.96 195.73" fill="none" stroke="#5050f2" stroke-width="0.98" stroke-linejoin="round" stroke-opacity="1.00"/><path d="M426.96 195.73 L427.22 194.75 L427.48 193.22 L427.74 191.55 L428.01 188.57 L428.27 184.38 L428.53 176.52 L428.79 162.55 L429.05 139.72 L429.31 110.03 L429.57 83.40 L429.83 70.23 L430.09 78.71 L430.35 103.38 L430.61 132.87 L430.87 157.97 L431.13 174.07 L431.39 183.06 L431.65 187.93 L431.91 190.91 L432.17 192.79 L432.43 194.43 L432.70 195.29" fill="none" stroke="#5050f2" stroke-width="0.90" stroke-linejoin="round" stroke-opacity="0.45"/><path d="M432.70 195.29 L432.96 196.55 L433.22 196.98 L433.48 198.41 L433.74 198.82 L434.00 198.96 L434.26 199.08 L434.52 199.22 L434.78 199.53 L435.04 199.54 L435.30 200.09 L435.56 200.51 L435.82 200.18 L436.08 200.78 L436.34 200.86 L436.60 200.88 L436.86 200.92 L437.12 200.99 L437.39 200.75 L437.65 200.39 L437.91 200.78 L438.17 200.99 L438.43 201.40 L438.69 201.35 L438.95 201.23 L439.21 201.19 L439.47 201.31 L439.73 201.86 L439.99 201.72 L440.25 201.02 L440.51 201.37 L440.77 201.24 L441.03 201.59 L441.29 201.44 L441.55 201.83 L441.81 202.08 L442.08 201.92 L442.34 201.64 L442.60 201.59 L442.86 201.68 L443.12 201.87 L443.38 201.13 L443.64 201.18 L443.90 201.73 L444.16 201.92 L444.42 201.44 L444.68 201.47 L444.94 201.75 L445.20 201.99 L445.46 202.33 L445.72 201.72 L445.98 201.69 L446.24 201.30 L446.50 201.24 L446.76 201.45 L447.03 201.35 L447.29 201.04 L447.55 201.06 L447.81 201.44 L448.07 200.84 L448.33 200.65 L448.59 200.96 L448.85 200.48 L449.11 200.76 L449.37 201.21 L449.63 201.11 L449.89 201.52 L450.15 201.43 L450.41 201.98 L450.67 201.63 L450.93 201.93 L451.19 201.60 L451.45 201.63 L451.72 201.48 L451.98 202.06 L452.24 202.17 L452.50 201.92 L452.76 201.91 L453.02 202.04 L453.28 202.38 L453.54 201.76 L453.80 201.56 L454.06 201.86 L454.32 201.46 L454.58 202.25 L454.84 202.44 L455.10 202.24 L455.36 202.30 L455.62 202.50 L455.88 202.18 L456.14 202.04 L456.41 202.08 L456.67 202.29 L456.93 202.30 L457.19 202.11 L457.45 202.26 L457.71 202.06 L457.97 202.14 L458.23 202.47 L458.49 202.39 L458.75 202.23 L459.01 202.62 L459.27 202.15 L459.53 202.60 L459.79 202.31 L460.05 201.90 L460.31 201.94 L460.57 201.91 L460.83 201.78 L461.10 201.65 L461.36 201.84 L461.62 202.01 L461.88 202.64 L462.14 202.47 L462.40 201.97 L462.66 202.28 L462.92 202.60 L463.18 202.53 L463.44 202.11 L463.70 201.99 L463.96 201.91 L464.22 202.30 L464.48 202.16 L464.74 201.76 L465.00 201.94 L465.26 202.40 L465.52 202.62 L465.79 202.52 L466.05 202.30 L466.31 202.30 L466.57 202.16 L466.83 202.34 L467.09 202.04 L467.35 202.10 L467.61 202.39 L467.87 201.98 L468.13 201.84 L468.39 202.45 L468.65 202.25 L468.91 202.07 L469.17 202.21 L469.43 201.69 L469.69 202.14 L469.95 202.10 L470.21 201.91 L470.47 201.67 L470.74 202.18 L471.00 201.44 L471.26 201.61 L471.52 201.32 L471.78 201.76 L472.04 201.27 L472.30 200.47 L472.56 200.60 L472.82 200.17 L473.08 199.24 L473.34 198.76 L473.60 199.11 L473.86 199.70 L474.12 199.98 L474.38 200.09 L474.64 200.09 L474.90 200.28 L475.16 200.58 L475.43 200.44 L475.69 200.73 L475.95 201.22 L476.21 201.36 L476.47 201.24 L476.73 201.68 L476.99 201.64 L477.25 201.82 L477.51 202.09 L477.77 201.91 L478.03 201.88 L478.29 202.18 L478.55 201.96 L478.81 201.90 L479.07 202.03 L479.33 202.28 L479.59 202.35 L479.85 202.01 L480.12 202.31 L480.38 202.06 L480.64 202.31 L480.90 202.45 L481.16 201.88 L481.42 202.42 L481.68 202.42 L481.94 202.50 L482.20 202.48 L482.46 202.29 L482.72 202.52 L482.98 202.70 L483.24 202.50 L483.50 202.21 L483.76 202.37 L484.02 202.33 L484.28 202.18 L484.54 202.07 L484.81 202.18 L485.07 202.11 L485.33 202.26 L485.59 201.87 L485.85 202.40 L486.11 202.14 L486.37 202.13 L486.63 202.18 L486.89 202.19 L487.15 202.00 L487.41 202.27 L487.67 202.16 L487.93 202.19 L488.19 202.32 L488.45 202.08 L488.71 202.53 L488.97 202.56 L489.23 202.35 L489.50 202.14 L489.76 202.34 L490.02 202.06 L490.28 202.55 L490.54 202.93 L490.80 202.43 L491.06 202.69 L491.32 202.74 L491.58 202.72 L491.84 202.68 L492.10 202.33 L492.36 202.44 L492.62 202.72 L492.88 202.13 L493.14 202.06 L493.40 202.08 L493.66 202.33 L493.92 202.78 L494.19 201.99 L494.45 202.07 L494.71 202.71 L494.97 202.81 L495.23 202.49 L495.49 202.40 L495.75 202.21 L496.01 201.73 L496.27 201.91 L496.53 201.95 L496.79 202.15 L497.05 202.66 L497.31 202.32 L497.57 202.21 L497.83 202.54 L498.09 202.76 L498.35 202.34 L498.61 202.20 L498.87 201.89 L499.14 202.16 L499.40 202.00 L499.66 202.10 L499.92 202.19 L500.18 202.44 L500.44 202.47 L500.70 202.29 L500.96 202.38 L501.22 202.26 L501.48 202.92 L501.74 202.29 L502.00 202.35 L502.26 202.35 L502.52 202.95 L502.78 202.48 L503.04 202.02 L503.30 202.64 L503.56 202.70 L503.83 202.43 L504.09 202.61 L504.35 202.31 L504.61 202.35 L504.87 202.59 L505.13 202.47 L505.39 202.20 L505.65 202.10 L505.91 202.52 L506.17 202.50 L506.43 202.22 L506.69 202.37 L506.95 202.61 L507.21 202.42 L507.47 201.89 L507.73 202.74 L507.99 201.94 L508.25 202.30 L508.52 202.24 L508.78 202.46 L509.04 202.27 L509.30 202.34 L509.56 202.81 L509.82 202.69 L510.08 202.57 L510.34 201.79 L510.60 202.27 L510.86 202.88 L511.12 202.83 L511.38 202.66 L511.64 202.56 L511.90 202.21 L512.16 202.55 L512.42 202.62 L512.68 202.97 L512.94 202.30 L513.21 202.70 L513.47 202.44 L513.73 202.14 L513.99 202.21 L514.25 202.72 L514.51 202.12 L514.77 202.76 L515.03 202.67 L515.29 202.62 L515.55 202.23 L515.81 202.27 L516.07 202.55 L516.33 202.07 L516.59 201.72 L516.85 202.20 L517.11 202.37 L517.37 202.38 L517.63 202.59 L517.90 202.48 L518.16 202.31 L518.42 201.95 L518.68 202.46 L518.94 202.56 L519.20 202.60 L519.46 202.38 L519.72 202.00 L519.98 202.56 L520.24 202.64 L520.50 202.47 L520.76 202.58 L521.02 202.07 L521.28 201.70 L521.54 202.07 L521.80 202.42 L522.06 202.45 L522.32 202.37 L522.58 202.22 L522.85 202.02 L523.11 202.34 L523.37 202.13 L523.63 202.28 L523.89 202.18 L524.15 202.38 L524.41 202.28 L524.67 202.11 L524.93 202.60 L525.19 201.92 L525.45 202.01 L525.71 202.39 L525.97 202.26 L526.23 202.28 L526.49 202.50 L526.75 202.29 L527.01 202.32 L527.27 202.26 L527.54 202.29 L527.80 202.19 L528.06 202.20 L528.32 202.18 L528.58 202.41 L528.84 202.25 L529.10 202.50 L529.36 202.61 L529.62 202.08 L529.88 202.16 L530.14 202.49 L530.40 202.21 L530.66 202.30 L530.92 202.25 L531.18 202.59 L531.44 202.32 L531.70 202.03 L531.96 202.56 L532.23 202.54 L532.49 202.12 L532.75 202.24 L533.01 202.43 L533.27 202.18 L533.53 202.16 L533.79 202.38 L534.05 202.69 L534.31 202.12 L534.57 202.49 L534.83 202.52 L535.09 202.37 L535.35 202.40 L535.61 202.49 L535.87 202.62 L536.13 202.20 L536.39 202.41 L536.65 202.75 L536.92 202.19 L537.18 202.49 L537.44 202.46 L537.70 202.42 L537.96 202.59 L538.22 202.12 L538.48 202.09 L538.74 202.73 L539.00 202.43 L539.26 202.76 L539.52 202.39 L539.78 202.24 L540.04 202.24 L540.30 202.71 L540.56 202.76 L540.82 202.45 L541.08 202.20 L541.34 202.09 L541.61 202.61 L541.87 202.34 L542.13 202.47 L542.39 202.62 L542.65 202.21 L542.91 202.60 L543.17 202.17" fill="none" stroke="#5050f2" stroke-width="0.98" stroke-linejoin="round" stroke-opacity="1.00"/>
<path d="M311.80 218.21 L312.06 218.46 L312.32 218.66 L312.58 218.45 L312.84 218.74 L313.10 218.95 L313.36 218.45 L313.62 218.85 L313.88 218.70 L314.14 218.52 L314.41 218.43 L314.67 218.63 L314.93 218.29 L315.19 219.00 L315.45 218.74 L315.71 218.84 L315.97 218.67 L316.23 218.70 L316.49 218.62 L316.75 218.59 L317.01 218.62 L317.27 218.15 L317.53 218.14 L317.79 218.75 L318.05 218.74 L318.31 218.46 L318.57 218.39 L318.83 218.33 L319.10 218.36 L319.36 218.67 L319.62 218.16 L319.88 218.45 L320.14 218.28 L320.40 218.57 L320.66 218.53 L320.92 218.22 L321.18 218.21 L321.44 217.95 L321.70 218.43 L321.96 218.31 L322.22 218.38 L322.48 218.83 L322.74 218.46 L323.00 218.72 L323.26 218.27 L323.52 218.88 L323.79 218.36 L324.05 218.37 L324.31 218.41 L324.57 218.35 L324.83 218.29 L325.09 218.71 L325.35 218.18 L325.61 218.67 L325.87 218.76 L326.13 218.43 L326.39 217.73 L326.65 218.18 L326.91 218.04 L327.17 217.92 L327.43 217.75 L327.69 217.99 L327.95 218.28 L328.21 218.22 L328.48 218.30 L328.74 218.34 L329.00 218.33 L329.26 218.51 L329.52 218.15 L329.78 218.41 L330.04 217.96 L330.30 218.05 L330.56 218.36 L330.82 218.29 L331.08 218.71 L331.34 217.60 L331.60 218.24 L331.86 218.33 L332.12 217.99 L332.38 218.03 L332.64 218.47 L332.90 218.72 L333.17 218.15 L333.43 218.04 L333.69 218.10 L333.95 218.29 L334.21 218.35 L334.47 218.94 L334.73 218.63 L334.99 218.24 L335.25 218.17 L335.51 218.17 L335.77 218.33 L336.03 218.15 L336.29 217.99 L336.55 217.67 L336.81 217.45 L337.07 217.95 L337.33 218.18 L337.59 218.31 L337.86 218.35 L338.12 218.28 L338.38 218.35 L338.64 218.53 L338.90 218.41 L339.16 218.36 L339.42 218.72 L339.68 218.74 L339.94 219.19 L340.20 218.07 L340.46 218.62 L340.72 218.07 L340.98 217.95 L341.24 218.55 L341.50 218.27 L341.76 218.15 L342.02 218.69 L342.28 218.41 L342.54 218.24 L342.81 218.31 L343.07 218.19 L343.33 217.85 L343.59 217.95 L343.85 218.13 L344.11 218.57 L344.37 218.42 L344.63 218.64 L344.89 218.26 L345.15 218.55 L345.41 218.50 L345.67 218.59 L345.93 218.39 L346.19 218.73 L346.45 218.53 L346.71 218.32 L346.97 218.60 L347.23 218.48 L347.50 218.49 L347.76 218.41 L348.02 218.51 L348.28 218.45 L348.54 218.43 L348.80 218.47 L349.06 218.51 L349.32 218.34 L349.58 218.08 L349.84 218.65 L350.10 218.51 L350.36 218.10 L350.62 217.94 L350.88 218.36 L351.14 218.45 L351.40 218.36 L351.66 218.75 L351.92 218.04 L352.19 217.89 L352.45 218.14 L352.71 218.24 L352.97 218.09 L353.23 217.86 L353.49 217.84 L353.75 217.42 L354.01 217.26 L354.27 217.70 L354.53 217.73 L354.79 217.00 L355.05 216.22 L355.31 216.27 L355.57 215.76 L355.83 215.32 L356.09 215.76 L356.35 216.17 L356.61 216.49 L356.88 217.05 L357.14 217.73 L357.40 217.72 L357.66 217.94 L357.92 218.39 L358.18 218.69 L358.44 218.93 L358.70 218.65 L358.96 218.30 L359.22 218.57 L359.48 218.68 L359.74 218.51 L360.00 218.96 L360.26 218.60 L360.52 218.82 L360.78 218.86 L361.04 219.18 L361.30 218.86 L361.57 218.93 L361.83 218.59 L362.09 218.77 L362.35 219.05 L362.61 218.82 L362.87 218.77 L363.13 218.15 L363.39 218.89 L363.65 218.99 L363.91 218.58 L364.17 218.27 L364.43 217.77 L364.69 217.73 L364.95 217.05 L365.21 217.30 L365.47 217.75 L365.73 217.44 L365.99 217.89 L366.25 218.72 L366.52 218.62 L366.78 219.14 L367.04 219.34 L367.30 219.37 L367.56 219.78 L367.82 219.45 L368.08 219.43 L368.34 219.42 L368.60 219.25 L368.86 219.29 L369.12 219.46 L369.38 219.07 L369.64 219.79 L369.90 219.85 L370.16 219.28 L370.42 219.55 L370.68 220.00 L370.94 220.23 L371.21 219.55 L371.47 219.96 L371.73 219.94 L371.99 219.90 L372.25 219.72 L372.51 220.18 L372.77 219.72 L373.03 219.96 L373.29 219.89 L373.55 220.11 L373.81 219.97 L374.07 220.08 L374.33 220.23 L374.59 219.87 L374.85 220.16 L375.11 220.06 L375.37 220.11 L375.63 220.52 L375.90 220.29 L376.16 219.60 L376.42 220.12 L376.68 220.23 L376.94 220.14 L377.20 220.48 L377.46 220.05 L377.72 220.13 L377.98 220.33 L378.24 220.17 L378.50 220.73 L378.76 219.73 L379.02 219.53 L379.28 219.08 L379.54 219.87 L379.80 219.72 L380.06 219.53 L380.32 219.21 L380.59 219.69 L380.85 219.76 L381.11 219.86 L381.37 219.96 L381.63 220.00 L381.89 219.83 L382.15 220.11 L382.41 220.40 L382.67 220.38 L382.93 220.60 L383.19 220.39 L383.45 220.85 L383.71 220.62 L383.97 220.14 L384.23 220.86 L384.49 220.73 L384.75 220.78 L385.01 220.55 L385.28 220.60 L385.54 220.97 L385.80 220.68 L386.06 221.42 L386.32 221.39 L386.58 221.17 L386.84 220.68 L387.10 220.88 L387.36 220.74 L387.62 220.52 L387.88 220.82 L388.14 221.07 L388.40 220.91 L388.66 220.95 L388.92 220.85 L389.18 221.17 L389.44 221.08 L389.70 221.14 L389.97 221.04 L390.23 220.94 L390.49 221.10 L390.75 221.53 L391.01 221.52 L391.27 221.00 L391.53 221.40 L391.79 220.96 L392.05 220.92 L392.31 221.11 L392.57 221.10 L392.83 221.36 L393.09 221.04 L393.35 221.08 L393.61 221.28 L393.87 221.51 L394.13 221.55 L394.39 221.83 L394.65 221.43 L394.92 221.90 L395.18 221.28 L395.44 221.20 L395.70 221.53 L395.96 221.44 L396.22 221.35 L396.48 221.32 L396.74 221.35 L397.00 221.24 L397.26 221.29 L397.52 221.01 L397.78 221.12 L398.04 221.14 L398.30 221.26 L398.56 221.89 L398.82 221.70 L399.08 221.58 L399.34 221.94 L399.61 222.29 L399.87 221.79 L400.13 221.78 L400.39 222.17 L400.65 221.80 L400.91 222.16 L401.17 221.85 L401.43 221.89 L401.69 221.55 L401.95 221.83 L402.21 221.45 L402.47 222.05 L402.73 222.02 L402.99 222.03 L403.25 221.98 L403.51 221.86 L403.77 222.14 L404.03 222.03 L404.30 222.19 L404.56 222.04 L404.82 221.59 L405.08 222.00 L405.34 221.98 L405.60 221.72 L405.86 221.37 L406.12 221.76 L406.38 221.78 L406.64 221.65 L406.90 222.13 L407.16 221.90 L407.42 222.07 L407.68 222.09 L407.94 222.15 L408.20 221.88 L408.46 221.70 L408.72 222.08 L408.99 222.13 L409.25 221.91 L409.51 221.61 L409.77 221.84 L410.03 221.88 L410.29 221.35 L410.55 221.62 L410.81 221.53 L411.07 221.81 L411.33 221.40 L411.59 221.57 L411.85 221.57 L412.11 221.47 L412.37 221.61 L412.63 221.26 L412.89 221.32 L413.15 221.63 L413.41 221.64 L413.68 221.71 L413.94 221.89 L414.20 221.83 L414.46 221.62 L414.72 221.97 L414.98 221.88 L415.24 221.44 L415.50 221.32 L415.76 221.63 L416.02 221.38 L416.28 221.38 L416.54 222.02 L416.80 221.91 L417.06 221.43 L417.32 221.36 L417.58 221.45 L417.84 221.38 L418.10 221.23 L418.36 221.53 L418.63 221.24 L418.89 221.46 L419.15 221.50 L419.41 221.50 L419.67 221.37 L419.93 220.96 L420.19 220.77 L420.45 221.36 L420.71 221.46 L420.97 221.31 L421.23 221.11 L421.49 221.36 L421.75 221.18 L422.01 220.50 L422.27 220.54 L422.53 220.56 L422.79 220.70 L423.05 220.42 L423.32 220.55 L423.58 220.63 L423.84 220.18 L424.10 220.18 L424.36 220.15 L424.62 219.86 L424.88 219.73 L425.14 219.74 L425.40 218.68 L425.66 218.29 L425.92 217.99 L426.18 217.61 L426.44 217.10 L426.70 216.32 L426.96 215.48" fill="none" stroke="#2828f2" stroke-width="0.98" stroke-linejoin="round" stroke-opacity="1.00"/><path d="M426.96 215.48 L427.22 214.27 L427.48 213.15 L427.74 211.03 L428.01 207.93 L428.27 204.08 L428.53 194.79 L428.79 178.39 L429.05 152.28 L429.31 118.30 L429.57 86.87 L429.83 71.44 L430.09 81.37 L430.35 110.43 L430.61 144.91 L430.87 173.02 L431.13 191.91 L431.39 202.01 L431.65 207.35 L431.91 210.51 L432.17 212.92 L432.43 213.74 L432.70 215.11" fill="none" stroke="#2828f2" stroke-width="0.90" stroke-linejoin="round" stroke-opacity="0.45"/><path d="M432.70 215.11 L432.96 216.04 L433.22 216.49 L433.48 217.08 L433.74 217.91 L434.00 218.03 L434.26 218.27 L434.52 218.60 L434.78 219.11 L435.04 219.60 L435.30 219.98 L435.56 219.75 L435.82 220.26 L436.08 220.38 L436.34 220.63 L436.60 220.48 L436.86 220.54 L437.12 221.08 L437.39 221.01 L437.65 220.82 L437.91 220.92 L438.17 221.09 L438.43 221.18 L438.69 220.89 L438.95 220.87 L439.21 221.08 L439.47 221.06 L439.73 221.27 L439.99 220.92 L440.25 220.98 L440.51 221.41 L440.77 220.92 L441.03 221.08 L441.29 221.25 L441.55 221.39 L441.81 221.44 L442.08 221.18 L442.34 221.02 L442.60 221.24 L442.86 221.68 L443.12 221.87 L443.38 221.63 L443.64 221.82 L443.90 221.65 L444.16 221.76 L444.42 221.69 L444.68 221.69 L444.94 221.03 L445.20 221.72 L445.46 221.47 L445.72 220.72 L445.98 221.12 L446.24 221.13 L446.50 220.98 L446.76 220.96 L447.03 220.86 L447.29 220.96 L447.55 220.74 L447.81 220.71 L448.07 220.39 L448.33 220.24 L448.59 220.67 L448.85 220.63 L449.11 220.26 L449.37 220.58 L449.63 220.70 L449.89 221.47 L450.15 221.33 L450.41 221.11 L450.67 221.20 L450.93 221.11 L451.19 220.96 L451.45 221.43 L451.72 221.84 L451.98 221.34 L452.24 221.71 L452.50 221.24 L452.76 221.43 L453.02 221.87 L453.28 222.00 L453.54 221.67 L453.80 221.58 L454.06 222.10 L454.32 222.18 L454.58 222.22 L454.84 222.12 L455.10 222.15 L455.36 221.69 L455.62 221.94 L455.88 222.64 L456.14 222.25 L456.41 222.19 L456.67 222.01 L456.93 221.86 L457.19 221.76 L457.45 221.97 L457.71 222.17 L457.97 221.95 L458.23 221.83 L458.49 221.69 L458.75 221.70 L459.01 221.90 L459.27 221.81 L459.53 221.76 L459.79 222.06 L460.05 221.93 L460.31 222.00 L460.57 221.76 L460.83 222.01 L461.10 221.40 L461.36 221.38 L461.62 221.60 L461.88 221.56 L462.14 222.03 L462.40 221.88 L462.66 221.94 L462.92 221.79 L463.18 222.12 L463.44 222.01 L463.70 221.67 L463.96 221.94 L464.22 222.24 L464.48 222.40 L464.74 222.31 L465.00 221.62 L465.26 221.41 L465.52 221.87 L465.79 222.15 L466.05 222.16 L466.31 221.82 L466.57 221.44 L466.83 221.61 L467.09 221.86 L467.35 222.18 L467.61 221.52 L467.87 221.42 L468.13 221.44 L468.39 221.58 L468.65 222.26 L468.91 221.31 L469.17 221.58 L469.43 221.73 L469.69 221.49 L469.95 221.96 L470.21 221.73 L470.47 221.36 L470.74 221.76 L471.00 221.71 L471.26 221.38 L471.52 221.76 L471.78 221.71 L472.04 221.48 L472.30 221.10 L472.56 220.74 L472.82 221.07 L473.08 220.91 L473.34 220.48 L473.60 219.85 L473.86 220.09 L474.12 220.69 L474.38 220.76 L474.64 220.59 L474.90 220.51 L475.16 220.78 L475.43 221.11 L475.69 221.02 L475.95 221.69 L476.21 221.74 L476.47 221.28 L476.73 220.88 L476.99 221.21 L477.25 221.45 L477.51 221.36 L477.77 221.65 L478.03 222.16 L478.29 222.29 L478.55 221.73 L478.81 222.17 L479.07 221.68 L479.33 221.58 L479.59 221.40 L479.85 221.25 L480.12 221.38 L480.38 222.06 L480.64 221.64 L480.90 222.35 L481.16 222.24 L481.42 221.60 L481.68 221.61 L481.94 221.92 L482.20 222.18 L482.46 221.91 L482.72 222.05 L482.98 222.30 L483.24 222.00 L483.50 221.64 L483.76 222.10 L484.02 221.84 L484.28 221.88 L484.54 221.46 L484.81 221.56 L485.07 221.70 L485.33 221.88 L485.59 221.76 L485.85 221.55 L486.11 221.89 L486.37 222.26 L486.63 221.83 L486.89 221.92 L487.15 221.94 L487.41 222.42 L487.67 222.08 L487.93 222.17 L488.19 221.97 L488.45 222.10 L488.71 221.72 L488.97 221.95 L489.23 221.82 L489.50 221.92 L489.76 222.25 L490.02 222.64 L490.28 221.46 L490.54 222.00 L490.80 222.13 L491.06 222.30 L491.32 222.10 L491.58 221.99 L491.84 221.99 L492.10 222.09 L492.36 221.74 L492.62 222.10 L492.88 222.14 L493.14 221.64 L493.40 221.96 L493.66 221.96 L493.92 222.30 L494.19 222.36 L494.45 222.00 L494.71 221.89 L494.97 222.15 L495.23 222.04 L495.49 221.77 L495.75 222.06 L496.01 222.01 L496.27 222.21 L496.53 221.93 L496.79 222.08 L497.05 221.95 L497.31 222.14 L497.57 221.84 L497.83 222.02 L498.09 221.53 L498.35 221.87 L498.61 222.05 L498.87 222.10 L499.14 222.16 L499.40 222.54 L499.66 221.99 L499.92 222.13 L500.18 222.09 L500.44 221.98 L500.70 222.34 L500.96 222.28 L501.22 221.81 L501.48 222.37 L501.74 222.35 L502.00 222.09 L502.26 221.41 L502.52 221.75 L502.78 222.07 L503.04 221.95 L503.30 221.92 L503.56 221.70 L503.83 221.92 L504.09 221.71 L504.35 221.72 L504.61 221.66 L504.87 221.99 L505.13 221.96 L505.39 222.39 L505.65 221.68 L505.91 221.71 L506.17 222.19 L506.43 221.60 L506.69 222.05 L506.95 222.03 L507.21 222.06 L507.47 222.05 L507.73 222.09 L507.99 222.36 L508.25 222.82 L508.52 222.38 L508.78 221.71 L509.04 222.28 L509.30 222.42 L509.56 222.52 L509.82 221.94 L510.08 222.07 L510.34 221.79 L510.60 221.65 L510.86 221.90 L511.12 222.17 L511.38 222.02 L511.64 221.98 L511.90 222.51 L512.16 221.95 L512.42 222.50 L512.68 222.06 L512.94 221.73 L513.21 221.98 L513.47 222.54 L513.73 222.16 L513.99 221.68 L514.25 221.47 L514.51 221.59 L514.77 221.59 L515.03 221.83 L515.29 221.92 L515.55 222.04 L515.81 221.69 L516.07 222.09 L516.33 221.43 L516.59 221.67 L516.85 222.57 L517.11 222.71 L517.37 221.98 L517.63 222.33 L517.90 221.99 L518.16 222.46 L518.42 222.77 L518.68 221.89 L518.94 221.81 L519.20 221.44 L519.46 222.10 L519.72 222.30 L519.98 221.97 L520.24 222.30 L520.50 222.13 L520.76 222.20 L521.02 222.12 L521.28 222.08 L521.54 221.84 L521.80 221.82 L522.06 221.83 L522.32 221.62 L522.58 221.27 L522.85 221.79 L523.11 222.01 L523.37 222.14 L523.63 221.63 L523.89 221.76 L524.15 221.55 L524.41 221.56 L524.67 221.47 L524.93 222.35 L525.19 222.03 L525.45 221.74 L525.71 222.18 L525.97 222.21 L526.23 221.70 L526.49 222.17 L526.75 221.76 L527.01 222.20 L527.27 222.66 L527.54 222.48 L527.80 222.44 L528.06 222.42 L528.32 222.04 L528.58 221.96 L528.84 221.88 L529.10 222.00 L529.36 221.88 L529.62 222.32 L529.88 222.18 L530.14 222.04 L530.40 222.05 L530.66 222.06 L530.92 222.10 L531.18 221.81 L531.44 221.99 L531.70 222.11 L531.96 222.04 L532.23 221.84 L532.49 221.78 L532.75 221.98 L533.01 221.74 L533.27 222.20 L533.53 222.09 L533.79 222.12 L534.05 221.83 L534.31 222.21 L534.57 222.33 L534.83 222.42 L535.09 222.49 L535.35 221.81 L535.61 221.60 L535.87 221.77 L536.13 221.82 L536.39 221.35 L536.65 221.98 L536.92 222.07 L537.18 221.91 L537.44 222.26 L537.70 222.03 L537.96 222.01 L538.22 222.15 L538.48 221.79 L538.74 222.17 L539.00 221.59 L539.26 222.00 L539.52 221.85 L539.78 222.31 L540.04 222.06 L540.30 221.55 L540.56 221.91 L540.82 222.21 L541.08 221.92 L541.34 222.19 L541.61 221.98 L541.87 221.69 L542.13 221.95 L542.39 222.08 L542.65 221.99 L542.91 221.88 L543.17 222.16" fill="none" stroke="#2828f2" stroke-width="0.98" stroke-linejoin="round" stroke-opacity="1.00"/>
</g></g>
<rect x="311.80" y="28.20" width="231.60" height="197.10" fill="none" stroke="#111" stroke-width="1.3"/>
<line x1="311.80" y1="61.05" x2="315.80" y2="61.05" stroke="#111" stroke-width="1.3"/>
<line x1="311.80" y1="93.90" x2="315.80" y2="93.90" stroke="#111" stroke-width="1.3"/>
<line x1="311.80" y1="126.75" x2="315.80" y2="126.75" stroke="#111" stroke-width="1.3"/>
<line x1="311.80" y1="159.60" x2="315.80" y2="159.60" stroke="#111" stroke-width="1.3"/>
<line x1="311.80" y1="192.45" x2="315.80" y2="192.45" stroke="#111" stroke-width="1.3"/>
<line x1="340.75" y1="225.30" x2="340.75" y2="221.30" stroke="#111" stroke-width="1.3"/>
<line x1="369.70" y1="225.30" x2="369.70" y2="221.30" stroke="#111" stroke-width="1.3"/>
<line x1="398.65" y1="225.30" x2="398.65" y2="221.30" stroke="#111" stroke-width="1.3"/>
<line x1="427.60" y1="225.30" x2="427.60" y2="221.30" stroke="#111" stroke-width="1.3"/>
<line x1="456.55" y1="225.30" x2="456.55" y2="221.30" stroke="#111" stroke-width="1.3"/>
<line x1="485.50" y1="225.30" x2="485.50" y2="221.30" stroke="#111" stroke-width="1.3"/>
<line x1="514.45" y1="225.30" x2="514.45" y2="221.30" stroke="#111" stroke-width="1.3"/>
<text x="304.388" y="240.100" font-family="Liberation Sans, sans-serif" font-size="12.857" fill="#000" stroke="#000" stroke-width="0.10" textLength="14.722" lengthAdjust="spacingAndGlyphs">20</text>
<text x="333.338" y="240.100" font-family="Liberation Sans, sans-serif" font-size="12.857" fill="#000" stroke="#000" stroke-width="0.10" textLength="14.722" lengthAdjust="spacingAndGlyphs">25</text>
<text x="362.426" y="240.100" font-family="Liberation Sans, sans-serif" font-size="12.857" fill="#000" stroke="#000" stroke-width="0.10" textLength="14.579" lengthAdjust="spacingAndGlyphs">30</text>
<text x="391.376" y="240.100" font-family="Liberation Sans, sans-serif" font-size="12.857" fill="#000" stroke="#000" stroke-width="0.10" textLength="14.579" lengthAdjust="spacingAndGlyphs">35</text>
<text x="420.593" y="240.100" font-family="Liberation Sans, sans-serif" font-size="12.857" fill="#000" stroke="#000" stroke-width="0.10" textLength="14.302" lengthAdjust="spacingAndGlyphs">40</text>
<text x="449.543" y="240.100" font-family="Liberation Sans, sans-serif" font-size="13.043" fill="#000" stroke="#000" stroke-width="0.10" textLength="14.302" lengthAdjust="spacingAndGlyphs">45</text>
<text x="478.226" y="240.100" font-family="Liberation Sans, sans-serif" font-size="12.857" fill="#000" stroke="#000" stroke-width="0.10" textLength="14.579" lengthAdjust="spacingAndGlyphs">50</text>
<text x="507.176" y="240.100" font-family="Liberation Sans, sans-serif" font-size="13.043" fill="#000" stroke="#000" stroke-width="0.10" textLength="14.579" lengthAdjust="spacingAndGlyphs">55</text>
<text x="535.988" y="240.100" font-family="Liberation Sans, sans-serif" font-size="12.857" fill="#000" stroke="#000" stroke-width="0.10" textLength="14.722" lengthAdjust="spacingAndGlyphs">60</text>
<rect x="353.75" y="19.10" width="7.00" height="7.00" fill="#ff0000"/>
<rect x="379.52" y="19.10" width="7.00" height="7.00" fill="#ff0000"/>
<rect x="460.58" y="19.10" width="7.00" height="7.00" fill="#ff0000"/>
<rect x="510.95" y="19.10" width="7.00" height="7.00" fill="#ff0000"/>
<text x="419.760" y="25.300" font-family="Liberation Sans, sans-serif" font-size="12.899" fill="#000" stroke="#000" stroke-width="0.10" textLength="19.799" lengthAdjust="spacingAndGlyphs">Mo</text>
<circle cx="330.91" cy="167.00" r="2.85" fill="#0000ff"/>
<circle cx="388.23" cy="168.60" r="2.85" fill="#0000ff"/>
<circle cx="448.44" cy="168.80" r="2.85" fill="#0000ff"/>
<path d="M356.09 165.45L358.99 170.15L353.19 170.15Z" fill="#ffa500"/>
<path d="M365.07 165.45L367.97 170.15L362.17 170.15Z" fill="#ffa500"/>
<path d="M379.54 151.45L382.44 156.15L376.64 156.15Z" fill="#ffa500"/>
<path d="M473.05 149.95L475.95 154.65L470.15 154.65Z" fill="#ffa500"/>
<text x="478.791" y="78.800" font-family="Liberation Sans, sans-serif" font-size="10.571" fill="#000" stroke="#000" stroke-width="0.22" textLength="17.003" lengthAdjust="spacingAndGlyphs">600</text>
<text x="498.180" y="78.800" font-family="Liberation Sans, sans-serif" font-size="10.571" fill="#000" stroke="#000" stroke-width="0.15" textLength="11.181" lengthAdjust="spacingAndGlyphs"><tspan font-size="88%" dy="-0.14em" stroke-width="0.12">°</tspan><tspan dy="0.123em">C</tspan></text>
<text x="478.895" y="100.400" font-family="Liberation Sans, sans-serif" font-size="10.571" fill="#000" stroke="#000" stroke-width="0.22" textLength="16.896" lengthAdjust="spacingAndGlyphs">550</text>
<text x="498.180" y="100.400" font-family="Liberation Sans, sans-serif" font-size="10.571" fill="#000" stroke="#000" stroke-width="0.15" textLength="11.181" lengthAdjust="spacingAndGlyphs"><tspan font-size="88%" dy="-0.14em" stroke-width="0.12">°</tspan><tspan dy="0.123em">C</tspan></text>
<text x="478.895" y="121.600" font-family="Liberation Sans, sans-serif" font-size="10.571" fill="#000" stroke="#000" stroke-width="0.22" textLength="16.896" lengthAdjust="spacingAndGlyphs">500</text>
<text x="498.180" y="121.600" font-family="Liberation Sans, sans-serif" font-size="10.571" fill="#000" stroke="#000" stroke-width="0.15" textLength="11.181" lengthAdjust="spacingAndGlyphs"><tspan font-size="88%" dy="-0.14em" stroke-width="0.12">°</tspan><tspan dy="0.123em">C</tspan></text>
<text x="479.100" y="140.400" font-family="Liberation Sans, sans-serif" font-size="10.571" fill="#000" stroke="#000" stroke-width="0.22" textLength="16.686" lengthAdjust="spacingAndGlyphs">450</text>
<text x="498.180" y="140.400" font-family="Liberation Sans, sans-serif" font-size="10.571" fill="#000" stroke="#000" stroke-width="0.15" textLength="11.181" lengthAdjust="spacingAndGlyphs"><tspan font-size="88%" dy="-0.14em" stroke-width="0.12">°</tspan><tspan dy="0.123em">C</tspan></text>
<text x="479.100" y="161.600" font-family="Liberation Sans, sans-serif" font-size="10.571" fill="#000" stroke="#000" stroke-width="0.22" textLength="16.686" lengthAdjust="spacingAndGlyphs">400</text>
<text x="498.180" y="161.600" font-family="Liberation Sans, sans-serif" font-size="10.571" fill="#000" stroke="#000" stroke-width="0.15" textLength="11.181" lengthAdjust="spacingAndGlyphs"><tspan font-size="88%" dy="-0.14em" stroke-width="0.12">°</tspan><tspan dy="0.123em">C</tspan></text>
<text x="478.895" y="181.100" font-family="Liberation Sans, sans-serif" font-size="10.571" fill="#000" stroke="#000" stroke-width="0.22" textLength="16.896" lengthAdjust="spacingAndGlyphs">350</text>
<text x="498.180" y="181.100" font-family="Liberation Sans, sans-serif" font-size="10.571" fill="#000" stroke="#000" stroke-width="0.15" textLength="11.181" lengthAdjust="spacingAndGlyphs"><tspan font-size="88%" dy="-0.14em" stroke-width="0.12">°</tspan><tspan dy="0.123em">C</tspan></text>
<text x="478.895" y="198.800" font-family="Liberation Sans, sans-serif" font-size="10.571" fill="#000" stroke="#000" stroke-width="0.22" textLength="16.896" lengthAdjust="spacingAndGlyphs">300</text>
<text x="498.180" y="198.800" font-family="Liberation Sans, sans-serif" font-size="10.571" fill="#000" stroke="#000" stroke-width="0.15" textLength="11.181" lengthAdjust="spacingAndGlyphs"><tspan font-size="88%" dy="-0.14em" stroke-width="0.12">°</tspan><tspan dy="0.123em">C</tspan></text>
<text x="478.791" y="216.800" font-family="Liberation Sans, sans-serif" font-size="10.571" fill="#000" stroke="#000" stroke-width="0.22" textLength="17.003" lengthAdjust="spacingAndGlyphs">250</text>
<text x="498.180" y="216.800" font-family="Liberation Sans, sans-serif" font-size="10.571" fill="#000" stroke="#000" stroke-width="0.15" textLength="11.181" lengthAdjust="spacingAndGlyphs"><tspan font-size="88%" dy="-0.14em" stroke-width="0.12">°</tspan><tspan dy="0.123em">C</tspan></text>
<text x="399.430" y="258.400" font-family="Liberation Sans, sans-serif" font-size="12.740" fill="#000" stroke="#000" stroke-width="0.10" textLength="55.761" lengthAdjust="spacingAndGlyphs">2 <tspan font-family="Liberation Serif, serif" font-style="italic" font-size="112%" stroke-width="0.45">θ</tspan> [deg.]</text>
<text transform="rotate(-90)" x="-167.269" y="303.900" font-family="Liberation Sans, sans-serif" font-size="13.288" fill="#000" stroke="#000" stroke-width="0.10" textLength="80.851" lengthAdjust="spacingAndGlyphs">Intensity [a.u.]</text>
<text x="285.775" y="9.800" font-family="Liberation Sans, sans-serif" font-size="11.370" fill="#000" stroke="#000" stroke-width="0.00" textLength="14.777" lengthAdjust="spacingAndGlyphs">(b)</text>
<path d="M155 265.8 L164 279.8 L146 279.8 Z" fill="#ffa500"/>
<text x="168.537" y="277.000" font-family="Liberation Sans, sans-serif" font-size="13.000" fill="#000" stroke="#000" stroke-width="0.15" textLength="29.549" lengthAdjust="spacingAndGlyphs">: CuS</text>
<circle cx="223.6" cy="273.1" r="7.4" fill="#0000ff"/>
<text x="235.999" y="276.800" font-family="Liberation Sans, sans-serif" font-size="12.714" fill="#000" stroke="#000" stroke-width="0.15" textLength="34.294" lengthAdjust="spacingAndGlyphs">: In<tspan font-size="67%" dy="0.36em">2</tspan><tspan dy="-0.2412em">S</tspan><tspan font-size="67%" dy="0.36em">3</tspan></text>
<rect x="290.1" y="266.4" width="14" height="13.6" fill="#ff0000"/>
<text x="311.006" y="277.000" font-family="Liberation Sans, sans-serif" font-size="13.000" fill="#000" stroke="#000" stroke-width="0.15" textLength="45.051" lengthAdjust="spacingAndGlyphs">: CuInS<tspan font-size="67%" dy="0.36em">2</tspan></text>
<path d="M375.70 266.05L382.05 274.00L375.70 281.95L369.35 274.00Z" fill="#008000"/>
<text x="387.926" y="277.000" font-family="Liberation Sans, sans-serif" font-size="12.571" fill="#000" stroke="#000" stroke-width="0.15" textLength="50.224" lengthAdjust="spacingAndGlyphs">: CuGaS<tspan font-size="67%" dy="0.36em">2</tspan></text>
</g>
</svg>
</body></html>
